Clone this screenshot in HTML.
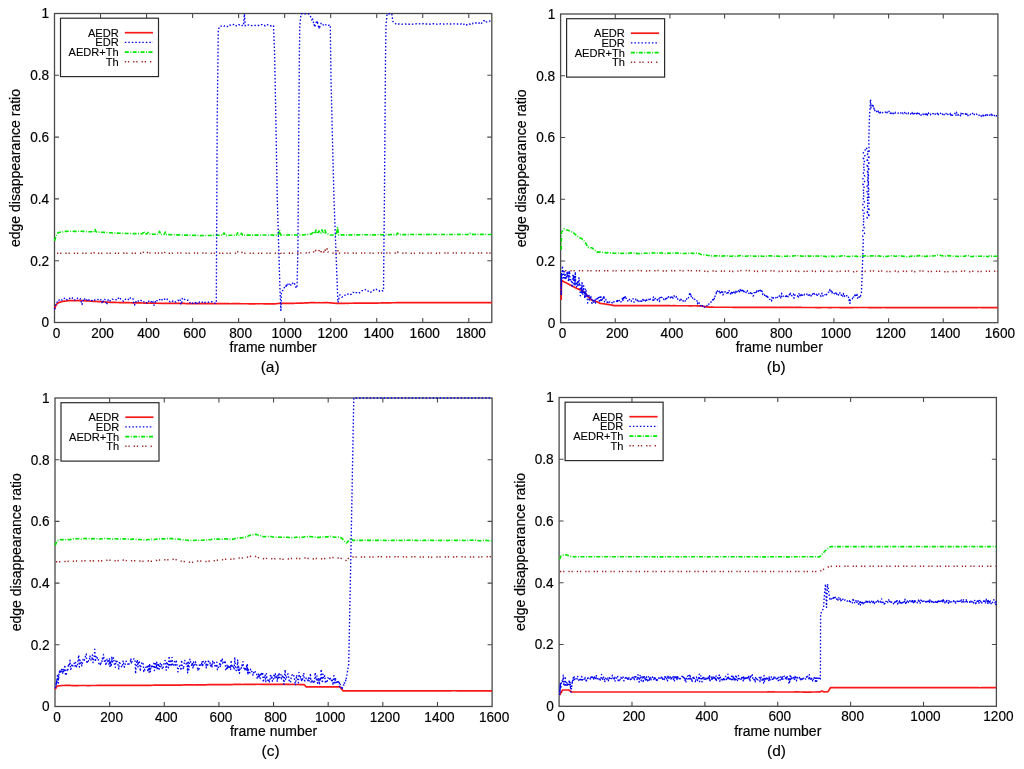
<!DOCTYPE html>
<html><head><meta charset="utf-8"><style>
html,body{margin:0;padding:0;background:#fff;}
body{width:1024px;height:769px;overflow:hidden;}
svg{display:block;will-change:transform;}
text{font-family:"Liberation Sans", sans-serif;fill:#000;stroke:#000;stroke-width:0.18px;}
.tk{font-size:14.2px;}
.lb{font-size:14px;}
.lg{font-size:11.1px;stroke-width:0.1px;}
.cap{font-size:15.5px;stroke-width:0.15px;}
</style></head><body>
<svg width="1024" height="769" viewBox="0 0 1024 769">
<rect width="1024" height="769" fill="#fff"/>
<text transform="translate(56.50,337.50) scale(0.960,1)" text-anchor="middle" class="tk">0</text>
<path d="M100.53 322.50V318.00M100.53 13.50V18.00" stroke="#4a4a4a" stroke-width="1.1"/>
<text transform="translate(102.53,337.50) scale(0.960,1)" text-anchor="middle" class="tk">200</text>
<path d="M146.56 322.50V318.00M146.56 13.50V18.00" stroke="#4a4a4a" stroke-width="1.1"/>
<text transform="translate(148.56,337.50) scale(0.960,1)" text-anchor="middle" class="tk">400</text>
<path d="M192.59 322.50V318.00M192.59 13.50V18.00" stroke="#4a4a4a" stroke-width="1.1"/>
<text transform="translate(194.59,337.50) scale(0.960,1)" text-anchor="middle" class="tk">600</text>
<path d="M238.63 322.50V318.00M238.63 13.50V18.00" stroke="#4a4a4a" stroke-width="1.1"/>
<text transform="translate(240.63,337.50) scale(0.960,1)" text-anchor="middle" class="tk">800</text>
<path d="M284.66 322.50V318.00M284.66 13.50V18.00" stroke="#4a4a4a" stroke-width="1.1"/>
<text transform="translate(286.66,337.50) scale(0.960,1)" text-anchor="middle" class="tk">1000</text>
<path d="M330.69 322.50V318.00M330.69 13.50V18.00" stroke="#4a4a4a" stroke-width="1.1"/>
<text transform="translate(332.69,337.50) scale(0.960,1)" text-anchor="middle" class="tk">1200</text>
<path d="M376.72 322.50V318.00M376.72 13.50V18.00" stroke="#4a4a4a" stroke-width="1.1"/>
<text transform="translate(378.72,337.50) scale(0.960,1)" text-anchor="middle" class="tk">1400</text>
<path d="M422.75 322.50V318.00M422.75 13.50V18.00" stroke="#4a4a4a" stroke-width="1.1"/>
<text transform="translate(424.75,337.50) scale(0.960,1)" text-anchor="middle" class="tk">1600</text>
<path d="M468.78 322.50V318.00M468.78 13.50V18.00" stroke="#4a4a4a" stroke-width="1.1"/>
<text transform="translate(470.78,337.50) scale(0.960,1)" text-anchor="middle" class="tk">1800</text>
<text transform="translate(49.10,327.40) scale(0.960,1)" text-anchor="end" class="tk">0</text>
<path d="M54.50 260.70H59.00M491.80 260.70H487.30" stroke="#4a4a4a" stroke-width="1.1"/>
<text transform="translate(49.10,265.60) scale(0.960,1)" text-anchor="end" class="tk">0.2</text>
<path d="M54.50 198.90H59.00M491.80 198.90H487.30" stroke="#4a4a4a" stroke-width="1.1"/>
<text transform="translate(49.10,203.80) scale(0.960,1)" text-anchor="end" class="tk">0.4</text>
<path d="M54.50 137.10H59.00M491.80 137.10H487.30" stroke="#4a4a4a" stroke-width="1.1"/>
<text transform="translate(49.10,142.00) scale(0.960,1)" text-anchor="end" class="tk">0.6</text>
<path d="M54.50 75.30H59.00M491.80 75.30H487.30" stroke="#4a4a4a" stroke-width="1.1"/>
<text transform="translate(49.10,80.20) scale(0.960,1)" text-anchor="end" class="tk">0.8</text>
<text transform="translate(49.10,18.40) scale(0.960,1)" text-anchor="end" class="tk">1</text>
<rect x="54.50" y="13.50" width="437.30" height="309.00" fill="none" stroke="#4a4a4a" stroke-width="1.3"/>
<text x="273.15" y="352.10" text-anchor="middle" class="lb">frame number</text>
<text transform="translate(20.30,168.00) rotate(-90)" text-anchor="middle" class="lb">edge disappearance ratio</text>
<text x="270.15" y="371.70" text-anchor="middle" class="cap">(a)</text>
<text transform="translate(562.60,337.70) scale(0.960,1)" text-anchor="middle" class="tk">0</text>
<path d="M615.26 322.70V318.20M615.26 14.00V18.50" stroke="#4a4a4a" stroke-width="1.1"/>
<text transform="translate(617.26,337.70) scale(0.960,1)" text-anchor="middle" class="tk">200</text>
<path d="M669.92 322.70V318.20M669.92 14.00V18.50" stroke="#4a4a4a" stroke-width="1.1"/>
<text transform="translate(671.92,337.70) scale(0.960,1)" text-anchor="middle" class="tk">400</text>
<path d="M724.59 322.70V318.20M724.59 14.00V18.50" stroke="#4a4a4a" stroke-width="1.1"/>
<text transform="translate(726.59,337.70) scale(0.960,1)" text-anchor="middle" class="tk">600</text>
<path d="M779.25 322.70V318.20M779.25 14.00V18.50" stroke="#4a4a4a" stroke-width="1.1"/>
<text transform="translate(781.25,337.70) scale(0.960,1)" text-anchor="middle" class="tk">800</text>
<path d="M833.91 322.70V318.20M833.91 14.00V18.50" stroke="#4a4a4a" stroke-width="1.1"/>
<text transform="translate(835.91,337.70) scale(0.960,1)" text-anchor="middle" class="tk">1000</text>
<path d="M888.58 322.70V318.20M888.58 14.00V18.50" stroke="#4a4a4a" stroke-width="1.1"/>
<text transform="translate(890.58,337.70) scale(0.960,1)" text-anchor="middle" class="tk">1200</text>
<path d="M943.24 322.70V318.20M943.24 14.00V18.50" stroke="#4a4a4a" stroke-width="1.1"/>
<text transform="translate(945.24,337.70) scale(0.960,1)" text-anchor="middle" class="tk">1400</text>
<text transform="translate(999.90,337.70) scale(0.960,1)" text-anchor="middle" class="tk">1600</text>
<text transform="translate(555.20,327.60) scale(0.960,1)" text-anchor="end" class="tk">0</text>
<path d="M560.60 260.96H565.10M997.90 260.96H993.40" stroke="#4a4a4a" stroke-width="1.1"/>
<text transform="translate(555.20,265.86) scale(0.960,1)" text-anchor="end" class="tk">0.2</text>
<path d="M560.60 199.22H565.10M997.90 199.22H993.40" stroke="#4a4a4a" stroke-width="1.1"/>
<text transform="translate(555.20,204.12) scale(0.960,1)" text-anchor="end" class="tk">0.4</text>
<path d="M560.60 137.48H565.10M997.90 137.48H993.40" stroke="#4a4a4a" stroke-width="1.1"/>
<text transform="translate(555.20,142.38) scale(0.960,1)" text-anchor="end" class="tk">0.6</text>
<path d="M560.60 75.74H565.10M997.90 75.74H993.40" stroke="#4a4a4a" stroke-width="1.1"/>
<text transform="translate(555.20,80.64) scale(0.960,1)" text-anchor="end" class="tk">0.8</text>
<text transform="translate(555.20,18.90) scale(0.960,1)" text-anchor="end" class="tk">1</text>
<rect x="560.60" y="14.00" width="437.30" height="308.70" fill="none" stroke="#4a4a4a" stroke-width="1.3"/>
<text x="779.25" y="352.30" text-anchor="middle" class="lb">frame number</text>
<text transform="translate(526.40,168.35) rotate(-90)" text-anchor="middle" class="lb">edge disappearance ratio</text>
<text x="776.25" y="371.90" text-anchor="middle" class="cap">(b)</text>
<text transform="translate(57.00,721.50) scale(0.960,1)" text-anchor="middle" class="tk">0</text>
<path d="M109.64 706.50V702.00M109.64 398.00V402.50" stroke="#4a4a4a" stroke-width="1.1"/>
<text transform="translate(111.64,721.50) scale(0.960,1)" text-anchor="middle" class="tk">200</text>
<path d="M164.28 706.50V702.00M164.28 398.00V402.50" stroke="#4a4a4a" stroke-width="1.1"/>
<text transform="translate(166.28,721.50) scale(0.960,1)" text-anchor="middle" class="tk">400</text>
<path d="M218.91 706.50V702.00M218.91 398.00V402.50" stroke="#4a4a4a" stroke-width="1.1"/>
<text transform="translate(220.91,721.50) scale(0.960,1)" text-anchor="middle" class="tk">600</text>
<path d="M273.55 706.50V702.00M273.55 398.00V402.50" stroke="#4a4a4a" stroke-width="1.1"/>
<text transform="translate(275.55,721.50) scale(0.960,1)" text-anchor="middle" class="tk">800</text>
<path d="M328.19 706.50V702.00M328.19 398.00V402.50" stroke="#4a4a4a" stroke-width="1.1"/>
<text transform="translate(330.19,721.50) scale(0.960,1)" text-anchor="middle" class="tk">1000</text>
<path d="M382.82 706.50V702.00M382.82 398.00V402.50" stroke="#4a4a4a" stroke-width="1.1"/>
<text transform="translate(384.82,721.50) scale(0.960,1)" text-anchor="middle" class="tk">1200</text>
<path d="M437.46 706.50V702.00M437.46 398.00V402.50" stroke="#4a4a4a" stroke-width="1.1"/>
<text transform="translate(439.46,721.50) scale(0.960,1)" text-anchor="middle" class="tk">1400</text>
<text transform="translate(494.10,721.50) scale(0.960,1)" text-anchor="middle" class="tk">1600</text>
<text transform="translate(49.60,711.40) scale(0.960,1)" text-anchor="end" class="tk">0</text>
<path d="M55.00 644.80H59.50M492.10 644.80H487.60" stroke="#4a4a4a" stroke-width="1.1"/>
<text transform="translate(49.60,649.70) scale(0.960,1)" text-anchor="end" class="tk">0.2</text>
<path d="M55.00 583.10H59.50M492.10 583.10H487.60" stroke="#4a4a4a" stroke-width="1.1"/>
<text transform="translate(49.60,588.00) scale(0.960,1)" text-anchor="end" class="tk">0.4</text>
<path d="M55.00 521.40H59.50M492.10 521.40H487.60" stroke="#4a4a4a" stroke-width="1.1"/>
<text transform="translate(49.60,526.30) scale(0.960,1)" text-anchor="end" class="tk">0.6</text>
<path d="M55.00 459.70H59.50M492.10 459.70H487.60" stroke="#4a4a4a" stroke-width="1.1"/>
<text transform="translate(49.60,464.60) scale(0.960,1)" text-anchor="end" class="tk">0.8</text>
<text transform="translate(49.60,402.90) scale(0.960,1)" text-anchor="end" class="tk">1</text>
<rect x="55.00" y="398.00" width="437.10" height="308.50" fill="none" stroke="#4a4a4a" stroke-width="1.3"/>
<text x="273.55" y="736.10" text-anchor="middle" class="lb">frame number</text>
<text transform="translate(20.80,552.25) rotate(-90)" text-anchor="middle" class="lb">edge disappearance ratio</text>
<text x="270.55" y="755.70" text-anchor="middle" class="cap">(c)</text>
<text transform="translate(561.10,721.30) scale(0.960,1)" text-anchor="middle" class="tk">0</text>
<path d="M631.98 706.30V701.80M631.98 397.50V402.00" stroke="#4a4a4a" stroke-width="1.1"/>
<text transform="translate(633.98,721.30) scale(0.960,1)" text-anchor="middle" class="tk">200</text>
<path d="M704.87 706.30V701.80M704.87 397.50V402.00" stroke="#4a4a4a" stroke-width="1.1"/>
<text transform="translate(706.87,721.30) scale(0.960,1)" text-anchor="middle" class="tk">400</text>
<path d="M777.75 706.30V701.80M777.75 397.50V402.00" stroke="#4a4a4a" stroke-width="1.1"/>
<text transform="translate(779.75,721.30) scale(0.960,1)" text-anchor="middle" class="tk">600</text>
<path d="M850.63 706.30V701.80M850.63 397.50V402.00" stroke="#4a4a4a" stroke-width="1.1"/>
<text transform="translate(852.63,721.30) scale(0.960,1)" text-anchor="middle" class="tk">800</text>
<path d="M923.52 706.30V701.80M923.52 397.50V402.00" stroke="#4a4a4a" stroke-width="1.1"/>
<text transform="translate(925.52,721.30) scale(0.960,1)" text-anchor="middle" class="tk">1000</text>
<text transform="translate(998.40,721.30) scale(0.960,1)" text-anchor="middle" class="tk">1200</text>
<text transform="translate(553.70,711.20) scale(0.960,1)" text-anchor="end" class="tk">0</text>
<path d="M559.10 644.54H563.60M996.40 644.54H991.90" stroke="#4a4a4a" stroke-width="1.1"/>
<text transform="translate(553.70,649.44) scale(0.960,1)" text-anchor="end" class="tk">0.2</text>
<path d="M559.10 582.78H563.60M996.40 582.78H991.90" stroke="#4a4a4a" stroke-width="1.1"/>
<text transform="translate(553.70,587.68) scale(0.960,1)" text-anchor="end" class="tk">0.4</text>
<path d="M559.10 521.02H563.60M996.40 521.02H991.90" stroke="#4a4a4a" stroke-width="1.1"/>
<text transform="translate(553.70,525.92) scale(0.960,1)" text-anchor="end" class="tk">0.6</text>
<path d="M559.10 459.26H563.60M996.40 459.26H991.90" stroke="#4a4a4a" stroke-width="1.1"/>
<text transform="translate(553.70,464.16) scale(0.960,1)" text-anchor="end" class="tk">0.8</text>
<text transform="translate(553.70,402.40) scale(0.960,1)" text-anchor="end" class="tk">1</text>
<rect x="559.10" y="397.50" width="437.30" height="308.80" fill="none" stroke="#4a4a4a" stroke-width="1.3"/>
<text x="777.75" y="735.90" text-anchor="middle" class="lb">frame number</text>
<text transform="translate(524.90,551.90) rotate(-90)" text-anchor="middle" class="lb">edge disappearance ratio</text>
<text x="776.55" y="755.50" text-anchor="middle" class="cap">(d)</text>
<polyline points="57.00,253.30 58.00,253.30 59.00,253.29 60.00,253.29 61.00,253.29 62.00,253.28 63.00,253.28 64.00,253.28 65.00,253.28 66.00,253.28 67.00,253.27 68.00,253.26 69.00,253.25 70.00,253.25 71.00,253.26 72.00,253.26 73.00,253.26 74.00,253.25 75.00,253.25 76.00,253.22 77.00,253.22 78.00,253.23 79.00,253.20 80.00,253.23 81.00,253.27 82.00,253.27 83.00,253.30 84.00,253.33 85.00,253.31 86.00,253.25 87.00,253.26 88.00,253.22 89.00,253.18 90.00,253.17 90.95,253.16 91.90,253.14 92.85,253.13 93.80,253.20 94.40,252.58 95.00,251.99 96.20,253.18 97.21,253.16 98.22,253.14 99.23,253.14 100.23,253.18 101.24,253.15 102.25,253.18 103.26,253.19 104.27,253.14 105.28,253.13 106.29,253.17 107.30,253.16 108.30,253.17 109.31,253.22 110.32,253.23 111.33,253.23 112.34,253.22 113.35,253.17 114.36,253.17 115.37,253.16 116.37,253.15 117.38,253.15 118.39,253.20 119.40,253.20 120.41,253.20 121.42,253.17 122.43,253.15 123.43,253.12 124.44,253.13 125.45,253.09 126.46,253.16 127.47,253.19 128.48,253.15 129.49,253.17 130.50,253.15 131.50,253.14 132.51,253.14 133.52,253.19 134.53,253.15 135.54,253.17 136.55,253.16 137.56,253.15 138.57,253.13 139.57,253.13 140.58,253.17 141.59,253.17 142.60,253.14 143.20,252.37 143.80,251.62 144.40,252.36 145.00,253.08 145.90,253.10 146.80,253.08 148.00,252.12 149.20,253.07 150.21,253.09 151.22,253.06 152.23,253.11 153.24,253.16 154.26,253.13 155.27,253.11 156.28,253.19 157.29,253.19 158.30,253.17 158.90,252.38 159.50,251.60 159.75,252.35 160.00,253.06 160.70,253.06 161.83,253.10 162.97,253.08 164.10,253.08 165.30,251.91 165.90,252.52 166.50,253.13 167.51,253.16 168.51,253.19 169.52,253.18 170.52,253.18 171.53,253.16 172.53,253.13 173.54,253.15 174.54,253.13 175.55,253.08 176.55,253.10 177.56,253.09 178.56,253.05 179.57,253.07 180.57,253.08 181.58,253.07 182.59,253.08 183.59,253.09 184.60,253.06 185.60,253.12 186.61,253.16 187.61,253.17 188.62,253.17 189.62,253.18 190.63,253.14 191.63,253.11 192.64,253.10 193.64,253.08 194.65,253.10 195.66,253.13 196.66,253.09 197.67,253.14 198.67,253.15 199.68,253.13 200.68,253.13 201.69,253.15 202.69,253.10 203.70,253.11 204.70,253.13 205.71,253.13 206.71,253.11 207.72,253.16 208.73,253.16 209.73,253.13 210.74,253.14 211.74,253.18 212.75,253.14 213.75,253.14 214.76,253.19 215.76,253.19 216.77,253.18 217.77,253.17 218.78,253.17 219.78,253.17 220.79,253.19 221.79,253.20 222.80,253.22 224.00,251.98 224.60,252.59 225.20,253.19 226.22,253.18 227.24,253.19 228.25,253.21 229.27,253.25 230.29,253.20 231.31,253.24 232.33,253.23 233.35,253.26 234.36,253.26 235.38,253.31 236.40,253.24 237.00,252.47 237.60,251.70 238.20,252.43 238.80,253.15 240.00,253.17 240.30,253.15 241.50,252.20 242.70,253.16 243.71,253.14 244.72,253.15 245.73,253.18 246.73,253.16 247.74,253.12 248.75,253.11 249.76,253.15 250.77,253.14 251.78,253.16 252.79,253.20 253.79,253.22 254.80,253.17 255.81,253.21 256.82,253.24 257.83,253.26 258.84,253.27 259.85,253.29 260.85,253.26 261.86,253.24 262.87,253.24 263.88,253.28 264.89,253.27 265.90,253.28 266.91,253.30 267.91,253.29 268.92,253.26 269.93,253.27 270.94,253.26 271.95,253.28 272.96,253.28 273.97,253.29 274.97,253.29 275.98,253.35 276.99,253.37 278.00,253.35 278.30,253.34 278.70,252.54 279.10,251.75 279.50,250.99 280.10,252.11 280.70,253.23 281.71,253.24 282.72,253.20 283.74,253.22 284.75,253.23 285.76,253.20 286.77,253.16 287.79,253.17 288.80,253.16 289.81,253.12 290.82,253.17 291.84,253.19 292.85,253.19 293.86,253.16 294.88,253.12 295.89,253.02 296.90,253.00 297.91,253.00 298.93,252.97 299.94,253.00 300.95,253.02 301.96,253.07 302.98,253.00 303.99,253.02 305.00,253.02 305.97,252.91 306.94,252.74 307.91,252.69 308.89,252.63 309.86,252.49 310.83,252.45 311.80,252.44 312.00,252.46 313.00,251.27 314.20,252.41 314.80,252.28 315.40,251.19 316.00,250.17 316.60,251.08 317.20,251.93 317.80,251.96 318.40,251.33 319.00,250.57 319.60,251.35 320.20,252.15 320.80,252.16 321.20,251.33 321.60,250.56 322.00,249.77 322.60,250.92 323.20,252.11 323.80,252.03 324.40,250.93 325.00,249.87 325.40,250.88 325.80,251.83 326.20,251.81 326.47,250.75 326.73,249.76 327.00,248.80 327.30,249.65 327.60,250.52 327.90,251.46 328.20,252.35 329.10,252.76 330.00,253.16 331.05,253.16 332.10,253.13 333.15,253.11 334.20,253.08 335.25,253.04 336.30,253.03 336.60,252.16 336.90,251.33 337.20,250.47 337.50,249.60 337.80,250.46 338.10,251.36 338.40,252.22 338.70,253.10 339.69,253.13 340.69,253.10 341.68,253.08 342.67,253.09 343.67,253.03 344.66,253.04 345.65,253.09 346.64,253.05 347.64,253.07 348.63,253.13 349.62,253.14 350.62,253.10 351.61,253.09 352.60,253.08 353.60,253.10 354.59,253.08 355.58,253.09 356.58,253.14 357.57,253.13 358.56,253.08 359.56,253.04 360.55,253.03 361.54,253.03 362.53,253.02 363.53,253.03 364.52,253.09 365.51,253.11 366.51,253.07 367.50,253.07 368.49,253.07 369.49,253.08 370.48,253.10 371.47,253.14 372.47,253.14 373.46,253.17 374.45,253.11 375.44,253.07 376.44,253.04 377.43,253.05 378.42,253.03 379.42,253.07 380.41,253.09 381.40,253.07 382.40,253.10 383.39,253.10 384.38,253.07 385.38,253.07 386.37,253.10 387.36,253.06 388.36,253.07 389.35,253.09 390.34,253.10 391.33,253.09 392.33,253.15 393.32,253.15 394.31,253.15 395.31,253.10 396.30,253.10 397.50,252.10 398.70,253.07 399.70,253.10 400.70,253.15 401.71,253.15 402.71,253.14 403.71,253.09 404.71,253.03 405.72,252.98 406.72,253.00 407.72,253.02 408.72,253.04 409.72,253.08 410.73,253.14 411.73,253.13 412.73,253.13 413.73,253.12 414.73,253.14 415.74,253.14 416.74,253.11 417.74,253.10 418.74,253.12 419.75,253.11 420.75,253.08 421.75,253.14 422.75,253.17 423.75,253.15 424.76,253.19 425.76,253.17 426.76,253.13 427.76,253.11 428.76,253.15 429.77,253.10 430.77,253.12 431.77,253.12 432.77,253.12 433.78,253.10 434.78,253.16 435.78,253.17 436.78,253.15 437.78,253.15 438.79,253.12 439.79,253.06 440.79,253.05 441.79,253.03 442.79,253.09 443.80,253.11 444.80,253.08 445.80,253.12 446.80,253.15 447.81,253.12 448.81,253.12 449.81,253.17 450.81,253.14 451.81,253.16 452.82,253.12 453.82,253.11 454.82,253.08 455.82,253.07 456.82,253.07 457.83,253.10 458.83,253.11 459.83,253.11 460.83,253.11 461.84,253.07 462.84,253.02 463.84,252.98 464.84,252.99 465.84,253.03 466.85,253.04 467.85,253.08 468.85,253.10 469.85,253.11 470.85,253.11 471.86,253.16 472.86,253.16 473.86,253.16 474.86,253.16 475.87,253.10 476.87,253.06 477.87,253.04 478.87,253.06 479.87,253.03 480.88,253.08 481.88,253.08 482.88,253.10 483.88,253.10 484.88,253.12 485.89,253.09 486.89,253.06 487.89,253.07 488.89,253.06 489.90,253.03 490.90,253.01 491.90,253.05" fill="none" stroke-linejoin="round" stroke="#a02222" stroke-width="1.5" stroke-dasharray="1.3 1.8 1.3 4.0"/>
<polyline points="54.60,240.90 56.00,236.00 56.50,235.16 57.00,234.32 57.50,233.49 58.00,232.61 59.00,232.45 60.00,232.30 61.00,232.13 62.00,231.96 63.00,231.83 64.00,231.63 65.00,231.40 66.00,231.38 67.00,231.34 68.00,231.29 69.00,231.27 70.00,231.28 71.00,231.27 72.00,231.29 73.00,231.32 74.00,231.34 75.00,231.37 76.00,231.40 77.00,231.37 78.00,231.27 79.00,231.26 80.00,231.19 80.99,231.23 81.97,231.30 82.96,231.39 83.94,231.42 84.93,231.54 85.91,231.57 86.90,231.61 87.89,231.65 88.87,231.72 89.86,231.70 90.84,231.74 91.83,231.77 92.81,231.82 93.80,231.85 94.20,231.06 94.60,230.25 95.00,229.45 95.40,230.29 95.80,231.14 96.20,231.99 97.15,232.03 98.10,232.09 99.05,232.13 100.00,232.21 101.00,232.25 102.00,232.29 103.00,232.29 104.00,232.35 105.00,232.37 106.00,232.45 107.00,232.52 108.00,232.60 109.00,232.68 110.00,232.74 111.00,232.81 112.00,232.87 113.00,232.97 114.00,233.00 115.00,233.07 116.00,233.09 117.00,233.14 118.00,233.16 119.00,233.23 120.00,233.28 121.00,233.30 122.00,233.34 123.00,233.34 124.00,233.34 125.00,233.35 126.00,233.41 127.00,233.43 128.00,233.48 129.00,233.48 130.00,233.53 131.00,233.54 132.00,233.57 133.00,233.62 134.00,233.67 135.00,233.64 136.00,233.67 137.00,233.65 138.00,233.65 139.00,233.66 140.00,233.70 140.87,233.71 141.73,233.70 142.60,233.74 143.00,232.93 143.40,232.14 143.80,231.33 144.20,232.18 144.60,233.03 145.00,233.86 145.90,233.82 146.80,233.83 147.40,233.16 148.00,232.47 148.60,233.21 149.20,234.00 150.21,234.06 151.22,234.13 152.23,234.15 153.24,234.19 154.26,234.23 155.27,234.21 156.28,234.24 157.29,234.26 158.30,234.29 158.70,233.31 159.10,232.35 159.50,231.35 159.90,232.39 160.30,233.40 160.70,234.43 161.83,234.44 162.97,234.44 164.10,234.45 164.50,233.69 164.90,232.87 165.30,232.04 165.70,232.90 166.10,233.76 166.50,234.59 167.38,234.59 168.25,234.63 169.12,234.60 170.00,234.67 171.00,234.74 172.00,234.73 173.00,234.78 174.00,234.82 175.00,234.79 176.00,234.76 177.00,234.85 178.00,234.87 179.00,234.92 180.00,234.96 181.00,235.05 182.00,235.07 183.00,235.09 184.00,235.12 185.00,235.17 186.00,235.15 187.00,235.14 188.00,235.18 189.00,235.12 190.00,235.13 191.00,235.14 192.00,235.20 193.00,235.25 194.00,235.33 195.00,235.36 196.00,235.45 197.00,235.46 198.00,235.50 199.00,235.53 200.00,235.58 200.99,235.59 201.98,235.57 202.97,235.55 203.97,235.56 204.96,235.50 205.95,235.49 206.94,235.48 207.93,235.47 208.92,235.45 209.91,235.46 210.90,235.40 211.90,235.44 212.89,235.39 213.88,235.38 214.87,235.34 215.86,235.32 216.85,235.24 217.84,235.25 218.83,235.25 219.83,235.24 220.82,235.24 221.81,235.28 222.80,235.27 223.20,234.47 223.60,233.68 224.00,232.85 224.40,233.69 224.80,234.54 225.20,235.40 226.22,235.41 227.24,235.38 228.25,235.33 229.27,235.32 230.29,235.28 231.31,235.27 232.33,235.25 233.35,235.26 234.36,235.25 235.38,235.24 236.40,235.27 236.80,234.46 237.20,233.62 237.60,232.76 238.00,233.62 238.40,234.47 238.80,235.25 239.55,235.23 240.30,235.23 240.90,234.22 241.50,233.23 242.10,234.22 242.70,235.23 243.71,235.18 244.72,235.24 245.73,235.20 246.73,235.17 247.74,235.14 248.75,235.15 249.76,235.15 250.77,235.17 251.78,235.18 252.79,235.14 253.79,235.14 254.80,235.14 255.81,235.13 256.82,235.11 257.83,235.14 258.84,235.13 259.85,235.05 260.85,235.01 261.86,235.01 262.87,235.02 263.88,235.04 264.89,235.05 265.90,235.05 266.91,235.02 267.91,235.04 268.92,235.00 269.93,235.01 270.94,235.04 271.95,235.08 272.96,235.05 273.97,235.09 274.97,235.13 275.98,235.08 276.99,235.06 278.00,235.03 278.30,235.03 278.54,233.99 278.78,233.02 279.02,232.03 279.26,231.03 279.50,230.00 279.74,231.02 279.98,232.03 280.22,233.04 280.46,234.00 280.70,235.05 281.72,235.04 282.73,235.07 283.75,235.03 284.76,235.07 285.78,234.99 286.79,234.96 287.81,234.95 288.83,234.90 289.84,234.91 290.86,234.93 291.87,234.96 292.89,234.96 293.91,235.01 294.92,234.98 295.94,235.02 296.95,235.02 297.97,235.01 298.98,235.03 300.00,235.04 301.00,234.99 302.00,234.94 303.00,234.85 304.00,234.72 305.00,234.70 306.00,234.64 307.00,234.61 308.00,234.59 308.95,234.39 309.90,234.15 310.85,233.91 311.80,233.63 312.00,233.56 312.50,232.53 313.00,231.49 313.60,232.48 314.20,233.50 314.80,233.47 315.10,232.57 315.40,231.75 315.70,230.80 316.00,229.95 316.30,230.75 316.60,231.55 316.90,232.39 317.20,233.22 317.80,233.32 318.20,232.59 318.60,231.74 319.00,230.91 319.40,231.74 319.80,232.51 320.20,233.27 320.80,233.28 321.10,232.41 321.40,231.52 321.70,230.70 322.00,229.87 322.30,230.70 322.60,231.53 322.90,232.38 323.20,233.24 323.80,233.28 324.20,232.30 324.60,231.33 325.00,230.33 325.40,231.31 325.80,232.36 326.20,233.32 327.00,233.42 328.00,233.98 329.00,234.57 330.00,235.06 331.05,235.03 332.10,234.98 333.15,234.95 334.20,234.97 335.25,234.98 336.30,235.03 336.45,234.09 336.60,233.14 336.75,232.18 336.90,231.22 337.05,230.28 337.20,229.33 337.35,228.39 337.50,227.46 337.65,228.40 337.80,229.33 337.95,230.27 338.10,231.21 338.25,232.14 338.40,233.08 338.55,234.01 338.70,234.93 339.69,234.93 340.69,234.89 341.68,234.86 342.67,234.90 343.67,234.88 344.66,234.88 345.65,234.91 346.64,234.92 347.64,234.88 348.63,234.94 349.62,234.88 350.62,234.87 351.61,234.83 352.60,234.83 353.60,234.76 354.59,234.82 355.58,234.81 356.58,234.84 357.57,234.85 358.56,234.85 359.56,234.81 360.55,234.80 361.54,234.81 362.53,234.78 363.53,234.74 364.52,234.77 365.51,234.77 366.51,234.75 367.50,234.75 368.49,234.82 369.49,234.82 370.48,234.87 371.47,234.87 372.47,234.90 373.46,234.86 374.45,234.83 375.44,234.83 376.44,234.80 377.43,234.73 378.42,234.73 379.42,234.73 380.41,234.65 381.40,234.68 382.40,234.69 383.39,234.68 384.38,234.63 385.38,234.67 386.37,234.63 387.36,234.66 388.36,234.67 389.35,234.69 390.34,234.66 391.33,234.66 392.33,234.64 393.32,234.66 394.31,234.67 395.31,234.67 396.30,234.65 396.90,233.86 397.50,233.11 398.10,233.81 398.70,234.56 400.00,234.59 400.99,234.64 401.99,234.68 402.98,234.65 403.97,234.63 404.97,234.63 405.96,234.65 406.95,234.64 407.94,234.61 408.94,234.58 409.93,234.53 410.92,234.52 411.92,234.54 412.91,234.57 413.90,234.58 414.90,234.57 415.89,234.55 416.88,234.53 417.88,234.55 418.87,234.54 419.86,234.55 420.86,234.57 421.85,234.61 422.84,234.59 423.83,234.58 424.83,234.59 425.82,234.59 426.81,234.59 427.81,234.57 428.80,234.56 430.00,233.53 431.20,234.51 432.19,234.50 433.18,234.51 434.17,234.54 435.16,234.50 436.15,234.48 437.14,234.44 438.13,234.44 439.12,234.44 440.11,234.47 441.09,234.53 442.08,234.51 443.07,234.50 444.06,234.52 445.05,234.52 446.04,234.52 447.03,234.58 448.02,234.58 449.01,234.57 450.00,234.54 450.99,234.57 451.98,234.51 452.97,234.52 453.96,234.49 454.95,234.54 455.94,234.45 456.93,234.46 457.92,234.43 458.91,234.41 459.89,234.41 460.88,234.44 461.87,234.42 462.86,234.45 463.85,234.48 464.84,234.43 465.83,234.43 466.82,234.45 467.81,234.46 468.80,234.41 470.00,233.45 471.20,234.43 472.19,234.42 473.17,234.42 474.16,234.43 475.14,234.37 476.13,234.36 477.11,234.34 478.10,234.34 479.09,234.39 480.07,234.45 481.06,234.42 482.04,234.40 483.03,234.41 484.01,234.38 485.00,234.34 485.99,234.39 486.97,234.46 487.96,234.45 488.94,234.48 489.93,234.50 490.91,234.50 491.90,234.47" fill="none" stroke-linejoin="round" stroke="#00e800" stroke-width="1.6" stroke-dasharray="4 1.5 0.9 1.5"/>
<polyline points="54.60,309.00 56.00,305.00 58.00,302.90 63.00,301.30 64.00,301.20 65.00,301.09 66.00,300.98 67.00,300.87 68.00,300.76 69.00,300.68 70.00,300.60 71.00,300.62 72.00,300.61 73.00,300.61 74.00,300.61 75.00,300.63 76.00,300.60 77.00,300.59 78.00,300.54 79.00,300.58 80.00,300.58 81.00,300.65 82.00,300.69 83.00,300.72 84.00,300.76 85.00,300.84 86.00,300.89 87.00,300.93 88.00,300.95 89.00,301.02 90.00,301.08 91.00,301.17 92.00,301.24 93.00,301.29 94.00,301.37 95.00,301.44 96.00,301.46 97.00,301.52 98.00,301.55 99.00,301.59 100.00,301.65 101.00,301.70 102.00,301.76 103.00,301.85 104.00,301.91 105.00,301.98 106.00,302.05 107.00,302.10 108.00,302.16 109.00,302.23 110.00,302.30 111.00,302.33 112.00,302.35 113.00,302.37 114.00,302.41 115.00,302.45 116.00,302.47 117.00,302.48 118.00,302.51 119.00,302.54 120.00,302.55 121.00,302.57 122.00,302.58 123.00,302.59 124.00,302.61 125.00,302.61 126.00,302.62 127.00,302.66 128.00,302.70 129.00,302.71 130.00,302.74 131.00,302.75 132.00,302.78 133.00,302.82 134.00,302.83 135.00,302.83 136.00,302.86 137.00,302.89 138.00,302.92 139.00,302.94 140.00,302.95 141.00,302.96 142.00,302.98 143.00,303.02 144.00,303.06 145.00,303.09 146.00,303.11 147.00,303.16 148.00,303.20 149.00,303.23 150.00,303.22 151.00,303.22 152.00,303.21 153.00,303.24 154.00,303.22 155.00,303.23 156.00,303.21 157.00,303.25 158.00,303.24 159.00,303.28 160.00,303.27 161.00,303.28 162.00,303.29 163.00,303.32 164.00,303.33 165.00,303.33 166.00,303.31 167.00,303.31 168.00,303.31 169.00,303.32 170.00,303.33 171.00,303.33 172.00,303.35 173.00,303.38 174.00,303.38 175.00,303.40 176.00,303.40 177.00,303.43 178.00,303.41 179.00,303.41 180.00,303.42 181.00,303.43 182.00,303.45 183.00,303.47 184.00,303.47 185.00,303.50 186.00,303.54 187.00,303.54 188.00,303.54 189.00,303.52 190.00,303.55 191.00,303.58 192.00,303.56 193.00,303.56 194.00,303.58 195.00,303.60 196.00,303.64 197.00,303.62 198.00,303.61 199.00,303.63 200.00,303.64 201.00,303.63 202.00,303.62 203.00,303.61 204.00,303.62 205.00,303.62 206.00,303.60 207.00,303.61 208.00,303.62 209.00,303.64 210.00,303.64 211.00,303.63 212.00,303.62 213.00,303.63 214.00,303.65 215.00,303.67 216.00,303.65 217.00,303.66 218.00,303.68 219.00,303.68 220.00,303.67 221.00,303.65 222.00,303.63 223.00,303.63 224.00,303.63 225.00,303.65 226.00,303.65 227.00,303.66 228.00,303.68 229.00,303.70 230.00,303.73 231.00,303.73 232.00,303.71 233.00,303.71 234.00,303.72 235.00,303.70 236.00,303.70 237.00,303.68 238.00,303.69 239.00,303.71 240.00,303.72 241.00,303.73 242.00,303.74 243.00,303.74 244.00,303.76 245.00,303.76 246.00,303.76 247.00,303.77 248.00,303.77 249.00,303.79 250.00,303.78 251.00,303.78 252.00,303.81 253.00,303.79 254.00,303.79 255.00,303.79 256.00,303.76 257.00,303.76 258.00,303.78 259.00,303.76 260.00,303.76 261.00,303.77 262.00,303.74 263.00,303.77 264.00,303.79 265.00,303.81 266.00,303.79 267.00,303.78 268.00,303.79 269.00,303.80 270.00,303.83 271.00,303.83 272.00,303.79 273.00,303.83 274.00,303.84 275.00,303.84 276.00,303.73 277.00,303.62 278.00,303.51 279.00,303.42 280.00,303.31 281.00,303.30 282.00,303.28 283.00,303.29 284.00,303.29 285.00,303.31 286.00,303.31 287.00,303.29 288.00,303.29 289.00,303.30 290.00,303.30 291.00,303.29 292.00,303.29 293.00,303.28 294.00,303.28 295.00,303.25 296.00,303.23 297.00,303.22 298.00,303.23 299.00,303.21 300.00,303.18 301.00,303.14 302.00,303.12 303.00,303.08 304.00,303.02 305.00,302.97 306.00,302.90 307.00,302.87 308.00,302.82 309.00,302.73 310.00,302.68 311.00,302.69 312.00,302.69 313.00,302.70 314.00,302.69 315.00,302.68 316.00,302.74 317.00,302.73 318.00,302.75 319.00,302.71 320.00,302.73 321.00,302.73 322.00,302.76 323.00,302.70 324.00,302.75 325.00,302.71 326.00,302.72 327.00,302.69 328.00,302.72 329.00,302.73 330.00,302.79 331.00,302.82 332.00,302.94 333.00,303.03 334.00,303.14 335.00,303.23 336.00,303.31 337.00,303.40 338.00,303.40 339.00,303.39 340.00,303.37 341.00,303.35 342.00,303.34 343.00,303.34 344.00,303.32 345.00,303.28 346.00,303.27 347.00,303.28 348.00,303.29 349.00,303.26 350.00,303.25 351.00,303.23 352.00,303.23 353.00,303.23 354.00,303.22 355.00,303.19 356.00,303.21 357.00,303.20 358.00,303.20 359.00,303.19 360.00,303.18 361.00,303.17 362.00,303.16 363.00,303.14 364.00,303.14 365.00,303.15 366.00,303.15 367.00,303.13 368.00,303.14 369.00,303.15 370.00,303.12 371.00,303.11 372.00,303.12 373.00,303.10 374.00,303.09 375.00,303.07 376.00,303.05 377.00,303.04 378.00,303.06 379.00,303.00 380.00,302.98 381.00,302.95 382.00,302.94 383.00,302.92 384.00,302.91 385.00,302.87 386.00,302.86 387.00,302.86 388.00,302.84 389.00,302.83 390.00,302.79 391.00,302.78 392.00,302.76 393.00,302.77 394.00,302.75 395.00,302.75 396.00,302.72 397.00,302.72 398.00,302.69 399.00,302.66 400.00,302.62 401.00,302.63 402.00,302.59 403.00,302.58 404.00,302.55 404.99,302.55 405.99,302.56 406.99,302.57 407.99,302.55 408.99,302.56 409.99,302.56 410.99,302.58 411.99,302.58 412.99,302.58 413.98,302.61 414.98,302.62 415.98,302.63 416.98,302.63 417.98,302.64 418.98,302.65 419.98,302.63 420.98,302.62 421.98,302.62 422.98,302.64 423.97,302.64 424.97,302.65 425.97,302.65 426.97,302.68 427.97,302.67 428.97,302.67 429.97,302.65 430.97,302.64 431.97,302.63 432.96,302.64 433.96,302.60 434.96,302.59 435.96,302.59 436.96,302.58 437.96,302.57 438.96,302.59 439.96,302.59 440.96,302.62 441.95,302.64 442.95,302.66 443.95,302.69 444.95,302.68 445.95,302.67 446.95,302.67 447.95,302.66 448.95,302.66 449.95,302.64 450.94,302.64 451.94,302.64 452.94,302.64 453.94,302.63 454.94,302.63 455.94,302.63 456.94,302.64 457.94,302.64 458.94,302.64 459.93,302.63 460.93,302.63 461.93,302.64 462.93,302.63 463.93,302.63 464.93,302.64 465.93,302.65 466.93,302.65 467.93,302.66 468.92,302.65 469.92,302.64 470.92,302.65 471.92,302.64 472.92,302.63 473.92,302.61 474.92,302.61 475.92,302.60 476.92,302.58 477.92,302.57 478.91,302.57 479.91,302.59 480.91,302.60 481.91,302.60 482.91,302.60 483.91,302.62 484.91,302.61 485.91,302.63 486.91,302.62 487.90,302.61 488.90,302.60 489.90,302.60 490.90,302.61 491.90,302.61" fill="none" stroke-linejoin="round" stroke="#f81818" stroke-width="1.7"/>
<polyline points="54.60,309.30 54.77,308.68 54.95,308.02 55.12,307.39 55.30,306.65 55.48,305.88 55.65,305.01 55.83,304.45 56.00,303.81 56.29,303.24 56.57,302.80 56.86,302.23 57.14,302.08 57.43,301.93 57.71,301.35 58.00,300.33 58.71,300.57 59.42,299.61 60.13,298.89 60.84,299.81 61.55,299.91 62.26,300.09 62.97,299.84 63.68,298.97 64.39,298.27 65.10,298.90 65.81,298.37 66.52,299.32 67.23,299.77 67.94,299.98 68.65,299.02 69.35,298.69 70.06,297.92 70.77,297.33 71.48,297.26 72.19,297.66 72.90,299.51 73.61,299.70 74.32,300.18 75.03,299.76 75.74,299.48 76.45,298.48 77.16,298.63 77.87,297.92 78.58,298.48 79.29,298.84 80.00,299.19 80.50,298.81 80.69,300.49 80.88,300.64 81.06,301.04 81.25,301.88 81.44,302.73 81.62,303.32 81.81,303.93 82.00,304.55 82.19,303.85 82.38,303.03 82.56,302.14 82.75,301.39 82.94,300.76 83.12,300.32 83.31,299.50 83.50,298.43 84.20,298.99 84.89,299.12 85.59,298.18 86.28,299.11 86.98,300.17 87.68,298.85 88.37,299.32 89.07,300.26 89.76,300.43 90.46,300.27 91.16,300.87 91.85,300.43 92.55,300.58 93.24,299.76 93.94,300.14 94.64,299.96 95.33,299.90 96.03,299.54 96.72,299.95 97.42,299.75 98.12,299.43 98.81,300.16 99.51,300.34 100.20,300.57 100.90,299.79 101.15,301.64 101.40,301.51 101.65,301.55 101.90,302.09 102.15,302.80 102.40,303.56 102.65,302.71 102.90,302.03 103.15,300.97 103.40,301.16 103.65,300.73 103.90,299.48 104.55,299.34 105.20,299.78 105.39,299.63 105.58,300.56 105.76,301.59 105.95,302.18 106.14,302.71 106.33,303.42 106.51,304.02 106.70,304.67 106.91,303.97 107.13,303.37 107.34,302.39 107.56,301.55 107.77,301.17 107.99,300.37 108.20,299.56 108.89,300.83 109.59,301.03 110.28,300.58 110.98,300.53 111.67,300.41 112.36,299.16 113.06,299.52 113.75,299.88 114.45,299.82 115.14,300.01 115.84,299.67 116.53,299.70 117.22,298.11 117.92,298.42 118.61,298.18 119.31,298.58 120.00,297.59 120.69,299.10 121.38,299.65 122.07,300.56 122.76,300.61 123.45,301.35 124.14,300.80 124.83,300.19 125.52,299.20 126.21,299.36 126.89,299.92 127.58,299.90 128.27,299.25 128.96,300.09 129.65,299.55 130.34,297.83 131.03,298.12 131.72,298.08 132.41,297.96 133.10,299.19 133.31,300.91 133.53,302.23 133.74,303.49 133.96,303.70 134.17,303.92 134.39,304.57 134.60,305.12 134.81,304.17 135.03,303.32 135.24,302.87 135.46,301.84 135.67,301.87 135.89,302.05 136.10,300.91 136.81,301.54 137.53,301.26 138.24,301.02 138.95,300.77 139.67,300.33 140.38,299.78 141.09,300.65 141.80,301.08 142.52,300.72 143.23,301.40 143.94,301.91 144.66,302.09 145.37,301.71 146.08,302.20 146.80,303.03 147.51,300.98 148.22,301.06 148.93,301.34 149.65,301.39 150.36,300.72 151.07,301.83 151.79,301.63 152.50,300.51 152.71,300.65 152.93,301.82 153.14,302.28 153.36,302.88 153.57,303.84 153.79,304.63 154.00,305.28 154.21,304.78 154.43,304.29 154.64,303.65 154.86,303.63 155.07,302.73 155.29,302.02 155.50,301.55 156.20,302.36 156.91,300.77 157.61,299.84 158.31,299.83 159.01,300.26 159.72,299.56 160.42,300.27 161.12,301.00 161.83,299.91 162.53,299.25 163.23,299.91 163.94,299.27 164.64,299.09 165.34,299.55 166.04,299.57 166.75,298.60 167.45,299.69 168.15,299.94 168.86,300.56 169.56,301.48 170.26,301.88 170.96,301.36 171.67,301.96 172.37,301.52 173.07,300.86 173.78,301.41 174.48,301.31 175.18,301.88 175.89,302.07 176.59,301.79 177.29,301.37 177.99,300.99 178.70,299.11 179.40,299.38 180.00,299.40 180.15,300.70 180.30,302.27 180.45,303.04 180.60,303.57 180.75,303.96 180.90,304.55 181.15,303.89 181.40,303.34 181.65,302.33 181.90,301.85 182.15,299.59 182.40,298.11 183.11,297.83 183.82,298.53 184.54,299.38 185.25,299.75 185.96,300.34 186.67,300.37 187.38,300.13 188.09,300.24 188.81,300.99 189.52,301.85 190.23,302.85 190.94,302.16 191.65,302.52 192.36,303.39 193.08,302.92 193.79,302.03 194.50,302.17 194.80,302.37 195.10,302.50 195.40,302.94 195.70,303.76 196.00,304.46 196.30,304.00 196.60,303.13 196.90,303.30 197.20,302.95 197.50,302.49 198.18,302.06 198.86,302.78 199.55,301.95 200.23,302.10 200.91,302.15 201.59,301.67 202.27,302.19 202.95,302.36 203.64,302.16 204.32,301.62 205.00,302.57 205.71,302.47 206.41,302.36 207.12,302.22 207.82,302.40 208.53,302.06 209.24,301.75 209.94,301.49 210.65,301.74 211.36,301.76 212.06,301.87 212.77,302.30 213.48,302.58 214.18,302.93 214.89,303.20 215.59,303.34 216.30,303.20 216.30,302.69 216.31,302.09 216.31,301.43 216.31,300.92 216.32,300.30 216.32,299.59 216.32,298.62 216.33,297.89 216.33,296.62 216.33,295.88 216.34,295.06 216.34,294.61 216.34,293.78 216.35,293.37 216.35,292.81 216.35,292.04 216.36,290.82 216.36,290.04 216.37,289.47 216.37,288.74 216.37,288.11 216.38,287.82 216.38,287.08 216.38,286.25 216.39,285.46 216.39,284.81 216.39,283.90 216.40,283.30 216.40,282.69 216.40,281.96 216.41,281.16 216.41,280.50 216.41,279.85 216.42,279.19 216.42,278.68 216.42,277.91 216.43,277.35 216.43,276.58 216.43,276.02 216.44,275.19 216.44,274.71 216.44,273.98 216.45,273.51 216.45,272.70 216.45,272.17 216.46,271.24 216.46,270.57 216.46,269.66 216.47,268.94 216.47,268.01 216.48,267.38 216.48,266.63 216.48,266.06 216.49,265.43 216.49,264.81 216.49,264.07 216.50,263.31 216.50,262.47 216.50,261.70 216.51,261.16 216.51,260.71 216.51,259.95 216.52,259.12 216.52,258.23 216.52,257.44 216.53,256.32 216.53,255.72 216.53,255.28 216.54,254.84 216.54,254.16 216.54,253.65 216.55,252.76 216.55,251.95 216.55,251.19 216.56,250.51 216.56,250.04 216.56,249.54 216.57,248.98 216.57,248.25 216.57,247.42 216.58,246.59 216.58,245.70 216.59,244.95 216.59,244.36 216.59,243.68 216.60,242.79 216.60,242.29 216.60,241.52 216.61,240.75 216.61,240.01 216.61,239.51 216.62,238.80 216.62,238.31 216.62,237.56 216.63,237.01 216.63,236.23 216.63,235.35 216.64,234.72 216.64,233.91 216.64,233.40 216.65,232.82 216.65,232.43 216.65,231.43 216.66,230.97 216.66,230.07 216.66,229.36 216.67,228.68 216.67,228.08 216.67,227.28 216.68,226.47 216.68,225.66 216.68,224.72 216.69,224.01 216.69,223.40 216.70,222.85 216.70,222.31 216.70,221.69 216.71,221.07 216.71,220.31 216.71,219.51 216.72,218.69 216.72,217.98 216.72,217.17 216.73,216.47 216.73,215.76 216.73,215.06 216.74,214.29 216.74,213.63 216.74,212.92 216.75,212.25 216.75,211.57 216.75,210.87 216.76,210.19 216.76,209.46 216.76,208.82 216.77,208.00 216.77,207.38 216.77,206.68 216.78,205.94 216.78,205.13 216.78,204.51 216.79,203.78 216.79,202.99 216.79,202.37 216.80,201.75 216.80,201.11 216.80,200.38 216.81,199.75 216.81,199.01 216.82,198.26 216.82,197.53 216.82,196.88 216.83,196.20 216.83,195.51 216.83,194.92 216.84,194.24 216.84,193.52 216.84,192.77 216.85,192.06 216.85,191.24 216.85,190.49 216.86,189.83 216.86,189.20 216.86,188.56 216.87,187.86 216.87,187.24 216.87,186.56 216.88,185.82 216.88,185.10 216.88,184.40 216.89,183.70 216.89,182.90 216.89,182.14 216.90,181.40 216.90,180.88 216.90,180.11 216.91,179.51 216.91,178.84 216.91,178.19 216.92,177.34 216.92,176.62 216.93,175.88 216.93,175.22 216.93,174.48 216.94,173.83 216.94,173.10 216.94,172.43 216.95,171.72 216.95,171.06 216.95,170.31 216.96,169.70 216.96,168.94 216.96,168.27 216.97,167.59 216.97,166.96 216.97,166.20 216.98,165.50 216.98,164.76 216.98,164.02 216.99,163.29 216.99,162.56 216.99,161.94 217.00,161.23 217.00,160.54 217.00,159.86 217.01,159.22 217.01,158.47 217.01,157.80 217.02,157.11 217.02,156.39 217.02,155.69 217.03,154.99 217.03,154.33 217.04,153.63 217.04,152.93 217.04,152.23 217.05,151.51 217.05,150.78 217.05,150.04 217.06,149.34 217.06,148.63 217.06,147.93 217.07,147.21 217.07,146.54 217.07,145.85 217.08,145.14 217.08,144.50 217.08,143.84 217.09,143.13 217.09,142.43 217.09,141.75 217.10,141.02 217.10,140.31 217.10,139.58 217.11,138.87 217.11,138.17 217.11,137.46 217.12,136.74 217.12,136.06 217.12,135.37 217.13,134.70 217.13,134.01 217.13,133.33 217.14,132.63 217.14,131.93 217.15,131.21 217.15,130.51 217.15,129.82 217.16,129.11 217.16,128.41 217.16,127.71 217.17,127.00 217.17,126.29 217.17,125.59 217.18,124.89 217.18,124.19 217.18,123.49 217.19,122.80 217.19,122.10 217.19,121.40 217.20,120.70 217.20,120.00 218.30,30.00 219.50,26.50 220.12,26.31 220.75,26.12 221.38,26.06 222.00,26.05 222.69,25.55 223.39,25.91 224.08,26.22 224.77,25.76 225.47,25.95 226.16,26.54 226.85,26.51 227.55,26.37 228.24,26.64 228.94,26.09 229.63,25.28 230.32,25.14 231.02,24.54 231.71,24.22 232.40,24.49 233.10,24.64 233.79,24.47 234.48,25.24 235.18,25.88 235.87,25.56 236.56,25.77 237.26,25.86 237.95,25.09 238.65,24.58 239.34,24.82 240.03,24.43 240.73,24.48 241.42,24.88 242.11,25.62 242.81,25.42 243.50,25.51 243.55,24.78 243.61,24.20 243.66,22.86 243.71,22.07 243.76,21.52 243.82,20.66 243.87,20.19 243.92,19.87 243.98,19.36 244.03,18.53 244.08,18.10 244.14,17.39 244.19,16.66 244.24,16.05 244.29,15.42 244.35,14.69 244.40,14.00 244.45,14.68 244.51,15.33 244.56,15.95 244.61,16.65 244.66,17.23 244.72,17.84 244.77,18.58 244.82,19.37 244.88,19.83 244.93,20.53 244.98,21.46 245.04,22.12 245.09,22.80 245.14,23.94 245.19,24.64 245.25,25.18 245.30,25.83 246.01,25.70 246.71,25.67 247.42,25.40 248.12,25.08 248.83,25.00 249.53,25.36 250.24,25.24 250.94,25.44 251.65,25.65 252.35,25.62 253.06,25.47 253.76,25.31 254.47,25.43 255.17,25.38 255.88,25.71 256.58,25.58 257.29,25.71 257.99,25.47 258.69,25.47 259.40,24.90 260.11,24.79 260.81,24.93 261.51,24.65 262.22,24.70 262.93,25.43 263.63,25.66 264.33,25.37 265.04,25.83 265.75,25.49 266.45,24.55 267.16,24.57 267.86,24.81 268.56,24.84 269.27,25.40 269.98,25.74 270.68,25.70 271.38,25.97 272.09,25.57 272.80,25.69 273.50,25.63 273.53,25.97 273.56,26.40 273.59,27.19 273.61,27.87 273.64,29.06 273.67,30.18 273.70,30.62 273.73,31.48 273.76,32.11 273.79,32.76 273.81,33.83 273.84,34.30 273.87,34.98 273.90,35.45 273.93,35.83 273.96,36.46 273.99,37.41 274.01,38.31 274.04,39.09 274.07,39.80 274.10,40.34 274.13,41.01 274.16,41.72 274.19,42.42 274.21,43.07 274.24,43.70 274.27,44.52 274.30,45.05 274.33,45.80 274.36,46.56 274.39,47.29 274.41,47.93 274.44,48.63 274.47,49.30 274.50,50.00 275.50,100.00 277.30,200.00 280.00,290.00 280.90,310.40 280.92,309.72 280.94,309.05 280.96,308.35 280.98,307.65 281.00,306.94 281.02,306.21 281.04,305.44 281.06,304.68 281.08,303.94 281.10,303.29 281.12,302.46 281.14,301.92 281.16,301.32 281.18,300.91 281.20,300.34 281.22,299.92 281.24,299.16 281.26,298.59 281.28,297.55 281.30,296.75 281.32,295.62 281.34,295.15 281.36,294.08 281.38,293.14 281.40,292.14 281.85,291.60 282.30,290.76 282.75,290.52 283.20,290.13 283.65,289.57 284.10,288.51 284.55,286.51 285.00,286.44 285.38,286.07 285.75,285.58 286.12,286.39 286.50,287.20 286.88,285.46 287.25,284.27 287.62,284.71 288.00,284.44 288.67,283.55 289.33,284.75 290.00,286.03 290.50,285.72 291.00,284.18 291.50,284.55 292.00,283.90 292.33,283.13 292.67,283.07 293.00,283.47 293.33,282.61 293.67,282.79 294.00,283.66 294.50,283.60 295.00,284.81 295.50,286.62 296.00,287.35 296.50,287.70 297.00,288.12 297.02,287.46 297.03,286.33 297.05,285.75 297.07,285.05 297.08,284.66 297.10,283.72 297.12,283.20 297.13,282.45 297.15,281.93 297.17,280.99 297.18,280.62 297.20,280.05 297.22,279.23 297.23,278.26 297.25,277.58 297.27,276.49 297.28,275.52 297.30,274.89 297.32,274.33 297.33,273.68 297.35,273.12 297.37,272.55 297.38,271.59 297.40,270.98 297.42,270.31 297.43,269.53 297.45,268.80 297.47,268.02 297.48,267.39 297.50,266.71 297.52,266.14 297.53,265.39 297.55,264.91 297.57,264.12 297.58,263.29 297.60,262.54 297.62,262.02 297.63,261.29 297.65,260.59 297.67,260.01 297.68,259.37 297.70,258.56 297.72,257.78 297.73,257.08 297.75,256.38 297.77,255.65 297.78,254.90 297.80,254.24 297.82,253.51 297.83,252.80 297.85,252.08 297.87,251.41 297.88,250.71 297.90,250.00 299.30,60.00 299.80,26.00 301.00,13.80 308.30,13.80 308.75,14.14 309.20,14.71 309.65,15.28 310.10,15.47 310.55,16.52 311.00,18.21 311.33,18.59 311.67,18.98 312.00,20.22 312.33,21.07 312.67,18.89 313.00,20.38 313.33,21.57 313.67,23.92 314.00,23.51 314.33,25.32 314.67,24.47 315.00,26.06 315.50,24.36 316.00,23.63 316.50,21.51 317.00,23.08 317.40,20.84 317.80,23.60 318.20,23.92 318.60,28.80 319.00,27.69 319.50,28.74 320.00,25.40 320.50,25.28 321.00,23.44 321.75,23.22 322.50,23.13 323.25,25.01 324.00,24.45 324.75,23.85 325.50,24.66 326.25,24.88 327.00,24.54 327.66,24.93 328.32,25.33 328.98,25.16 329.64,25.04 330.30,24.81 330.31,25.44 330.32,26.04 330.33,26.93 330.34,27.65 330.34,28.83 330.35,29.48 330.36,30.16 330.37,30.81 330.38,31.46 330.39,31.85 330.40,32.71 330.41,33.48 330.42,34.12 330.42,35.10 330.43,35.87 330.44,36.68 330.45,37.17 330.46,37.71 330.47,38.21 330.48,38.87 330.49,39.47 330.49,40.26 330.50,41.12 330.51,41.74 330.52,42.45 330.53,42.99 330.54,43.69 330.55,44.39 330.56,45.23 330.57,46.04 330.57,46.76 330.58,47.40 330.59,48.02 330.60,48.62 330.61,49.16 330.62,49.97 330.63,50.67 330.64,51.42 330.65,52.24 330.65,53.00 330.66,53.71 330.67,54.42 330.68,55.02 330.69,55.51 330.70,56.28 330.71,57.05 330.72,57.64 330.73,58.34 330.73,59.11 330.74,59.70 330.75,60.27 330.76,61.11 330.77,61.85 330.78,62.59 330.79,63.26 330.80,63.97 330.81,64.70 330.81,65.38 330.82,65.99 330.83,66.73 330.84,67.43 330.85,68.01 330.86,68.74 330.87,69.50 330.88,70.21 330.88,70.90 330.89,71.65 330.90,72.34 330.91,73.00 330.92,73.70 330.93,74.41 330.94,75.11 330.95,75.82 330.96,76.52 330.96,77.22 330.97,77.92 330.98,78.61 330.99,79.31 331.00,80.00 334.00,200.00 337.90,302.50 338.09,301.88 338.28,301.10 338.47,300.32 338.66,299.63 338.85,298.95 339.04,297.86 339.23,297.27 339.42,296.32 339.61,295.79 339.80,294.96 340.48,295.09 341.16,296.07 341.84,297.09 342.52,296.89 343.20,296.71 343.88,296.67 344.56,295.99 345.24,294.91 345.92,294.81 346.60,294.30 347.28,294.57 347.96,294.03 348.64,294.43 349.32,294.48 350.00,294.99 350.72,294.42 351.45,294.20 352.17,293.53 352.89,292.38 353.62,292.35 354.34,292.34 355.06,291.82 355.78,292.61 356.51,292.63 357.23,292.66 357.95,292.60 358.68,293.31 359.40,292.66 360.09,292.48 360.77,291.74 361.46,291.39 362.14,290.58 362.83,290.69 363.51,290.56 364.20,290.07 364.89,289.85 365.57,289.66 366.26,289.36 366.94,290.22 367.63,290.80 368.31,291.02 369.00,292.02 369.73,292.15 370.45,292.44 371.18,291.97 371.91,292.04 372.64,291.37 373.36,290.68 374.09,289.74 374.82,290.16 375.55,289.67 376.27,289.20 377.00,289.98 377.72,290.19 378.44,290.13 379.17,290.65 379.89,291.43 380.61,291.18 381.33,290.93 382.06,290.78 382.78,290.90 383.50,290.68 383.51,290.07 383.51,289.81 383.52,288.92 383.53,287.98 383.53,287.09 383.54,285.98 383.55,284.94 383.56,284.50 383.56,283.90 383.57,283.14 383.58,282.57 383.58,281.85 383.59,280.95 383.60,280.21 383.60,279.45 383.61,278.72 383.62,278.07 383.63,277.86 383.63,277.11 383.64,276.62 383.65,276.13 383.65,275.24 383.66,274.19 383.67,273.90 383.67,273.48 383.68,272.68 383.69,272.34 383.70,271.45 383.70,270.55 383.71,269.53 383.72,268.81 383.72,267.92 383.73,267.48 383.74,266.52 383.74,265.61 383.75,264.48 383.76,263.50 383.77,262.76 383.77,262.04 383.78,261.37 383.79,261.23 383.79,260.83 383.80,259.99 383.81,259.22 383.81,258.86 383.82,257.96 383.83,257.06 383.83,256.47 383.84,255.70 383.85,255.11 383.86,254.39 383.86,253.87 383.87,253.06 383.88,252.43 383.88,251.52 383.89,250.73 383.90,249.80 383.90,249.28 383.91,248.69 383.92,247.86 383.93,247.32 383.93,246.80 383.94,245.98 383.95,245.13 383.95,244.57 383.96,243.59 383.97,242.80 383.97,242.29 383.98,241.80 383.99,240.96 384.00,240.39 384.00,239.82 384.01,239.08 384.02,238.34 384.02,237.77 384.03,237.23 384.04,236.63 384.04,235.73 384.05,235.01 384.06,234.39 384.07,233.67 384.07,232.77 384.08,232.02 384.09,231.46 384.09,230.66 384.10,229.93 384.11,229.29 384.11,228.80 384.12,228.09 384.13,227.49 384.13,226.69 384.14,226.00 384.15,225.29 384.16,224.52 384.16,223.73 384.17,223.20 384.18,222.52 384.18,221.70 384.19,221.11 384.20,220.45 384.20,219.67 384.21,218.99 384.22,218.38 384.23,217.60 384.23,216.90 384.24,216.18 384.25,215.49 384.25,214.84 384.26,214.13 384.27,213.32 384.27,212.67 384.28,211.96 384.29,211.18 384.30,210.50 384.30,209.82 384.31,209.10 384.32,208.35 384.32,207.67 384.33,206.99 384.34,206.31 384.34,205.60 384.35,204.93 384.36,204.21 384.37,203.49 384.37,202.81 384.38,202.10 384.39,201.41 384.39,200.71 384.40,200.00 385.50,60.00 386.00,25.00 387.10,13.80 391.80,13.80 392.90,21.50 396.70,24.50 397.35,24.11 398.00,23.87 398.70,23.98 399.39,23.96 400.09,24.00 400.79,24.14 401.48,24.30 402.18,24.21 402.88,24.07 403.57,24.19 404.27,24.05 404.97,23.96 405.66,24.03 406.36,24.22 407.06,24.24 407.75,24.37 408.45,24.26 409.15,24.27 409.84,24.10 410.54,24.19 411.24,24.15 411.93,24.25 412.63,24.12 413.33,24.11 414.02,23.97 414.72,23.85 415.42,23.81 416.11,23.74 416.81,23.62 417.51,23.64 418.20,23.67 418.90,23.67 419.60,23.82 420.29,23.87 420.99,23.77 421.69,23.82 422.38,23.79 423.08,23.67 423.78,23.86 424.47,23.95 425.17,24.04 425.87,23.98 426.56,24.02 427.26,23.99 427.96,24.01 428.65,23.86 429.35,24.02 430.04,24.22 430.74,24.21 431.44,24.11 432.13,24.14 432.83,23.92 433.53,23.74 434.22,23.67 434.92,23.68 435.62,23.72 436.31,23.98 437.01,24.13 437.71,24.01 438.40,24.03 439.10,24.04 439.80,23.97 440.49,23.80 441.19,23.97 441.89,24.08 442.58,24.03 443.28,23.98 443.98,24.15 444.67,23.97 445.37,23.92 446.07,23.97 446.76,23.92 447.46,23.83 448.16,23.92 448.85,23.89 449.55,23.95 450.25,24.02 450.94,24.02 451.64,24.07 452.34,24.10 453.03,23.84 453.73,23.84 454.43,23.88 455.12,23.85 455.82,23.91 456.52,24.06 457.21,24.03 457.91,23.96 458.61,23.80 459.30,23.92 460.00,23.87 460.68,24.15 461.35,23.94 462.02,24.49 462.70,23.86 463.40,24.20 464.10,24.14 464.80,25.12 465.50,24.83 466.20,25.08 466.90,24.69 467.60,24.62 468.30,23.83 469.00,23.79 469.70,23.99 470.40,24.27 471.10,23.64 471.80,23.87 472.50,23.88 473.20,22.92 473.90,22.72 474.60,22.77 475.30,22.75 476.00,23.03 476.70,23.18 477.39,23.11 478.09,23.74 478.78,23.26 479.48,23.00 480.17,23.83 480.87,23.97 481.56,23.22 482.26,22.38 482.95,21.92 483.65,20.78 484.34,20.74 485.04,20.73 485.73,22.31 486.43,21.85 487.12,21.93 487.82,21.39 488.51,21.11 489.21,21.08 489.90,21.21 490.60,21.39 491.60,22.00" fill="none" stroke-linejoin="round" stroke="#0000f0" stroke-width="1.35" stroke-dasharray="1.5 2.0"/>
<polyline points="562.00,270.70 563.00,270.70 564.00,270.71 565.00,270.71 566.00,270.72 567.00,270.72 568.00,270.71 569.00,270.71 570.00,270.70 571.00,270.69 572.00,270.69 573.00,270.69 574.00,270.70 575.00,270.71 576.00,270.73 577.00,270.74 578.00,270.72 579.00,270.71 580.00,270.72 581.00,270.69 582.00,270.67 583.00,270.67 584.00,270.67 585.00,270.65 586.00,270.73 587.00,270.75 588.00,270.78 589.00,270.81 590.00,270.81 591.00,270.76 592.00,270.73 593.00,270.71 594.00,270.70 595.00,270.73 596.00,270.77 597.00,270.78 598.00,270.79 599.00,270.80 600.00,270.82 601.00,270.74 602.00,270.76 603.00,270.73 604.00,270.75 605.00,270.81 606.00,270.82 607.00,270.84 608.00,270.85 609.00,270.72 610.00,270.67 611.00,270.75 612.00,270.79 613.00,270.82 614.00,270.87 615.00,270.90 616.00,270.86 617.00,270.79 618.00,270.80 619.00,270.80 620.00,270.78 621.00,270.78 622.00,270.69 623.00,270.69 624.00,270.65 625.00,270.57 626.00,270.60 627.00,270.63 628.00,270.65 629.00,270.66 630.00,270.71 631.00,270.73 632.00,270.75 633.00,270.67 634.00,270.73 635.00,270.65 636.00,270.57 637.00,270.57 638.00,270.54 639.00,270.59 640.00,270.71 641.00,270.74 642.00,270.81 643.00,270.97 644.00,270.89 645.00,270.99 646.00,270.94 647.00,270.90 648.00,270.86 649.00,270.84 650.00,270.68 651.00,270.72 652.00,270.74 653.00,270.81 654.00,270.82 655.00,270.75 656.00,270.75 657.00,270.65 658.00,270.46 659.00,270.44 660.00,270.59 661.00,270.63 662.00,270.78 663.00,270.91 664.00,270.89 665.00,270.82 666.00,270.90 667.00,270.77 668.00,270.70 669.00,270.81 670.00,270.67 671.00,270.54 672.00,270.65 673.00,270.68 674.00,270.74 675.00,270.77 676.00,270.77 677.00,270.80 678.00,270.63 679.00,270.56 680.00,270.54 681.00,270.60 682.00,270.61 683.00,270.89 684.00,270.81 685.00,270.93 686.00,270.71 687.00,270.65 688.00,270.44 689.00,270.78 690.00,270.63 691.00,270.73 692.00,270.62 693.00,270.78 694.00,270.37 695.00,270.63 696.00,270.67 697.00,270.83 698.00,270.65 699.00,270.70 700.00,270.64 701.00,270.70 702.00,270.61 703.00,270.73 704.00,271.07 705.00,271.26 706.00,271.34 707.00,271.47 708.00,271.39 709.00,271.36 710.00,270.98 711.00,270.79 712.00,270.82 713.00,270.91 714.00,270.84 715.00,271.04 716.00,271.28 717.00,271.31 718.00,271.26 719.00,271.14 720.00,271.14 721.00,271.22 722.00,270.86 723.00,270.93 724.00,270.95 725.00,270.94 726.00,270.69 727.00,270.94 728.00,271.04 729.00,270.95 730.00,271.18 731.00,271.34 732.00,271.38 733.00,271.36 734.00,271.60 735.00,271.24 736.00,271.19 737.00,271.23 738.00,271.05 739.00,270.68 740.00,270.80 741.00,270.59 742.00,270.35 743.00,270.34 744.00,270.42 745.00,270.39 746.00,270.59 747.00,270.52 748.00,270.52 749.00,270.67 750.00,270.45 751.00,270.46 752.00,270.88 753.00,271.01 754.00,271.03 755.00,271.39 756.00,271.42 757.00,271.23 758.00,271.42 759.00,271.18 760.00,271.10 761.00,271.05 762.00,271.07 763.00,270.86 764.00,271.17 765.00,271.22 766.00,271.00 767.00,270.82 768.00,270.80 769.00,270.58 770.00,270.48 771.00,270.85 772.00,270.81 773.00,270.73 774.00,270.94 775.00,270.95 776.00,270.87 777.00,271.24 778.00,271.46 779.00,271.36 780.00,271.45 781.00,271.47 782.00,271.29 783.00,271.07 784.00,271.21 785.00,271.35 786.00,271.24 787.00,271.11 788.00,271.33 789.00,271.34 790.00,271.19 791.00,271.15 792.00,271.34 793.00,271.15 794.00,270.86 795.00,270.79 796.00,271.02 797.00,271.02 798.00,271.21 799.00,271.51 800.00,271.78 801.00,271.56 802.00,271.36 803.00,271.41 804.00,271.38 804.99,271.15 805.99,271.22 806.99,271.33 807.99,271.21 808.99,271.06 809.99,270.99 810.99,271.03 811.99,271.04 812.99,270.95 813.99,271.01 814.98,271.17 815.98,271.52 816.98,271.37 817.98,271.45 818.98,271.24 819.98,271.21 820.98,270.95 821.98,271.24 822.98,271.24 823.98,271.41 824.97,271.48 825.97,271.52 826.97,271.19 827.97,271.16 828.97,271.17 829.97,271.03 830.97,270.83 831.97,271.23 832.97,271.34 833.97,271.47 834.96,271.47 835.96,271.71 836.96,271.51 837.96,271.40 838.96,271.11 839.96,271.27 840.96,271.01 841.96,270.84 842.96,270.98 843.96,271.08 844.95,270.97 845.95,271.19 846.95,271.14 847.95,271.02 848.95,271.09 849.95,271.30 850.95,271.20 851.95,271.52 852.95,271.67 853.95,271.74 854.94,271.59 855.94,271.49 856.94,271.37 857.94,271.23 858.94,271.14 859.94,271.23 860.94,271.43 861.94,271.47 862.94,271.52 863.94,271.53 864.93,271.44 865.93,271.20 866.93,271.20 867.93,271.25 868.93,271.22 869.93,271.06 870.93,271.10 871.93,271.26 872.93,270.95 873.93,270.95 874.92,271.00 875.92,271.22 876.92,271.10 877.92,271.26 878.92,271.35 879.92,271.23 880.92,271.04 881.92,270.87 882.92,271.00 883.92,270.93 884.91,271.35 885.91,271.37 886.91,271.50 887.91,271.46 888.91,271.74 889.91,271.53 890.91,271.39 891.91,271.16 892.91,271.21 893.91,271.05 894.90,271.00 895.90,271.24 896.90,271.57 897.90,271.71 898.90,271.52 899.90,271.57 900.90,271.38 901.90,271.38 902.90,271.14 903.89,271.15 904.89,271.24 905.89,271.44 906.89,271.33 907.89,271.43 908.89,271.30 909.89,271.08 910.89,270.99 911.89,270.99 912.89,271.09 913.88,271.53 914.88,271.78 915.88,271.80 916.88,271.74 917.88,271.59 918.88,271.29 919.88,270.96 920.88,270.83 921.88,270.82 922.88,271.02 923.87,271.14 924.87,271.33 925.87,271.47 926.87,271.47 927.87,271.40 928.87,271.44 929.87,271.67 930.87,271.56 931.87,271.55 932.87,271.58 933.86,271.37 934.86,271.15 935.86,271.33 936.86,271.37 937.86,271.01 938.86,271.15 939.86,271.28 940.86,271.27 941.86,271.28 942.86,271.67 943.85,271.84 944.85,271.81 945.85,271.77 946.85,271.95 947.85,271.75 948.85,271.57 949.85,271.42 950.85,271.50 951.85,271.48 952.85,271.50 953.84,271.66 954.84,271.66 955.84,271.61 956.84,271.55 957.84,271.44 958.84,271.27 959.84,271.33 960.84,271.34 961.84,271.26 962.84,271.15 963.83,270.88 964.83,270.93 965.83,271.05 966.83,271.33 967.83,271.62 968.83,271.83 969.83,271.65 970.83,271.59 971.83,271.39 972.83,271.21 973.82,271.25 974.82,271.41 975.82,271.16 976.82,271.18 977.82,271.47 978.82,271.47 979.82,271.40 980.82,271.45 981.82,271.53 982.82,271.24 983.81,271.20 984.81,271.24 985.81,271.31 986.81,271.18 987.81,271.31 988.81,271.33 989.81,271.18 990.81,271.18 991.81,271.02 992.81,270.90 993.80,271.08 994.80,271.19 995.80,271.26 996.80,271.42 997.80,271.51" fill="none" stroke-linejoin="round" stroke="#a02222" stroke-width="1.5" stroke-dasharray="1.3 1.8 1.3 4.0"/>
<polyline points="561.20,249.70 561.50,232.40 564.00,228.90 565.00,229.28 566.00,229.67 567.00,230.04 568.00,230.35 569.00,230.67 570.00,231.13 571.00,231.59 572.00,232.13 573.00,232.73 574.00,233.20 574.75,233.93 575.50,234.61 576.25,235.57 577.00,236.05 578.00,236.68 579.00,237.22 580.00,237.91 581.00,238.22 582.00,238.89 583.00,239.62 583.60,240.40 584.20,241.25 584.80,242.07 585.40,242.86 586.00,243.66 586.50,244.56 587.00,245.41 587.50,246.46 588.00,247.37 589.00,247.37 590.00,247.61 591.00,247.82 592.00,247.86 593.00,248.69 594.00,249.70 595.00,250.48 596.00,251.01 597.00,251.89 598.00,252.14 599.00,252.15 600.00,252.06 601.00,252.16 602.00,252.22 603.00,252.43 604.00,252.51 605.00,252.58 606.00,252.83 607.00,252.83 608.00,252.66 609.00,252.77 610.00,252.90 611.00,252.91 612.00,253.01 613.00,253.15 614.00,253.33 615.00,253.24 616.00,253.19 617.00,253.10 618.00,253.06 619.00,252.98 620.00,253.20 621.00,253.30 622.00,253.34 623.00,253.31 624.00,253.23 625.00,253.37 626.00,253.41 627.00,253.46 628.00,253.36 629.00,253.35 630.00,253.07 631.00,252.79 632.00,252.99 633.00,253.01 634.00,253.06 635.00,253.25 636.00,253.39 637.00,253.26 638.00,253.63 639.00,253.61 640.00,253.38 641.00,253.51 642.00,253.45 643.00,253.17 644.00,253.21 645.00,253.21 646.00,253.20 647.00,253.23 648.00,253.53 649.00,253.33 650.00,253.21 651.00,253.08 652.00,252.98 653.00,252.84 654.00,253.05 655.00,253.06 656.00,253.04 657.00,253.20 658.00,252.88 659.00,252.85 660.00,252.94 661.00,252.97 662.00,252.92 663.00,253.36 664.00,253.37 665.00,253.44 666.00,253.43 667.00,253.40 668.00,253.21 669.00,253.12 670.00,253.21 671.00,253.31 672.00,253.25 673.00,253.11 674.00,253.21 675.00,253.15 676.00,253.05 677.00,253.01 678.00,253.10 679.00,253.02 680.00,253.12 681.00,253.26 682.00,253.21 683.00,253.40 684.00,253.50 685.00,253.48 686.00,253.37 687.00,253.61 688.00,253.31 689.00,253.29 690.00,253.05 691.00,253.23 692.00,253.16 693.00,253.43 694.00,253.26 695.00,253.48 696.00,253.17 697.00,252.96 698.00,253.03 699.00,253.61 700.00,254.01 701.00,254.46 702.00,254.71 703.00,254.64 704.00,254.66 705.00,254.82 706.00,254.94 707.00,255.22 708.00,255.44 709.00,255.55 710.00,255.75 711.00,255.90 712.00,255.85 713.00,255.87 714.00,256.04 715.00,255.87 716.00,255.91 717.00,255.84 718.00,256.01 719.00,255.84 720.00,255.95 721.00,255.94 722.00,256.13 723.00,255.88 724.00,256.04 725.00,255.88 726.00,255.93 727.00,255.81 728.00,255.99 729.00,255.93 730.00,256.18 731.00,256.20 732.00,256.12 733.00,256.12 734.00,256.39 735.00,256.40 736.00,256.22 737.00,256.16 738.00,256.09 739.00,255.79 740.00,255.57 741.00,255.77 742.00,256.00 743.00,256.07 744.00,256.05 745.00,256.26 746.00,256.11 747.00,255.93 748.00,255.95 749.00,255.98 750.00,255.92 751.00,255.92 752.00,256.05 753.00,256.08 754.00,256.23 755.00,256.15 756.00,256.18 757.00,256.19 758.00,256.10 759.00,256.13 760.00,256.03 761.00,256.12 762.00,256.19 763.00,256.18 764.00,256.21 765.00,256.24 766.00,256.15 767.00,256.19 768.00,256.08 769.00,255.78 770.00,255.84 771.00,255.87 772.00,255.96 773.00,256.19 774.00,256.28 775.00,256.44 776.00,256.37 777.00,256.15 778.00,256.14 779.00,256.33 780.00,256.30 781.00,256.46 782.00,256.60 783.00,256.50 784.00,256.37 785.00,256.32 786.00,256.22 787.00,256.09 788.00,256.15 789.00,256.22 790.00,256.23 791.00,256.13 792.00,256.10 793.00,255.98 794.00,255.82 795.00,255.78 796.00,255.72 797.00,255.83 798.00,255.77 799.00,255.83 800.00,255.87 801.00,255.97 802.00,256.08 803.00,256.29 804.00,256.11 805.00,256.10 806.00,256.07 807.00,255.79 808.00,255.78 809.00,256.22 810.00,256.07 811.00,256.09 812.00,256.32 813.00,256.21 814.00,255.86 815.00,256.09 816.00,256.06 817.00,256.06 818.00,256.16 819.00,256.12 820.00,256.00 821.00,255.89 822.00,256.03 823.00,256.01 824.00,256.28 825.00,256.36 826.00,256.65 827.00,256.60 828.00,256.33 829.00,256.38 830.00,256.32 831.00,256.29 832.00,256.13 833.00,256.35 834.00,256.50 835.00,256.41 836.00,256.63 837.00,256.60 838.00,256.61 839.00,256.35 840.00,256.31 841.00,255.92 842.00,255.88 843.00,255.83 844.00,255.72 845.00,255.84 846.00,256.08 847.00,256.28 848.00,256.42 849.00,256.43 850.00,256.48 851.00,256.41 852.00,256.25 853.00,256.07 854.00,256.20 855.00,256.23 856.00,256.12 857.00,256.37 858.00,256.52 859.00,256.33 860.00,256.48 861.00,256.50 862.00,256.05 863.00,255.82 864.00,256.15 865.00,255.76 866.00,255.79 867.00,256.03 868.00,256.22 869.00,255.85 870.00,255.87 871.00,255.85 872.00,256.01 873.00,255.90 874.00,256.06 875.00,256.12 876.00,256.02 877.00,255.87 878.00,255.93 879.00,255.89 880.00,256.17 881.00,256.26 882.00,256.22 883.00,256.46 884.00,256.62 885.00,256.38 886.00,256.40 887.00,256.46 888.00,256.14 889.00,255.96 890.00,255.86 891.00,255.80 892.00,255.88 893.00,256.00 894.00,256.07 895.00,256.20 896.00,256.19 897.00,255.92 898.00,255.85 899.00,255.71 900.00,255.72 901.00,255.84 902.00,256.25 902.99,256.16 903.99,256.37 904.99,256.58 905.99,256.77 906.99,256.79 907.98,256.76 908.98,256.80 909.98,256.35 910.98,256.32 911.98,256.06 912.97,256.18 913.97,256.04 914.97,256.44 915.97,256.29 916.97,256.08 917.96,255.86 918.96,255.62 919.96,255.60 920.96,255.66 921.96,256.09 922.95,256.27 923.95,256.51 924.95,256.38 925.95,256.51 926.94,256.11 927.94,256.12 928.94,255.93 929.94,256.00 930.94,255.65 931.93,255.76 932.93,255.93 933.93,255.96 934.93,255.71 935.93,255.52 936.92,255.44 937.92,255.10 938.92,255.08 939.92,255.29 940.92,255.54 941.91,255.82 942.91,255.91 943.91,255.88 944.91,256.09 945.91,255.96 946.90,255.67 947.90,255.56 948.90,255.90 949.90,255.74 950.90,255.93 951.89,256.23 952.89,256.22 953.89,256.18 954.89,256.33 955.89,256.23 956.88,256.23 957.88,256.53 958.88,256.39 959.88,256.00 960.88,256.29 961.87,256.38 962.87,256.41 963.87,256.28 964.87,256.27 965.87,255.75 966.86,255.53 967.86,255.31 968.86,255.69 969.86,255.93 970.86,256.46 971.85,256.44 972.85,256.62 973.85,256.25 974.85,256.34 975.84,256.18 976.84,256.24 977.84,256.18 978.84,256.23 979.84,256.23 980.83,256.27 981.83,256.17 982.83,256.07 983.83,256.45 984.83,256.18 985.82,256.21 986.82,256.42 987.82,256.71 988.82,256.15 989.82,256.38 990.81,256.17 991.81,256.09 992.81,255.90 993.81,256.32 994.81,256.24 995.80,256.30 996.80,256.23 997.80,256.27" fill="none" stroke-linejoin="round" stroke="#00e800" stroke-width="1.6" stroke-dasharray="4 1.5 0.9 1.5"/>
<polyline points="561.20,300.00 561.50,282.00 562.00,280.60 563.00,281.15 564.00,281.69 565.00,282.23 566.00,282.78 567.00,283.33 568.00,283.87 569.00,284.36 570.00,284.93 571.00,285.47 572.00,285.92 573.00,286.44 574.00,286.98 575.00,287.50 576.00,288.06 577.00,288.56 578.00,288.92 579.00,289.37 580.00,289.77 581.00,290.11 582.00,290.51 583.00,291.33 584.00,292.14 585.00,293.00 585.60,293.70 586.20,294.41 586.80,295.11 587.40,295.83 588.00,296.55 588.75,297.35 589.50,298.11 590.25,298.89 591.00,299.66 592.00,300.11 593.00,300.54 594.00,300.99 595.00,301.24 596.00,301.50 597.00,301.79 598.00,302.31 599.00,302.85 600.00,303.38 601.00,303.50 602.00,303.62 603.00,303.77 604.00,303.88 605.00,304.03 606.00,304.17 607.00,304.31 608.00,304.44 609.00,304.58 610.00,304.72 611.00,304.95 612.00,305.16 613.00,305.37 614.00,305.58 615.00,305.58 616.00,305.59 617.00,305.57 618.00,305.56 619.00,305.57 620.00,305.58 621.00,305.58 622.00,305.57 623.00,305.58 624.00,305.58 625.00,305.59 626.00,305.62 627.00,305.62 628.00,305.62 629.00,305.64 630.00,305.63 631.00,305.64 632.00,305.63 633.00,305.62 634.00,305.61 635.00,305.61 636.00,305.62 637.00,305.63 638.00,305.65 639.00,305.64 640.00,305.65 641.00,305.66 642.00,305.66 643.00,305.65 644.00,305.67 645.00,305.66 646.00,305.66 647.00,305.67 648.00,305.68 649.00,305.69 650.00,305.68 651.00,305.67 652.00,305.66 653.00,305.69 654.00,305.71 655.00,305.69 656.00,305.70 657.00,305.72 658.00,305.71 659.00,305.71 660.00,305.69 661.00,305.67 662.00,305.68 663.00,305.67 664.00,305.64 665.00,305.66 666.00,305.67 667.00,305.70 668.00,305.70 669.00,305.69 670.00,305.70 671.00,305.74 672.00,305.73 673.00,305.72 674.00,305.71 675.00,305.72 676.00,305.73 677.00,305.74 678.00,305.73 679.00,305.74 680.00,305.75 681.00,305.74 682.00,305.73 683.00,305.73 684.00,305.73 685.00,305.74 686.00,305.76 687.00,305.76 688.00,305.77 689.00,305.79 690.00,305.77 691.00,305.78 692.00,305.78 693.00,305.77 694.00,305.77 695.00,305.76 696.00,305.77 697.00,305.81 698.00,305.79 699.00,305.78 700.00,305.79 701.00,305.96 702.00,306.12 703.00,306.28 704.00,306.42 705.00,306.61 706.00,306.79 707.00,306.95 708.00,307.14 709.00,307.14 710.00,307.16 711.00,307.20 712.00,307.22 713.00,307.22 714.00,307.24 715.00,307.23 716.00,307.24 717.00,307.26 718.00,307.24 719.00,307.23 720.00,307.26 721.00,307.27 722.00,307.26 723.00,307.27 724.00,307.26 725.00,307.27 726.00,307.27 727.00,307.24 728.00,307.23 729.00,307.23 730.00,307.23 731.00,307.25 732.00,307.27 733.00,307.30 734.00,307.32 735.00,307.32 736.00,307.31 737.00,307.32 738.00,307.32 739.00,307.32 740.00,307.30 741.00,307.32 742.00,307.33 743.00,307.38 744.00,307.37 745.00,307.35 746.00,307.32 747.00,307.31 748.00,307.32 749.00,307.33 750.00,307.30 751.00,307.33 752.00,307.35 753.00,307.36 754.00,307.35 755.00,307.35 756.00,307.35 757.00,307.36 758.00,307.35 759.00,307.33 760.00,307.34 761.00,307.38 762.00,307.35 763.00,307.33 764.00,307.36 765.00,307.35 766.00,307.35 767.00,307.36 768.00,307.36 769.00,307.37 770.00,307.40 771.00,307.40 772.00,307.43 773.00,307.45 774.00,307.45 775.00,307.45 776.00,307.47 777.00,307.47 778.00,307.48 779.00,307.45 780.00,307.46 781.00,307.45 782.00,307.42 783.00,307.41 784.00,307.41 785.00,307.41 786.00,307.43 787.00,307.39 788.00,307.43 789.00,307.45 790.00,307.46 791.00,307.47 792.00,307.47 793.00,307.47 794.00,307.48 795.00,307.45 796.00,307.47 797.00,307.46 798.00,307.47 799.00,307.45 800.00,307.45 801.00,307.46 802.00,307.49 803.00,307.50 804.00,307.49 804.99,307.48 805.99,307.50 806.99,307.51 807.99,307.51 808.99,307.49 809.99,307.48 810.99,307.52 811.99,307.52 812.99,307.51 813.99,307.51 814.98,307.52 815.98,307.55 816.98,307.54 817.98,307.53 818.98,307.55 819.98,307.55 820.98,307.53 821.98,307.50 822.98,307.50 823.98,307.50 824.97,307.51 825.97,307.52 826.97,307.52 827.97,307.53 828.97,307.54 829.97,307.53 830.97,307.54 831.97,307.51 832.97,307.48 833.97,307.50 834.96,307.50 835.96,307.52 836.96,307.51 837.96,307.51 838.96,307.52 839.96,307.56 840.96,307.55 841.96,307.54 842.96,307.54 843.96,307.56 844.95,307.57 845.95,307.56 846.95,307.54 847.95,307.54 848.95,307.55 849.95,307.54 850.95,307.54 851.95,307.54 852.95,307.53 853.95,307.52 854.94,307.51 855.94,307.51 856.94,307.53 857.94,307.51 858.94,307.51 859.94,307.50 860.94,307.50 861.94,307.49 862.94,307.50 863.94,307.48 864.93,307.48 865.93,307.48 866.93,307.51 867.93,307.51 868.93,307.54 869.93,307.55 870.93,307.57 871.93,307.57 872.93,307.57 873.93,307.58 874.92,307.60 875.92,307.59 876.92,307.58 877.92,307.58 878.92,307.56 879.92,307.54 880.92,307.55 881.92,307.53 882.92,307.51 883.92,307.52 884.91,307.54 885.91,307.56 886.91,307.59 887.91,307.57 888.91,307.57 889.91,307.56 890.91,307.56 891.91,307.55 892.91,307.56 893.91,307.53 894.90,307.52 895.90,307.54 896.90,307.56 897.90,307.57 898.90,307.57 899.90,307.56 900.90,307.58 901.90,307.60 902.90,307.57 903.89,307.58 904.89,307.57 905.89,307.57 906.89,307.59 907.89,307.56 908.89,307.55 909.89,307.58 910.89,307.55 911.89,307.54 912.89,307.53 913.88,307.52 914.88,307.56 915.88,307.55 916.88,307.56 917.88,307.57 918.88,307.58 919.88,307.55 920.88,307.56 921.88,307.55 922.88,307.55 923.87,307.55 924.87,307.60 925.87,307.58 926.87,307.62 927.87,307.61 928.87,307.61 929.87,307.63 930.87,307.62 931.87,307.57 932.87,307.59 933.86,307.58 934.86,307.57 935.86,307.57 936.86,307.56 937.86,307.52 938.86,307.54 939.86,307.53 940.86,307.54 941.86,307.55 942.86,307.55 943.85,307.54 944.85,307.57 945.85,307.59 946.85,307.58 947.85,307.59 948.85,307.58 949.85,307.59 950.85,307.61 951.85,307.62 952.85,307.60 953.84,307.59 954.84,307.60 955.84,307.61 956.84,307.59 957.84,307.60 958.84,307.58 959.84,307.60 960.84,307.61 961.84,307.59 962.84,307.57 963.83,307.57 964.83,307.55 965.83,307.54 966.83,307.55 967.83,307.54 968.83,307.55 969.83,307.56 970.83,307.56 971.83,307.58 972.83,307.59 973.82,307.56 974.82,307.56 975.82,307.55 976.82,307.55 977.82,307.53 978.82,307.52 979.82,307.52 980.82,307.54 981.82,307.56 982.82,307.55 983.81,307.55 984.81,307.60 985.81,307.61 986.81,307.63 987.81,307.63 988.81,307.62 989.81,307.64 990.81,307.66 991.81,307.64 992.81,307.63 993.80,307.62 994.80,307.62 995.80,307.61 996.80,307.61 997.80,307.59" fill="none" stroke-linejoin="round" stroke="#f81818" stroke-width="1.7"/>
<polyline points="561.20,295.00 561.21,294.52 561.21,293.68 561.22,293.36 561.23,293.67 561.23,292.02 561.24,293.02 561.25,291.75 561.25,291.50 561.26,291.81 561.27,290.60 561.27,289.71 561.28,288.49 561.28,289.12 561.29,286.93 561.30,285.88 561.30,284.15 561.31,283.78 561.32,288.04 561.32,286.41 561.33,286.15 561.34,285.72 561.34,280.94 561.35,285.58 561.36,282.62 561.36,279.54 561.37,282.39 561.38,278.86 561.38,279.57 561.39,283.23 561.40,283.69 561.40,276.15 561.41,275.95 561.42,278.89 561.42,275.52 561.43,278.84 561.43,276.44 561.44,276.43 561.45,278.44 561.45,274.47 561.46,274.95 561.47,282.67 561.47,278.11 561.48,275.94 561.49,273.40 561.49,275.22 561.50,272.94 562.00,275.09 562.50,265.88 563.00,278.82 563.50,279.44 564.00,271.22 564.50,272.65 565.00,278.20 565.50,274.56 566.00,279.18 566.50,276.83 567.00,271.90 567.50,276.71 568.00,271.11 568.50,281.43 569.00,277.38 569.50,270.84 570.00,280.00 570.50,278.08 571.00,282.17 571.50,281.53 572.00,286.22 572.33,287.34 572.67,281.89 573.00,273.89 573.33,278.55 573.67,275.60 574.00,285.56 574.33,278.90 574.67,276.43 575.00,285.65 575.33,271.91 575.67,282.59 576.00,283.54 576.33,284.42 576.67,286.82 577.00,282.13 577.33,285.09 577.67,281.34 578.00,280.38 578.33,285.35 578.67,284.00 579.00,277.56 579.33,285.79 579.67,285.81 580.00,284.99 580.33,295.77 580.67,290.28 581.00,286.91 581.33,286.53 581.67,293.62 582.00,282.79 582.33,292.76 582.67,294.84 583.00,291.33 583.33,291.73 583.67,285.66 584.00,293.71 584.36,292.79 584.73,298.22 585.09,291.65 585.45,289.06 585.82,297.17 586.18,291.02 586.55,295.53 586.91,294.55 587.27,296.63 587.64,302.96 588.00,295.03 588.50,296.16 589.00,295.46 589.50,299.99 590.00,297.51 590.50,299.27 591.00,296.53 591.50,299.00 592.00,303.37 592.50,300.89 593.00,299.79 593.50,300.11 594.00,303.14 594.50,298.80 595.00,299.82 595.50,303.13 596.00,299.98 596.50,298.18 597.00,299.17 597.50,298.22 598.00,299.61 598.50,297.40 599.00,298.99 599.50,302.61 600.00,296.90 600.50,300.14 601.00,296.80 601.50,301.37 602.00,301.15 602.50,297.08 603.00,297.59 603.50,299.22 604.00,295.73 604.50,301.84 605.00,300.30 605.50,300.72 606.00,299.40 606.50,301.01 607.00,301.59 607.50,303.93 608.00,301.51 608.50,300.71 609.00,301.54 609.50,302.21 610.00,302.02 610.50,302.34 611.00,301.71 611.50,302.28 612.00,302.56 612.50,303.29 613.00,301.58 613.50,301.93 614.00,301.74 614.50,301.75 615.00,301.96 615.50,302.37 616.00,301.73 616.50,301.44 617.00,299.90 617.50,301.28 618.00,299.64 618.50,299.09 619.00,299.69 619.50,301.44 620.00,301.05 620.50,300.80 621.00,301.96 621.50,300.49 622.00,299.60 622.50,297.68 623.00,300.40 623.33,297.77 623.67,299.71 624.00,297.42 624.33,297.83 624.67,297.52 625.00,296.01 625.25,297.52 625.50,297.58 625.75,296.78 626.00,297.21 626.25,299.30 626.50,299.49 626.75,299.45 627.00,300.59 627.50,300.64 628.00,300.82 628.50,301.62 629.00,300.33 629.50,299.41 630.00,301.00 630.50,300.42 631.00,300.51 631.50,301.27 632.00,301.06 632.50,299.64 633.00,298.72 633.50,299.40 634.00,302.09 634.50,301.76 635.00,300.59 635.50,300.66 636.00,299.00 636.50,299.36 637.00,300.83 637.50,300.09 638.00,299.56 638.50,299.22 639.00,301.54 639.50,300.53 640.00,300.57 640.50,300.35 641.00,301.51 641.50,302.88 642.00,298.93 642.50,299.38 643.00,299.70 643.50,298.52 644.00,300.45 644.50,299.50 645.00,299.54 645.50,300.96 646.00,299.69 646.50,301.21 647.00,299.52 647.50,299.92 648.00,299.17 648.50,299.69 649.00,299.57 649.50,298.02 650.00,299.51 650.50,298.93 651.00,298.94 651.50,299.66 652.00,299.52 652.50,299.49 653.00,300.46 653.50,296.86 654.00,300.10 654.50,298.03 655.00,298.55 655.50,298.69 656.00,298.27 656.50,298.87 657.00,298.49 657.50,300.24 658.00,299.55 658.50,299.54 659.00,298.49 659.50,301.67 660.00,297.52 660.50,297.63 661.00,298.71 661.50,297.30 662.00,297.53 662.50,298.80 663.00,299.20 663.50,298.77 664.00,299.68 664.50,298.64 665.00,299.05 665.50,298.54 666.00,300.22 666.50,299.67 667.00,297.96 667.50,298.79 668.00,298.54 668.50,296.69 669.00,297.53 669.50,298.50 670.00,298.22 670.50,297.29 671.00,298.58 671.50,297.79 672.00,296.94 672.50,295.92 673.00,298.19 673.50,297.80 674.00,295.66 674.50,296.48 675.00,296.65 675.50,296.20 676.00,297.47 676.50,296.50 677.00,298.31 677.50,298.50 678.00,299.43 678.50,299.65 679.00,299.51 679.50,299.10 680.00,301.18 680.50,299.35 681.00,299.27 681.50,299.92 682.00,299.66 682.50,300.86 683.00,300.56 683.50,302.02 684.00,301.42 684.50,300.92 685.00,301.15 685.33,300.73 685.67,301.36 686.00,301.14 686.33,300.16 686.67,299.01 687.00,298.12 687.33,297.83 687.67,297.92 688.00,297.77 688.22,297.29 688.44,297.86 688.67,296.35 688.89,295.63 689.11,295.44 689.33,294.81 689.56,293.77 689.78,294.49 690.00,294.10 690.22,294.53 690.44,293.95 690.67,295.37 690.89,294.89 691.11,296.62 691.33,296.16 691.56,297.38 691.78,297.47 692.00,296.85 692.50,297.80 693.00,298.82 693.50,299.97 694.00,299.38 694.50,299.22 695.00,299.64 695.50,300.60 696.00,301.08 696.50,300.85 697.00,300.99 697.50,303.82 698.00,301.70 698.50,302.54 699.00,302.63 699.50,303.90 700.00,303.76 700.50,305.71 701.00,304.93 701.50,304.48 702.00,305.73 702.50,305.79 703.00,306.14 703.50,305.49 704.00,306.09 704.50,307.20 705.00,306.62 705.50,306.25 706.00,306.52 706.50,306.71 707.00,305.42 707.50,305.98 708.00,304.54 708.50,304.50 709.00,303.92 709.50,303.37 710.00,303.66 710.31,303.19 710.62,302.81 710.92,302.11 711.23,301.57 711.54,301.64 711.85,301.06 712.15,301.33 712.46,300.42 712.77,298.06 713.08,298.73 713.38,299.87 713.69,298.64 714.00,299.46 714.23,299.22 714.46,297.40 714.69,297.15 714.92,297.83 715.15,295.05 715.38,295.30 715.62,294.64 715.85,294.49 716.08,293.89 716.31,291.18 716.54,292.60 716.77,292.98 717.00,292.70 717.50,290.78 718.00,292.21 718.50,292.91 719.00,291.89 719.50,291.34 720.00,293.53 720.50,291.73 721.00,293.02 721.50,291.82 722.00,292.29 722.50,290.94 723.00,294.95 723.50,293.21 724.00,293.08 724.50,292.17 725.00,292.22 725.50,291.24 726.00,292.70 726.50,293.07 727.00,293.20 727.50,292.94 728.00,294.22 728.50,290.18 729.00,290.54 729.50,291.92 730.00,293.53 730.50,293.61 731.00,294.87 731.50,292.02 732.00,291.08 732.50,293.12 733.00,294.08 733.50,292.65 734.00,291.89 734.50,293.66 735.00,293.80 735.50,290.48 736.00,291.55 736.50,293.36 737.00,290.91 737.50,291.73 738.00,291.74 738.50,290.67 739.00,289.50 739.50,291.78 740.00,289.32 740.50,290.10 741.00,292.01 741.50,288.93 742.00,289.33 742.50,292.27 743.00,291.04 743.50,289.92 744.00,291.86 744.50,290.47 745.00,291.60 745.50,292.01 746.00,292.46 746.50,291.02 747.00,291.87 747.50,290.62 748.00,292.21 748.50,292.88 749.00,293.28 749.50,292.91 750.00,292.00 750.50,291.64 751.00,294.78 751.50,294.14 752.00,293.39 752.50,294.69 753.00,296.05 753.50,295.64 754.00,292.91 754.50,292.59 755.00,293.92 755.50,292.38 756.00,292.31 756.50,293.45 757.00,290.66 757.50,291.95 758.00,291.67 758.50,291.32 759.00,290.19 759.50,289.18 760.00,290.35 760.50,292.28 761.00,290.74 761.50,289.50 762.00,290.02 762.50,294.53 763.00,293.60 763.50,294.96 764.00,295.16 764.50,294.87 765.00,296.35 765.50,296.26 766.00,295.45 766.50,297.78 767.00,296.23 767.50,298.61 768.00,297.05 768.50,297.29 769.00,297.87 769.50,299.21 770.00,299.43 770.50,299.89 771.00,299.66 771.50,301.07 772.00,297.30 772.50,299.16 773.00,299.36 773.50,297.78 774.00,298.47 774.50,298.35 775.00,298.67 775.50,298.10 776.00,297.25 776.50,296.01 777.00,296.31 777.50,297.53 778.00,298.22 778.50,297.53 779.00,296.94 779.50,295.48 780.00,297.17 780.50,297.20 781.00,298.69 781.50,293.28 782.00,294.88 782.50,295.12 783.00,296.49 783.50,295.73 784.00,295.09 784.50,295.12 785.00,295.64 785.50,296.19 786.00,297.85 786.50,296.20 787.00,294.82 787.50,295.61 788.00,296.89 788.50,296.04 789.00,296.35 789.50,294.09 790.00,295.41 790.50,293.28 791.00,295.15 791.50,295.68 792.00,295.76 792.50,295.67 793.00,295.68 793.50,293.96 794.00,298.22 794.50,296.36 795.00,294.93 795.50,295.81 796.00,296.00 796.50,296.07 797.00,296.12 797.50,296.08 798.00,294.77 798.50,297.05 799.00,293.74 799.50,296.30 800.00,295.36 800.50,295.48 801.00,293.81 801.50,296.26 802.00,296.64 802.50,294.83 803.00,294.79 803.50,294.34 804.00,295.43 804.50,294.26 805.00,295.01 805.50,294.94 806.00,294.97 806.50,294.33 807.00,294.05 807.50,294.20 808.00,295.98 808.50,294.43 809.00,293.54 809.50,295.08 810.00,294.36 810.50,294.61 811.00,296.13 811.50,293.84 812.00,294.58 812.50,294.33 813.00,293.79 813.50,294.77 814.00,293.46 814.50,294.10 815.00,293.02 815.50,293.26 816.00,293.94 816.50,294.74 817.00,293.49 817.50,296.13 818.00,295.93 818.50,294.71 819.00,293.71 819.50,293.69 820.00,295.13 820.50,295.55 821.00,296.44 821.50,294.96 822.00,293.20 822.50,295.47 823.00,295.98 823.50,294.99 824.00,294.85 824.50,295.38 825.00,294.49 825.50,295.84 826.00,294.61 826.50,294.81 827.00,293.47 827.50,293.28 828.00,293.22 828.25,292.40 828.50,292.27 828.75,292.35 829.00,291.30 829.25,290.94 829.50,289.97 829.75,290.39 830.00,289.32 830.25,289.47 830.50,290.43 830.75,291.21 831.00,290.90 831.25,291.37 831.50,292.34 831.75,291.91 832.00,292.99 832.50,292.00 833.00,293.56 833.50,293.82 834.00,293.38 834.50,293.84 835.00,293.72 835.50,294.57 836.00,291.88 836.50,293.00 837.00,294.61 837.50,293.72 838.00,294.01 838.50,295.03 839.00,294.08 839.50,292.32 840.00,293.18 840.50,294.16 841.00,293.66 841.50,295.98 842.00,295.36 842.50,294.94 843.00,296.77 843.50,293.38 844.00,294.69 844.50,295.89 845.00,296.46 845.50,296.17 846.00,295.64 846.50,295.06 847.00,296.24 847.50,297.04 848.00,296.35 848.18,296.71 848.36,297.02 848.55,297.09 848.73,298.64 848.91,299.44 849.09,300.61 849.27,298.42 849.45,300.68 849.64,300.91 849.82,300.77 850.00,303.34 850.31,300.20 850.62,300.53 850.94,300.42 851.25,299.95 851.56,300.00 851.88,299.55 852.19,299.46 852.50,298.07 852.81,297.93 853.12,298.66 853.44,296.93 853.75,296.92 854.06,296.74 854.38,294.65 854.69,294.85 855.00,296.26 855.50,294.61 856.00,295.74 856.50,296.13 857.00,294.46 857.50,298.18 858.00,297.59 858.50,298.43 859.00,296.84 859.50,296.99 860.00,297.40 860.13,297.62 860.25,297.21 860.38,295.92 860.51,296.13 860.64,295.68 860.76,295.03 860.89,294.82 861.02,294.46 861.15,293.89 861.27,293.23 861.40,292.90 862.00,278.60 863.00,250.00 863.30,238.00 862.70,236.00 864.50,233.40 862.70,230.80 864.50,228.20 862.70,225.60 864.50,223.00 862.70,220.40 864.50,217.80 862.70,215.20 864.50,212.60 862.70,210.00 864.50,207.40 862.70,204.80 864.50,202.20 862.70,199.60 864.50,197.00 862.70,194.40 864.50,191.80 862.71,189.20 864.55,186.60 862.79,184.00 864.63,181.40 862.87,178.80 864.71,176.20 862.95,173.60 864.78,171.00 863.02,168.40 864.86,165.80 863.10,163.20 864.94,160.60 863.18,158.00 865.02,155.40 863.26,152.80 865.10,150.20 866.50,147.50 867.00,150.00 868.80,152.60 867.00,155.20 868.80,157.80 867.00,160.40 868.80,163.00 867.00,165.60 868.80,168.20 867.00,170.80 868.80,173.40 867.00,176.00 868.80,178.60 867.00,181.20 868.80,183.80 867.00,186.40 868.80,189.00 867.00,191.60 868.80,194.20 867.00,196.80 868.80,199.40 867.00,202.00 868.80,204.60 867.00,207.20 868.80,209.80 867.00,212.40 868.80,215.00 867.00,217.60 867.50,218.00 869.10,215.10 867.50,212.20 869.10,209.30 867.50,206.40 869.10,203.50 867.50,200.60 869.10,197.70 867.50,194.80 869.10,191.90 867.50,189.00 869.10,186.10 867.50,183.20 869.10,180.30 867.50,177.40 869.10,174.50 867.50,171.60 869.10,168.70 867.50,165.80 869.10,162.90 867.50,160.00 869.10,157.10 867.50,154.20 869.10,151.30 868.80,140.00 869.40,118.00 870.50,99.50 871.00,108.00 872.50,104.00 872.66,104.49 872.81,104.92 872.97,105.43 873.12,105.72 873.28,106.56 873.44,106.42 873.59,107.51 873.75,107.24 873.91,108.06 874.06,108.75 874.22,109.15 874.38,108.79 874.53,109.67 874.69,110.68 874.84,110.23 875.00,110.38 875.50,112.12 876.00,112.19 876.50,111.80 877.00,110.83 877.50,111.92 878.00,111.06 878.50,112.17 879.00,111.20 879.50,112.92 880.00,110.98 880.50,112.83 881.00,112.33 881.50,112.67 882.00,112.05 882.50,112.77 883.00,112.28 883.50,111.82 884.00,112.01 884.50,112.36 885.00,112.28 885.50,112.03 886.00,113.49 886.50,112.43 887.00,112.86 887.50,112.34 888.00,112.91 888.50,112.43 889.00,111.30 889.50,112.79 890.00,113.92 890.50,113.09 891.00,112.19 891.50,111.66 892.00,113.59 892.50,112.65 893.00,113.84 893.50,113.70 894.00,112.63 894.50,112.94 895.00,113.82 895.50,112.31 896.00,112.70 896.50,113.11 897.00,113.24 897.50,113.16 898.00,113.12 898.50,112.98 899.00,112.71 899.50,113.19 900.00,113.51 900.50,112.89 901.00,113.13 901.50,113.86 902.00,114.02 902.50,112.90 903.00,113.78 903.50,113.37 904.00,114.13 904.50,113.32 905.00,111.58 905.50,112.79 906.00,113.37 906.50,113.88 907.00,114.50 907.50,113.58 908.00,113.86 908.50,112.78 909.00,113.04 909.50,113.51 910.00,113.51 910.50,114.06 911.00,113.54 911.50,114.14 912.00,112.42 912.50,113.09 913.00,115.14 913.50,112.73 914.00,113.98 914.50,113.59 915.00,113.26 915.50,114.16 916.00,114.87 916.50,113.56 917.00,114.79 917.50,113.06 918.00,113.85 918.50,114.62 919.00,113.35 919.50,114.19 920.00,113.98 920.50,113.88 921.00,115.39 921.50,113.42 922.00,113.37 922.50,113.44 923.00,113.95 923.50,114.63 924.00,113.82 924.50,113.25 925.00,114.16 925.50,114.42 926.00,112.77 926.50,114.47 927.00,113.01 927.50,115.05 928.00,113.26 928.50,112.91 929.00,114.47 929.50,113.97 930.00,114.16 930.50,114.66 931.00,113.93 931.50,113.86 932.00,114.61 932.50,113.90 933.00,113.78 933.50,113.69 934.00,113.35 934.50,114.78 935.00,114.19 935.50,114.01 936.00,113.61 936.50,113.66 937.00,112.58 937.50,114.32 938.00,115.62 938.50,114.07 939.00,114.76 939.50,113.90 940.00,113.71 940.50,113.20 941.00,114.58 941.49,114.02 941.99,114.40 942.49,114.24 942.99,113.04 943.49,114.28 943.99,114.81 944.48,114.38 944.98,115.01 945.48,114.83 945.98,113.38 946.48,114.35 946.98,113.22 947.47,113.78 947.97,114.55 948.47,115.13 948.97,114.83 949.47,114.15 949.97,114.41 950.46,113.34 950.96,115.43 951.46,113.80 951.96,113.73 952.46,115.39 952.96,114.70 953.45,113.93 953.95,114.16 954.45,113.64 954.95,113.31 955.45,114.84 955.94,115.93 956.44,112.28 956.94,113.48 957.44,114.38 957.94,115.37 958.44,113.98 958.93,114.34 959.43,114.61 959.93,114.63 960.43,115.80 960.93,113.27 961.43,115.17 961.92,114.63 962.42,113.71 962.92,113.94 963.42,113.59 963.92,113.91 964.42,114.50 964.91,114.59 965.41,113.97 965.91,112.38 966.41,115.98 966.91,113.46 967.41,114.27 967.90,115.69 968.40,114.43 968.90,114.36 969.40,114.09 969.90,114.70 970.39,114.50 970.89,114.04 971.39,113.73 971.89,114.30 972.39,113.26 972.89,113.90 973.38,115.48 973.88,115.30 974.38,114.29 974.88,114.68 975.38,115.24 975.88,114.39 976.37,114.25 976.87,114.29 977.37,115.66 977.87,115.59 978.37,115.61 978.87,115.35 979.36,115.21 979.86,114.63 980.36,115.32 980.86,114.98 981.36,116.60 981.86,116.17 982.35,115.09 982.85,115.03 983.35,117.31 983.85,115.44 984.35,114.56 984.84,114.63 985.34,115.54 985.84,114.87 986.34,114.66 986.84,116.15 987.34,114.96 987.83,114.33 988.33,115.40 988.83,114.87 989.33,115.16 989.83,115.29 990.33,115.07 990.82,115.91 991.32,113.52 991.82,115.52 992.32,115.23 992.82,114.19 993.32,114.11 993.81,115.07 994.31,115.67 994.81,114.83 995.31,114.59 995.81,115.14 996.31,115.98 996.80,114.25 997.30,114.44 997.80,113.91" fill="none" stroke-linejoin="round" stroke="#0000f0" stroke-width="1.35" stroke-dasharray="1.5 2.0"/>
<polyline points="56.00,561.80 57.00,561.77 58.00,561.73 59.00,561.69 60.00,561.66 61.00,561.61 62.00,561.57 63.00,561.50 64.00,561.46 65.00,561.46 66.00,561.44 67.00,561.40 68.00,561.37 69.00,561.33 70.00,561.33 71.00,561.29 72.00,561.21 73.00,561.18 74.00,561.13 75.00,561.08 76.00,561.02 77.00,561.04 78.00,561.02 79.00,560.99 80.00,560.91 81.00,560.99 82.00,560.91 83.00,560.80 84.00,560.67 85.00,560.70 86.00,560.67 87.00,560.66 88.00,560.62 89.00,560.67 90.00,560.82 91.00,560.95 92.00,560.95 93.00,560.86 94.00,560.94 95.00,560.92 96.00,560.90 97.00,560.97 98.00,560.80 99.00,560.91 100.00,560.99 101.00,560.95 102.00,560.77 103.00,560.79 104.00,560.58 105.00,560.48 106.00,560.23 107.00,560.24 108.00,559.97 109.00,560.09 110.00,560.20 111.00,560.03 112.00,560.13 113.00,560.38 114.00,560.35 115.00,560.80 116.00,560.81 117.00,560.53 118.00,560.63 119.00,560.59 120.00,560.19 121.00,560.39 122.00,560.01 123.00,560.10 124.00,560.23 125.00,560.26 126.00,560.55 127.00,560.63 128.00,560.56 129.00,560.81 130.00,560.67 131.00,560.65 132.00,560.83 133.00,560.76 134.00,560.84 135.00,560.83 136.00,560.90 137.00,561.08 138.00,561.13 139.00,561.10 140.00,561.06 141.00,561.32 142.00,561.27 143.00,561.25 144.00,561.05 145.00,561.00 146.00,561.01 147.00,560.95 148.00,560.85 149.00,560.94 150.00,560.95 151.00,561.14 152.00,561.14 153.00,560.95 154.00,560.96 155.00,560.55 156.00,560.44 157.00,560.16 158.00,559.82 159.00,559.98 160.00,559.96 161.00,559.86 162.00,559.83 163.00,559.65 164.00,559.78 165.00,559.85 166.00,559.84 167.00,559.92 168.00,559.81 169.00,559.78 170.00,559.63 171.00,559.43 172.00,559.52 173.00,559.33 174.00,559.12 175.00,559.24 176.00,559.64 177.00,560.14 178.00,560.45 179.00,560.67 180.00,560.83 181.00,561.12 182.00,561.26 183.00,561.44 184.00,561.54 185.00,561.69 186.00,561.68 187.00,561.64 188.00,561.97 189.00,562.19 190.00,562.26 191.00,562.41 192.00,562.35 193.00,562.17 194.00,562.05 195.00,561.76 196.00,561.47 197.00,561.36 198.00,560.96 199.00,560.84 200.00,560.88 201.00,561.02 202.00,561.20 203.00,561.38 204.00,561.41 205.00,561.50 206.00,561.57 207.00,561.33 208.00,561.17 209.00,561.07 210.00,561.18 211.00,561.08 212.00,560.96 213.00,560.68 214.00,560.79 215.00,560.60 216.00,560.50 217.00,560.27 218.00,560.24 219.00,560.04 220.00,560.03 221.00,559.78 222.00,559.90 223.00,559.62 224.00,559.45 225.00,559.31 226.00,559.31 227.00,559.14 228.00,559.35 229.00,559.23 230.00,559.24 231.00,559.13 232.00,559.07 233.00,558.90 234.00,558.86 235.00,558.59 236.00,558.43 237.00,558.35 238.00,558.33 239.00,558.13 240.00,558.01 241.00,558.05 242.00,558.11 243.00,557.94 244.00,557.62 245.00,557.45 246.00,557.48 247.00,557.37 248.00,557.08 249.00,556.57 250.00,556.46 251.00,556.31 252.00,556.20 253.00,555.95 254.00,555.91 255.00,556.18 256.00,556.65 257.00,557.21 258.00,557.44 259.00,557.84 260.00,558.05 261.00,558.30 262.00,558.78 263.00,558.83 264.00,558.54 265.00,558.69 266.00,558.37 267.00,558.55 268.00,558.60 269.00,558.69 270.00,558.59 271.00,558.72 272.00,558.68 273.00,558.94 274.00,558.71 275.00,558.73 276.00,558.34 277.00,558.55 278.00,558.58 279.00,558.63 280.00,558.65 281.00,558.81 282.00,558.99 283.00,559.25 284.00,559.14 285.00,559.13 286.00,559.08 287.00,558.97 288.00,558.92 289.00,558.66 290.00,558.58 291.00,558.47 292.00,558.40 293.00,558.52 294.00,558.44 295.00,558.57 296.00,558.55 297.00,558.50 298.00,558.75 299.00,558.72 300.00,558.60 301.00,558.53 302.00,558.40 303.00,558.34 304.00,558.22 305.00,557.98 306.00,558.00 307.00,558.23 308.00,558.43 309.00,558.61 310.00,558.86 311.00,558.86 312.00,559.06 313.00,558.93 314.00,558.80 315.00,558.67 316.00,558.62 317.00,558.55 318.00,558.76 319.00,558.82 320.00,558.94 321.00,558.88 322.00,558.78 323.00,558.74 324.00,558.82 325.00,558.57 326.00,558.36 327.00,558.07 328.00,557.97 329.00,558.14 330.00,557.96 331.00,557.57 332.00,557.57 333.00,557.51 334.00,557.78 335.00,557.78 336.00,557.66 337.00,557.73 338.00,557.99 339.00,558.00 340.00,558.00 341.00,558.40 342.00,558.86 343.00,559.38 344.00,559.67 345.00,560.07 346.00,560.50 350.00,556.90 351.00,556.90 352.00,556.90 353.00,556.90 354.00,556.90 355.00,556.90 356.00,556.90 357.00,556.90 358.00,556.90 359.00,556.90 360.00,556.90 361.00,556.92 362.00,556.92 363.00,556.92 364.00,556.91 365.00,556.91 366.00,556.91 367.00,556.92 368.00,556.91 369.00,556.89 370.00,556.90 371.00,556.92 372.00,556.93 373.00,556.93 374.00,556.92 375.00,556.91 376.00,556.93 377.00,556.90 378.00,556.86 379.00,556.85 380.00,556.86 381.00,556.86 382.00,556.86 383.00,556.87 384.00,556.94 385.00,556.93 386.00,556.96 387.00,556.93 388.00,556.92 389.00,556.90 390.00,556.83 391.00,556.78 392.00,556.78 393.00,556.73 394.00,556.74 395.00,556.77 396.00,556.77 397.00,556.84 398.00,556.80 399.00,556.79 400.00,556.86 401.00,556.85 402.00,556.85 403.00,556.87 404.00,556.86 405.00,556.94 406.00,556.91 407.00,556.88 408.00,556.91 409.00,556.91 410.00,556.89 411.00,556.85 412.00,556.78 413.00,556.83 414.00,556.87 415.00,556.83 416.00,556.85 417.00,556.86 418.00,556.90 419.00,556.96 420.00,557.00 421.00,557.00 422.00,557.03 423.00,557.03 424.00,556.97 425.00,557.04 426.00,557.06 427.00,557.11 428.00,557.01 429.00,557.01 430.00,557.06 431.00,557.23 432.00,557.19 433.00,557.09 434.00,556.96 435.00,556.98 436.00,557.01 437.00,556.93 438.00,556.81 439.00,556.82 440.00,556.94 441.00,557.06 442.00,556.98 443.00,556.96 444.00,557.01 445.00,556.94 446.00,556.88 447.00,556.78 448.00,556.80 449.00,556.94 450.00,557.00 451.00,556.92 452.00,557.00 453.00,556.98 454.00,556.91 455.00,556.78 456.00,556.81 457.00,556.72 458.00,556.79 459.00,556.67 460.00,556.78 461.00,556.79 462.00,556.84 463.00,556.83 464.00,556.93 465.00,556.90 466.00,557.02 467.00,556.95 468.00,557.01 469.00,557.05 470.00,556.97 471.00,557.00 472.00,557.07 473.00,557.10 474.00,557.12 475.00,557.20 476.00,557.10 477.00,557.11 478.00,556.90 479.00,556.91 480.00,556.97 481.00,556.92 482.00,556.84 483.00,556.90 484.00,556.86 485.00,556.97 486.00,556.82 487.00,556.68 488.00,556.70 489.00,556.69 490.00,556.69 491.00,556.69 492.00,556.74" fill="none" stroke-linejoin="round" stroke="#a02222" stroke-width="1.5" stroke-dasharray="1.3 1.8 1.3 4.0"/>
<polyline points="55.20,545.40 57.00,540.80 58.00,540.51 59.00,540.20 60.00,539.70 61.00,539.77 62.00,539.69 63.00,539.65 64.00,539.63 65.00,539.64 66.00,539.67 67.00,539.84 68.00,539.60 69.00,539.76 70.00,539.61 71.00,539.40 72.00,539.20 73.00,538.90 74.00,538.57 75.00,538.71 76.00,538.74 77.00,538.80 78.00,538.79 79.00,538.79 80.00,538.96 81.00,539.12 82.00,538.92 83.00,538.67 84.00,538.47 85.00,538.51 86.00,538.58 87.00,538.61 88.00,538.64 89.00,538.65 90.00,538.79 91.00,538.85 92.00,538.85 93.00,538.64 94.00,538.71 95.00,538.63 96.00,538.74 97.00,538.71 98.00,538.95 99.00,538.94 100.00,538.94 101.00,538.73 102.00,538.79 103.00,538.75 104.00,538.53 105.00,538.35 106.00,538.27 107.00,538.47 108.00,538.81 109.00,538.78 110.00,538.81 111.00,538.87 112.00,538.97 113.00,539.10 114.00,538.94 115.00,538.68 116.00,538.79 117.00,538.85 118.00,539.00 119.00,539.05 120.00,539.01 121.00,538.98 122.00,539.09 123.00,538.90 124.00,538.89 125.00,538.91 126.00,538.94 127.00,539.01 128.00,539.18 129.00,539.08 130.00,539.21 131.00,539.41 132.00,539.14 133.00,539.09 134.00,539.03 135.00,539.10 136.00,539.22 137.00,539.27 138.00,539.26 139.00,539.45 140.00,539.48 141.00,539.75 142.00,539.71 143.00,539.80 144.00,539.83 145.00,539.77 146.00,539.84 147.00,539.74 148.00,539.49 149.00,539.48 150.00,539.54 151.00,539.41 152.00,539.35 153.00,539.34 154.00,539.46 155.00,539.39 156.00,539.20 157.00,539.01 158.00,539.00 159.00,538.97 160.00,538.79 161.00,538.67 162.00,538.83 163.00,538.89 164.00,538.86 165.00,538.75 166.00,538.63 167.00,538.61 168.00,538.55 169.00,538.44 170.00,538.50 171.00,538.66 172.00,538.60 173.00,538.85 174.00,538.89 175.00,539.11 176.00,539.06 177.00,539.06 178.00,539.09 179.00,539.34 180.00,539.28 181.00,539.51 182.00,539.44 183.00,539.72 184.00,539.82 185.00,539.81 186.00,540.08 187.00,540.26 188.00,540.42 189.00,540.51 190.00,540.51 191.00,540.60 192.00,540.68 193.00,540.52 194.00,540.44 195.00,540.22 196.00,540.31 197.00,540.35 198.00,540.31 199.00,540.34 200.00,540.20 201.00,540.25 202.00,540.22 203.00,540.11 204.00,539.92 205.00,539.88 206.00,539.91 207.00,540.07 208.00,539.97 209.00,539.74 210.00,539.71 211.00,539.57 212.00,539.31 213.00,539.18 214.00,539.05 215.00,538.86 216.00,538.97 217.00,539.15 218.00,539.11 219.00,539.30 220.00,539.03 221.00,538.95 222.00,539.19 223.00,539.05 224.00,538.78 225.00,538.86 226.00,538.86 227.00,539.03 228.00,539.20 229.00,539.23 230.00,539.40 231.00,539.40 232.00,539.35 233.00,539.14 234.00,538.94 235.00,538.61 236.00,538.24 237.00,538.06 238.00,538.05 239.00,538.13 240.00,537.92 241.00,537.87 242.00,537.80 243.00,537.75 244.00,537.57 245.00,537.13 246.00,536.76 247.00,536.51 248.00,536.17 249.00,535.61 250.00,535.31 251.00,535.06 252.00,535.04 253.00,534.73 254.00,534.49 255.00,534.35 256.00,534.26 257.00,534.67 258.00,535.03 259.00,535.16 260.00,535.46 261.00,535.92 262.00,536.21 263.00,536.54 264.00,536.70 265.00,536.62 266.00,536.60 267.00,536.64 268.00,536.62 269.00,536.56 270.00,536.53 271.00,536.50 272.00,536.70 273.00,536.99 274.00,537.04 275.00,536.99 276.00,537.21 277.00,537.24 278.00,537.10 279.00,537.19 280.00,537.17 281.00,537.18 282.00,537.30 283.00,537.04 284.00,537.17 285.00,537.17 286.00,537.20 287.00,537.20 288.00,537.39 289.00,537.57 290.00,537.60 291.00,537.63 292.00,537.61 293.00,537.51 294.00,537.57 295.00,537.56 296.00,537.16 297.00,537.31 298.00,537.21 299.00,537.37 300.00,537.42 301.00,537.46 302.00,537.39 303.00,537.24 304.00,536.98 305.00,536.82 306.00,536.76 307.00,536.74 308.00,536.45 309.00,536.22 310.00,536.46 311.00,536.69 312.00,536.80 313.00,536.91 314.00,536.95 315.00,537.22 316.00,537.53 317.00,537.34 318.00,537.41 319.00,537.42 320.00,537.15 321.00,537.13 322.00,537.04 323.00,536.99 324.00,537.28 325.00,537.08 326.00,536.78 327.00,536.85 328.00,536.68 329.00,536.52 330.00,536.33 331.00,536.41 332.00,536.53 333.00,536.94 334.00,536.97 335.00,537.18 336.00,537.24 337.00,537.26 338.00,537.03 339.00,537.00 340.00,537.05 340.94,537.68 341.89,538.43 342.83,539.35 343.77,540.27 344.71,541.24 345.66,542.12 346.60,543.00 350.80,538.50 353.00,540.40 354.00,540.40 355.00,540.40 356.00,540.40 357.00,540.40 358.00,540.40 359.00,540.40 360.00,540.39 361.00,540.40 362.00,540.39 363.00,540.40 364.00,540.40 365.00,540.40 366.00,540.39 367.00,540.39 368.00,540.37 369.00,540.38 370.00,540.40 371.00,540.41 372.00,540.38 373.00,540.40 374.00,540.38 375.00,540.39 376.00,540.37 377.00,540.33 378.00,540.32 379.00,540.36 380.00,540.36 381.00,540.36 382.00,540.35 383.00,540.37 384.00,540.39 385.00,540.46 386.00,540.46 387.00,540.45 388.00,540.47 389.00,540.47 390.00,540.45 391.00,540.46 392.00,540.42 393.00,540.41 394.00,540.39 395.00,540.39 396.00,540.39 397.00,540.45 398.00,540.46 399.00,540.42 400.00,540.43 401.00,540.44 402.00,540.42 403.00,540.43 404.00,540.38 405.00,540.34 406.00,540.31 407.00,540.30 408.00,540.31 409.00,540.32 410.00,540.31 411.00,540.36 412.00,540.31 413.00,540.37 414.00,540.38 415.00,540.37 416.00,540.39 417.00,540.50 418.00,540.46 419.00,540.51 420.00,540.56 421.00,540.51 422.00,540.47 423.00,540.45 424.00,540.38 425.00,540.38 426.00,540.40 427.00,540.32 428.00,540.35 429.00,540.38 430.00,540.38 431.00,540.35 432.00,540.38 433.00,540.41 434.00,540.46 435.00,540.48 436.00,540.48 437.00,540.50 438.00,540.48 439.00,540.44 440.00,540.44 441.00,540.36 442.00,540.42 443.00,540.49 444.00,540.51 445.00,540.49 446.00,540.52 447.00,540.50 448.00,540.58 449.00,540.42 450.00,540.32 451.00,540.35 452.00,540.36 453.00,540.37 454.00,540.36 455.00,540.32 456.00,540.37 457.00,540.38 458.00,540.35 459.00,540.44 460.00,540.33 461.00,540.25 462.00,540.28 463.00,540.40 464.00,540.46 465.00,540.50 466.00,540.38 467.00,540.42 468.00,540.44 469.00,540.33 470.00,540.29 471.00,540.21 472.00,540.15 473.00,540.24 474.00,540.32 475.00,540.31 476.00,540.47 477.00,540.50 478.00,540.67 479.00,540.69 480.00,540.75 481.00,540.64 482.00,540.61 483.00,540.58 484.00,540.41 485.00,540.34 486.00,540.37 487.00,540.43 488.00,540.58 489.00,540.65 490.00,540.63 491.00,540.79 492.00,540.77" fill="none" stroke-linejoin="round" stroke="#00e800" stroke-width="1.6" stroke-dasharray="4 1.5 0.9 1.5"/>
<polyline points="55.20,689.20 57.00,686.10 58.00,685.99 59.00,685.87 60.00,685.74 61.00,685.61 62.00,685.50 63.00,685.48 64.00,685.48 65.00,685.46 66.00,685.46 67.00,685.47 68.00,685.46 69.00,685.45 70.00,685.47 71.00,685.51 72.00,685.55 73.00,685.56 74.00,685.54 75.00,685.54 76.00,685.56 77.00,685.56 78.00,685.53 79.00,685.52 80.00,685.50 81.00,685.51 82.00,685.52 83.00,685.50 84.00,685.51 85.00,685.52 86.00,685.50 87.00,685.54 88.00,685.54 89.00,685.55 90.00,685.55 91.00,685.52 92.00,685.51 93.00,685.50 94.00,685.48 95.00,685.49 96.00,685.48 97.00,685.47 98.00,685.44 99.00,685.45 100.00,685.45 101.00,685.45 102.00,685.43 103.00,685.40 104.00,685.43 105.00,685.44 106.00,685.41 107.00,685.43 108.00,685.43 109.00,685.43 110.00,685.45 111.00,685.38 112.00,685.36 113.00,685.37 114.00,685.33 115.00,685.31 116.00,685.32 117.00,685.31 118.00,685.35 119.00,685.35 120.00,685.38 121.00,685.39 122.00,685.33 123.00,685.34 124.00,685.35 125.00,685.35 126.00,685.36 127.00,685.34 128.00,685.34 129.00,685.38 130.00,685.37 131.00,685.34 132.00,685.32 133.00,685.32 134.00,685.30 135.00,685.33 136.00,685.34 137.00,685.36 138.00,685.39 139.00,685.43 140.00,685.41 141.00,685.42 142.00,685.39 143.00,685.37 144.00,685.35 145.00,685.31 146.00,685.30 147.00,685.31 148.00,685.30 149.00,685.29 150.00,685.30 151.00,685.28 152.00,685.27 153.00,685.25 154.00,685.22 155.00,685.19 156.00,685.17 157.00,685.16 158.00,685.14 159.00,685.13 160.00,685.12 161.00,685.15 162.00,685.17 163.00,685.18 164.00,685.15 165.00,685.13 166.00,685.13 167.00,685.11 168.00,685.09 169.00,685.06 170.00,685.07 171.00,685.06 172.00,685.08 173.00,685.07 174.00,685.09 175.00,685.07 176.00,685.06 177.00,685.05 178.00,685.06 179.00,685.04 180.00,685.06 181.00,685.03 182.00,685.04 183.00,685.01 184.00,684.97 185.00,684.96 186.00,684.94 187.00,684.92 188.00,684.95 189.00,684.92 190.00,684.93 191.00,684.96 192.00,684.97 193.00,684.97 194.00,684.98 195.00,684.93 196.00,684.92 197.00,684.90 198.00,684.88 199.00,684.84 200.00,684.86 201.00,684.84 202.00,684.85 203.00,684.83 204.00,684.83 205.00,684.81 206.00,684.81 207.00,684.75 208.00,684.70 209.00,684.69 210.00,684.69 211.00,684.68 212.00,684.64 213.00,684.66 214.00,684.68 215.00,684.70 216.00,684.64 217.00,684.63 218.00,684.59 219.00,684.59 220.00,684.60 221.00,684.59 222.00,684.55 223.00,684.59 224.00,684.59 225.00,684.59 226.00,684.59 227.00,684.59 228.00,684.57 229.00,684.57 230.00,684.56 231.00,684.52 232.00,684.53 233.00,684.50 234.00,684.46 235.00,684.41 236.00,684.41 237.00,684.43 238.00,684.42 239.00,684.42 240.00,684.42 241.00,684.44 242.00,684.48 243.00,684.48 244.00,684.43 245.00,684.44 246.00,684.43 247.00,684.43 248.00,684.41 249.00,684.39 250.00,684.38 251.00,684.36 252.00,684.33 253.00,684.33 254.00,684.31 255.00,684.28 256.00,684.28 257.00,684.26 258.00,684.26 259.00,684.28 260.00,684.27 261.00,684.28 262.00,684.29 263.00,684.31 264.00,684.33 265.00,684.34 266.00,684.36 267.00,684.35 268.00,684.37 269.00,684.37 270.00,684.38 271.00,684.37 272.00,684.37 273.00,684.39 274.00,684.39 275.00,684.40 276.00,684.43 277.00,684.40 278.00,684.42 279.00,684.45 280.00,684.46 281.00,684.45 282.00,684.43 283.00,684.42 284.00,684.45 285.00,684.46 286.00,684.44 287.00,684.43 288.00,684.46 289.00,684.47 290.00,684.50 291.00,684.50 292.00,684.46 293.00,684.47 294.00,684.48 295.00,684.49 296.00,684.48 297.00,684.48 298.00,684.48 299.00,684.52 300.00,684.53 301.00,684.54 302.00,684.51 303.00,684.53 304.00,684.54 304.67,685.29 305.33,686.04 306.00,686.80 307.00,686.81 308.00,686.81 309.00,686.82 310.00,686.82 311.00,686.83 312.00,686.84 313.00,686.84 314.00,686.85 315.00,686.86 316.00,686.87 317.00,686.88 318.00,686.87 319.00,686.89 320.00,686.90 321.00,686.90 322.00,686.91 323.00,686.90 324.00,686.91 325.00,686.91 326.00,686.92 327.00,686.91 328.00,686.92 329.00,686.92 330.00,686.94 331.00,686.94 332.00,686.95 333.00,686.95 334.00,686.95 335.00,686.96 336.00,686.95 337.00,686.94 338.00,686.94 339.00,686.96 340.00,686.97 340.60,687.75 341.20,688.52 341.80,689.28 342.40,690.05 343.00,690.80 344.00,690.80 345.00,690.80 346.00,690.80 347.00,690.80 348.00,690.80 349.00,690.80 350.00,690.80 351.00,690.80 352.00,690.80 353.00,690.80 354.00,690.80 355.00,690.80 356.00,690.80 357.00,690.80 358.00,690.80 359.00,690.80 360.00,690.80 361.00,690.80 362.00,690.80 363.00,690.80 364.00,690.80 365.00,690.80 366.00,690.81 367.00,690.81 368.00,690.80 369.00,690.80 370.00,690.80 371.00,690.80 372.00,690.80 373.00,690.79 374.00,690.80 375.00,690.80 376.00,690.79 377.00,690.80 378.00,690.80 379.00,690.81 380.00,690.81 381.00,690.80 382.00,690.80 383.00,690.80 384.00,690.79 385.00,690.79 386.00,690.79 387.00,690.79 388.00,690.79 389.00,690.80 390.00,690.79 391.00,690.80 392.00,690.79 393.00,690.79 394.00,690.80 395.00,690.79 396.00,690.79 397.00,690.79 398.00,690.79 399.00,690.79 400.00,690.80 401.00,690.79 402.00,690.80 403.00,690.81 404.00,690.81 405.00,690.82 406.00,690.81 407.00,690.81 408.00,690.83 409.00,690.83 410.00,690.82 411.00,690.82 412.00,690.81 413.00,690.81 414.00,690.81 415.00,690.80 416.00,690.80 417.00,690.81 418.00,690.81 419.00,690.81 420.00,690.82 421.00,690.83 422.00,690.83 423.00,690.83 424.00,690.84 425.00,690.84 426.00,690.83 427.00,690.82 428.00,690.82 429.00,690.82 430.00,690.80 431.00,690.80 432.00,690.80 433.00,690.79 434.00,690.80 435.00,690.80 436.00,690.80 437.00,690.82 438.00,690.80 439.00,690.80 440.00,690.79 441.00,690.78 442.00,690.80 443.00,690.81 444.00,690.79 445.00,690.82 446.00,690.82 447.00,690.83 448.00,690.84 449.00,690.82 450.00,690.79 451.00,690.78 452.00,690.76 453.00,690.75 454.00,690.76 455.00,690.76 456.00,690.77 457.00,690.80 458.00,690.82 459.00,690.81 460.00,690.81 461.00,690.80 462.00,690.79 463.00,690.81 464.00,690.79 465.00,690.79 466.00,690.79 467.00,690.79 468.00,690.80 469.00,690.80 470.00,690.78 471.00,690.80 472.00,690.79 473.00,690.81 474.00,690.83 475.00,690.84 476.00,690.84 477.00,690.84 478.00,690.82 479.00,690.81 480.00,690.81 481.00,690.81 482.00,690.80 483.00,690.81 484.00,690.83 485.00,690.84 486.00,690.85 487.00,690.85 488.00,690.82 489.00,690.81 490.00,690.80 491.00,690.79 492.00,690.79" fill="none" stroke-linejoin="round" stroke="#f81818" stroke-width="1.7"/>
<polyline points="55.20,688.00 55.33,687.52 55.46,686.99 55.59,685.89 55.71,685.61 55.84,684.17 55.97,684.77 56.10,684.87 56.23,684.88 56.36,682.65 56.49,683.88 56.61,682.13 56.74,679.76 56.87,682.49 57.00,679.57 57.22,676.99 57.44,675.41 57.67,678.82 57.89,677.50 58.11,679.35 58.33,682.97 58.56,675.43 58.78,678.02 59.00,673.83 59.38,671.50 59.75,673.23 60.12,669.70 60.50,671.48 60.88,671.97 61.25,672.39 61.62,668.85 62.00,670.92 62.57,673.96 63.14,668.75 63.71,672.46 64.29,669.80 64.86,664.99 65.43,674.84 66.00,675.51 66.57,673.42 67.14,669.97 67.71,671.16 68.29,665.95 68.86,663.60 69.43,666.14 70.00,660.23 70.62,669.48 71.25,668.59 71.88,665.02 72.50,666.82 73.12,664.42 73.75,664.70 74.38,663.09 75.00,666.19 75.62,662.42 76.25,667.90 76.88,664.98 77.50,665.44 78.12,659.49 78.75,655.20 79.38,667.03 80.00,660.29 80.62,663.21 81.25,662.33 81.88,665.91 82.50,662.96 83.12,659.33 83.75,658.66 84.38,660.36 85.00,658.60 85.62,654.77 86.25,654.08 86.88,663.71 87.50,661.47 88.12,662.45 88.75,659.59 89.38,660.04 90.00,655.91 90.60,659.60 91.20,660.07 91.80,660.53 92.40,654.99 93.00,662.66 93.60,658.39 94.20,657.47 94.80,649.28 95.40,661.76 96.00,656.74 96.57,655.73 97.14,657.81 97.71,659.41 98.29,658.78 98.86,663.51 99.43,664.10 100.00,663.06 100.59,665.43 101.18,661.67 101.76,662.34 102.35,658.22 102.94,660.20 103.53,654.45 104.12,659.99 104.71,662.26 105.29,660.40 105.88,665.46 106.47,662.24 107.06,659.30 107.65,661.71 108.24,660.99 108.82,664.10 109.41,658.13 110.00,666.49 110.59,660.98 111.18,666.67 111.76,656.52 112.35,662.00 112.94,659.16 113.53,657.60 114.12,662.28 114.71,665.84 115.29,667.31 115.88,660.92 116.47,663.17 117.06,661.41 117.65,663.13 118.24,665.72 118.82,668.90 119.41,661.26 120.00,663.11 120.62,665.13 121.25,666.14 121.88,667.27 122.50,666.47 123.12,660.62 123.75,664.11 124.38,667.13 125.00,665.79 125.59,661.52 126.18,661.19 126.76,663.42 127.35,663.74 127.94,664.02 128.53,665.67 129.12,663.49 129.71,662.18 130.29,661.61 130.88,658.36 131.47,663.96 132.06,660.89 132.65,659.91 133.24,659.61 133.82,658.84 134.41,659.46 135.00,659.21 135.59,673.79 136.18,666.30 136.76,661.76 137.35,659.72 137.94,667.06 138.53,660.92 139.12,661.63 139.71,663.29 140.29,671.29 140.88,665.51 141.47,663.75 142.06,662.06 142.65,662.11 143.24,664.09 143.82,671.46 144.41,669.09 145.00,669.91 145.59,667.85 146.18,666.86 146.76,667.75 147.35,666.37 147.94,671.74 148.53,665.90 149.12,672.26 149.71,663.77 150.29,672.29 150.88,668.41 151.47,665.40 152.06,668.01 152.65,666.66 153.24,665.03 153.82,663.29 154.41,670.54 155.00,662.88 155.59,662.20 156.18,668.54 156.76,662.08 157.35,670.03 157.94,666.14 158.53,663.24 159.12,669.22 159.71,663.55 160.29,663.39 160.88,666.79 161.47,663.99 162.06,667.26 162.65,669.46 163.24,667.09 163.82,664.59 164.41,662.17 165.00,660.40 165.59,661.41 166.18,670.31 166.76,661.97 167.35,661.98 167.94,667.04 168.53,667.67 169.12,656.06 169.71,666.54 170.29,659.62 170.88,662.50 171.47,666.45 172.06,657.43 172.65,665.00 173.24,666.35 173.82,664.91 174.41,661.51 175.00,664.43 175.60,665.03 176.20,659.97 176.80,663.98 177.40,666.78 178.00,671.89 178.60,666.21 179.20,666.39 179.80,665.81 180.40,667.19 181.00,670.48 181.60,660.12 182.20,666.53 182.80,666.55 183.40,669.32 184.00,665.38 184.60,660.31 185.20,661.23 185.80,662.78 186.40,665.19 187.00,663.00 187.60,672.82 188.20,662.15 188.80,669.87 189.40,663.01 190.00,659.06 190.60,661.78 191.20,664.26 191.80,666.19 192.40,662.23 193.00,668.52 193.60,661.96 194.20,664.26 194.80,666.43 195.40,661.76 196.00,665.01 196.60,664.81 197.20,665.79 197.80,670.86 198.40,668.69 199.00,669.71 199.60,663.51 200.20,663.95 200.80,665.15 201.40,665.91 202.00,661.05 202.60,666.85 203.20,661.38 203.80,662.07 204.40,663.80 205.00,662.94 205.59,660.58 206.18,667.78 206.76,664.29 207.35,666.58 207.94,664.14 208.53,659.83 209.12,663.94 209.71,663.94 210.29,662.79 210.88,667.13 211.47,664.01 212.06,666.85 212.65,661.23 213.24,664.02 213.82,663.31 214.41,662.67 215.00,666.68 215.60,665.48 216.20,665.96 216.80,662.15 217.40,669.74 218.00,669.64 218.60,665.54 219.20,664.56 219.80,663.58 220.40,667.19 221.00,660.37 221.60,662.02 222.20,658.41 222.80,663.42 223.40,663.70 224.00,661.90 224.60,663.47 225.20,661.92 225.80,669.87 226.40,670.56 227.00,665.19 227.60,668.15 228.20,665.21 228.80,668.35 229.40,666.24 230.00,665.51 230.59,670.03 231.18,660.30 231.77,667.62 232.36,665.84 232.95,666.74 233.55,666.18 234.14,669.71 234.73,657.35 235.32,664.14 235.91,670.21 236.50,670.55 237.09,669.37 237.68,660.05 238.27,670.39 238.86,667.20 239.45,673.29 240.05,668.38 240.64,667.94 241.23,668.71 241.82,665.05 242.41,667.19 243.00,661.56 243.44,667.10 243.88,667.84 244.31,668.48 244.75,670.58 245.19,668.99 245.62,670.14 246.06,667.85 246.50,665.64 246.94,670.29 247.38,664.57 247.81,674.62 248.25,669.53 248.69,673.88 249.12,673.39 249.56,672.45 250.00,672.87 250.60,669.08 251.20,670.95 251.80,671.43 252.40,672.28 253.00,675.63 253.60,672.38 254.20,673.43 254.80,672.33 255.40,671.77 256.00,673.12 256.61,673.58 257.22,678.98 257.83,677.58 258.43,673.90 259.04,677.32 259.65,674.18 260.26,678.48 260.87,672.52 261.48,673.76 262.09,675.51 262.70,672.18 263.30,682.35 263.91,678.08 264.52,676.66 265.13,674.56 265.74,681.67 266.35,673.75 266.96,677.32 267.57,677.93 268.17,682.09 268.78,679.22 269.39,681.97 270.00,678.70 270.61,674.03 271.21,678.54 271.82,675.86 272.42,681.44 273.03,681.15 273.64,676.83 274.24,673.96 274.85,678.55 275.45,673.67 276.06,676.53 276.67,675.36 277.27,681.75 277.88,674.79 278.48,677.77 279.09,672.65 279.70,677.69 280.30,676.02 280.91,674.60 281.52,678.88 282.12,677.60 282.73,674.92 283.33,678.00 283.94,684.33 284.55,676.17 285.15,669.62 285.76,679.60 286.36,679.54 286.97,675.19 287.58,674.10 288.18,673.97 288.79,678.27 289.39,682.20 290.00,681.36 290.60,681.79 291.20,677.41 291.80,675.38 292.40,674.74 293.00,675.55 293.60,674.77 294.20,677.19 294.80,680.91 295.40,685.33 296.00,680.16 296.60,674.97 297.20,678.73 297.80,679.54 298.40,682.79 299.00,672.47 299.60,677.85 300.20,677.82 300.80,676.26 301.40,681.42 302.00,678.51 302.60,679.46 303.20,675.19 303.80,672.91 304.40,680.07 305.00,681.15 305.60,679.91 306.20,677.92 306.80,678.53 307.40,679.47 308.00,681.17 308.60,677.97 309.20,681.14 309.80,680.45 310.40,673.34 311.00,682.29 311.60,679.85 312.20,681.30 312.80,680.27 313.40,682.92 314.00,681.10 314.60,681.68 315.20,672.55 315.80,679.76 316.40,679.79 317.00,675.86 317.60,683.25 318.20,679.88 318.80,677.80 319.40,684.65 320.00,677.96 320.59,680.48 321.19,669.29 321.78,678.47 322.37,683.07 322.96,674.19 323.56,678.41 324.15,678.02 324.74,675.59 325.33,683.17 325.93,681.30 326.52,682.77 327.11,682.21 327.70,677.81 328.30,678.14 328.89,679.83 329.48,679.75 330.07,677.09 330.67,680.98 331.26,680.91 331.85,678.75 332.44,680.20 333.04,685.13 333.63,675.99 334.22,675.91 334.81,683.02 335.41,677.74 336.00,681.20 336.35,683.33 336.71,683.76 337.06,682.53 337.41,681.59 337.76,680.24 338.12,680.96 338.47,683.78 338.82,681.03 339.18,681.10 339.53,686.68 339.88,683.94 340.24,684.50 340.59,685.65 340.94,685.69 341.29,687.67 341.65,688.54 342.00,687.80 342.27,688.64 342.53,687.39 342.80,686.57 343.07,685.90 343.33,685.02 343.60,684.84 343.87,685.21 344.13,682.77 344.40,683.05 344.67,683.05 344.93,681.64 345.20,682.16 345.47,681.64 345.73,680.24 346.00,680.78 346.10,679.90 346.21,679.15 346.31,678.21 346.42,677.68 346.52,677.32 346.62,676.80 346.73,676.79 346.83,675.62 346.93,674.84 347.04,674.00 347.14,673.56 347.25,672.92 347.35,672.40 347.45,671.60 347.56,670.96 347.66,670.45 347.77,669.53 347.87,669.58 347.97,668.72 348.08,667.94 348.18,667.46 348.28,666.90 348.39,666.28 348.49,665.84 348.60,665.18 348.70,664.60 350.80,559.00 353.80,398.00 492.00,398.00" fill="none" stroke-linejoin="round" stroke="#0000f0" stroke-width="1.35" stroke-dasharray="1.5 2.0"/>
<polyline points="560.00,571.50 561.00,571.50 562.00,571.50 563.00,571.50 563.99,571.50 564.99,571.50 565.99,571.50 566.99,571.50 567.99,571.50 568.99,571.50 569.98,571.50 570.98,571.50 571.98,571.50 572.98,571.50 573.98,571.50 574.98,571.50 575.98,571.50 576.97,571.49 577.97,571.49 578.97,571.49 579.97,571.49 580.97,571.49 581.97,571.50 582.96,571.50 583.96,571.50 584.96,571.50 585.96,571.50 586.96,571.50 587.96,571.50 588.96,571.50 589.95,571.50 590.95,571.50 591.95,571.50 592.95,571.50 593.95,571.50 594.95,571.50 595.94,571.50 596.94,571.50 597.94,571.50 598.94,571.50 599.94,571.49 600.94,571.50 601.94,571.49 602.93,571.49 603.93,571.49 604.93,571.49 605.93,571.49 606.93,571.50 607.93,571.51 608.92,571.51 609.92,571.51 610.92,571.51 611.92,571.50 612.92,571.49 613.92,571.49 614.92,571.50 615.91,571.50 616.91,571.50 617.91,571.49 618.91,571.51 619.91,571.50 620.91,571.50 621.90,571.51 622.90,571.51 623.90,571.51 624.90,571.49 625.90,571.49 626.90,571.49 627.90,571.48 628.89,571.47 629.89,571.49 630.89,571.48 631.89,571.48 632.89,571.51 633.89,571.50 634.88,571.49 635.88,571.50 636.88,571.51 637.88,571.51 638.88,571.52 639.88,571.51 640.88,571.51 641.87,571.50 642.87,571.49 643.87,571.48 644.87,571.50 645.87,571.49 646.87,571.49 647.86,571.49 648.86,571.50 649.86,571.47 650.86,571.47 651.86,571.48 652.86,571.49 653.86,571.50 654.85,571.52 655.85,571.54 656.85,571.55 657.85,571.54 658.85,571.53 659.85,571.54 660.84,571.53 661.84,571.52 662.84,571.53 663.84,571.54 664.84,571.52 665.84,571.51 666.84,571.50 667.83,571.50 668.83,571.50 669.83,571.53 670.83,571.55 671.83,571.54 672.83,571.55 673.82,571.55 674.82,571.51 675.82,571.49 676.82,571.51 677.82,571.50 678.82,571.48 679.82,571.50 680.81,571.52 681.81,571.53 682.81,571.53 683.81,571.53 684.81,571.53 685.81,571.53 686.80,571.53 687.80,571.52 688.80,571.50 689.80,571.51 690.80,571.50 691.80,571.47 692.80,571.48 693.79,571.47 694.79,571.45 695.79,571.42 696.79,571.41 697.79,571.41 698.79,571.42 699.78,571.44 700.78,571.46 701.78,571.49 702.78,571.49 703.78,571.52 704.78,571.48 705.78,571.48 706.77,571.46 707.77,571.45 708.77,571.43 709.77,571.45 710.77,571.44 711.77,571.43 712.76,571.45 713.76,571.47 714.76,571.48 715.76,571.48 716.76,571.51 717.76,571.52 718.76,571.52 719.75,571.51 720.75,571.54 721.75,571.52 722.75,571.49 723.75,571.49 724.75,571.51 725.74,571.50 726.74,571.49 727.74,571.51 728.74,571.52 729.74,571.49 730.74,571.50 731.74,571.51 732.73,571.52 733.73,571.49 734.73,571.54 735.73,571.54 736.73,571.55 737.73,571.54 738.72,571.55 739.72,571.51 740.72,571.49 741.72,571.48 742.72,571.48 743.72,571.47 744.72,571.47 745.71,571.43 746.71,571.44 747.71,571.45 748.71,571.44 749.71,571.45 750.71,571.48 751.70,571.47 752.70,571.44 753.70,571.42 754.70,571.43 755.70,571.44 756.70,571.47 757.70,571.49 758.69,571.51 759.69,571.51 760.69,571.53 761.69,571.50 762.69,571.50 763.69,571.54 764.68,571.54 765.68,571.53 766.68,571.55 767.68,571.53 768.68,571.49 769.68,571.47 770.68,571.45 771.67,571.45 772.67,571.49 773.67,571.52 774.67,571.50 775.67,571.51 776.67,571.53 777.66,571.48 778.66,571.44 779.66,571.46 780.66,571.44 781.66,571.45 782.66,571.45 783.66,571.54 784.65,571.55 785.65,571.55 786.65,571.51 787.65,571.52 788.65,571.48 789.65,571.49 790.64,571.51 791.64,571.47 792.64,571.47 793.64,571.47 794.64,571.51 795.64,571.50 796.64,571.55 797.63,571.54 798.63,571.53 799.63,571.45 800.63,571.47 801.63,571.48 802.63,571.51 803.62,571.49 804.62,571.48 805.62,571.46 806.62,571.45 807.62,571.41 808.62,571.42 809.62,571.47 810.61,571.46 811.61,571.49 812.61,571.54 813.61,571.53 814.61,571.48 815.61,571.52 816.60,571.50 817.60,571.48 818.60,571.47 819.60,571.52 820.68,570.87 821.76,570.25 822.84,569.66 823.92,569.08 825.00,568.50 830.00,566.20 831.00,566.20 832.00,566.20 833.00,566.20 834.00,566.20 835.01,566.20 836.01,566.20 837.01,566.20 838.01,566.20 839.01,566.20 840.01,566.20 841.01,566.20 842.01,566.20 843.02,566.20 844.02,566.20 845.02,566.20 846.02,566.19 847.02,566.20 848.02,566.20 849.02,566.20 850.02,566.20 851.03,566.20 852.03,566.20 853.03,566.20 854.03,566.20 855.03,566.20 856.03,566.20 857.03,566.20 858.03,566.20 859.03,566.20 860.04,566.21 861.04,566.20 862.04,566.21 863.04,566.21 864.04,566.20 865.04,566.20 866.04,566.21 867.04,566.20 868.05,566.20 869.05,566.21 870.05,566.21 871.05,566.21 872.05,566.20 873.05,566.19 874.05,566.19 875.05,566.20 876.06,566.18 877.06,566.19 878.06,566.19 879.06,566.18 880.06,566.17 881.06,566.17 882.06,566.16 883.06,566.18 884.07,566.19 885.07,566.21 886.07,566.22 887.07,566.23 888.07,566.24 889.07,566.21 890.07,566.21 891.07,566.20 892.07,566.19 893.08,566.17 894.08,566.20 895.08,566.20 896.08,566.20 897.08,566.22 898.08,566.23 899.08,566.22 900.08,566.21 901.09,566.22 902.09,566.22 903.09,566.21 904.09,566.21 905.09,566.20 906.09,566.19 907.09,566.18 908.09,566.19 909.10,566.18 910.10,566.19 911.10,566.19 912.10,566.17 913.10,566.16 914.10,566.17 915.10,566.17 916.10,566.18 917.10,566.20 918.11,566.21 919.11,566.24 920.11,566.24 921.11,566.22 922.11,566.19 923.11,566.19 924.11,566.15 925.11,566.14 926.12,566.17 927.12,566.21 928.12,566.20 929.12,566.23 930.12,566.23 931.12,566.23 932.12,566.18 933.12,566.20 934.13,566.20 935.13,566.18 936.13,566.17 937.13,566.20 938.13,566.17 939.13,566.18 940.13,566.18 941.13,566.21 942.13,566.22 943.14,566.25 944.14,566.20 945.14,566.21 946.14,566.21 947.14,566.19 948.14,566.15 949.14,566.15 950.14,566.16 951.15,566.18 952.15,566.20 953.15,566.23 954.15,566.27 955.15,566.29 956.15,566.26 957.15,566.24 958.15,566.20 959.16,566.23 960.16,566.17 961.16,566.21 962.16,566.22 963.16,566.23 964.16,566.21 965.16,566.24 966.16,566.23 967.17,566.22 968.17,566.19 969.17,566.19 970.17,566.17 971.17,566.18 972.17,566.20 973.17,566.24 974.17,566.24 975.17,566.24 976.18,566.20 977.18,566.17 978.18,566.20 979.18,566.18 980.18,566.20 981.18,566.22 982.18,566.19 983.18,566.18 984.19,566.17 985.19,566.12 986.19,566.11 987.19,566.16 988.19,566.15 989.19,566.16 990.19,566.22 991.19,566.17 992.20,566.19 993.20,566.19 994.20,566.16 995.20,566.13 996.20,566.16" fill="none" stroke-linejoin="round" stroke="#a02222" stroke-width="1.5" stroke-dasharray="1.3 1.8 1.3 4.0"/>
<polyline points="559.60,559.30 561.00,556.00 563.90,554.70 567.00,555.00 571.50,556.80 572.50,556.80 573.50,556.80 574.50,556.80 575.50,556.80 576.50,556.80 577.50,556.80 578.50,556.80 579.50,556.80 580.50,556.80 581.50,556.80 582.50,556.80 583.50,556.80 584.51,556.80 585.51,556.80 586.51,556.80 587.51,556.80 588.51,556.80 589.51,556.80 590.51,556.80 591.51,556.80 592.51,556.80 593.51,556.81 594.51,556.80 595.51,556.80 596.51,556.80 597.51,556.80 598.51,556.80 599.51,556.80 600.51,556.81 601.51,556.81 602.51,556.81 603.51,556.81 604.51,556.80 605.51,556.80 606.51,556.81 607.51,556.81 608.51,556.80 609.52,556.81 610.52,556.81 611.52,556.81 612.52,556.80 613.52,556.81 614.52,556.80 615.52,556.80 616.52,556.79 617.52,556.80 618.52,556.79 619.52,556.79 620.52,556.79 621.52,556.79 622.52,556.80 623.52,556.81 624.52,556.81 625.52,556.80 626.52,556.81 627.52,556.80 628.52,556.79 629.52,556.80 630.52,556.81 631.52,556.80 632.52,556.81 633.52,556.81 634.53,556.81 635.53,556.80 636.53,556.79 637.53,556.79 638.53,556.78 639.53,556.78 640.53,556.78 641.53,556.79 642.53,556.79 643.53,556.81 644.53,556.80 645.53,556.80 646.53,556.80 647.53,556.79 648.53,556.79 649.53,556.79 650.53,556.80 651.53,556.80 652.53,556.81 653.53,556.82 654.53,556.83 655.53,556.84 656.53,556.82 657.53,556.83 658.54,556.82 659.54,556.82 660.54,556.83 661.54,556.84 662.54,556.85 663.54,556.84 664.54,556.84 665.54,556.83 666.54,556.81 667.54,556.79 668.54,556.78 669.54,556.79 670.54,556.79 671.54,556.78 672.54,556.79 673.54,556.77 674.54,556.76 675.54,556.78 676.54,556.79 677.54,556.80 678.54,556.84 679.54,556.83 680.54,556.83 681.54,556.83 682.54,556.83 683.55,556.80 684.55,556.78 685.55,556.78 686.55,556.75 687.55,556.74 688.55,556.74 689.55,556.74 690.55,556.73 691.55,556.74 692.55,556.75 693.55,556.75 694.55,556.78 695.55,556.80 696.55,556.78 697.55,556.79 698.55,556.79 699.55,556.77 700.55,556.78 701.55,556.80 702.55,556.80 703.55,556.80 704.55,556.82 705.55,556.82 706.55,556.85 707.55,556.84 708.56,556.84 709.56,556.80 710.56,556.79 711.56,556.75 712.56,556.76 713.56,556.75 714.56,556.79 715.56,556.80 716.56,556.81 717.56,556.78 718.56,556.80 719.56,556.78 720.56,556.76 721.56,556.75 722.56,556.78 723.56,556.77 724.56,556.79 725.56,556.81 726.56,556.82 727.56,556.82 728.56,556.80 729.56,556.79 730.56,556.77 731.56,556.79 732.56,556.79 733.57,556.79 734.57,556.83 735.57,556.82 736.57,556.79 737.57,556.81 738.57,556.82 739.57,556.80 740.57,556.80 741.57,556.84 742.57,556.81 743.57,556.80 744.57,556.84 745.57,556.85 746.57,556.82 747.57,556.82 748.57,556.83 749.57,556.80 750.57,556.79 751.57,556.76 752.57,556.75 753.57,556.79 754.57,556.78 755.57,556.78 756.57,556.82 757.58,556.84 758.58,556.82 759.58,556.83 760.58,556.83 761.58,556.83 762.58,556.84 763.58,556.84 764.58,556.85 765.58,556.88 766.58,556.89 767.58,556.87 768.58,556.85 769.58,556.84 770.58,556.80 771.58,556.77 772.58,556.81 773.58,556.82 774.58,556.80 775.58,556.85 776.58,556.85 777.58,556.83 778.58,556.81 779.58,556.81 780.58,556.77 781.58,556.78 782.59,556.78 783.59,556.79 784.59,556.80 785.59,556.85 786.59,556.85 787.59,556.85 788.59,556.87 789.59,556.86 790.59,556.83 791.59,556.85 792.59,556.82 793.59,556.81 794.59,556.83 795.59,556.80 796.59,556.75 797.59,556.78 798.59,556.77 799.59,556.74 800.59,556.78 801.59,556.76 802.59,556.77 803.59,556.77 804.59,556.77 805.59,556.76 806.59,556.83 807.60,556.82 808.60,556.78 809.60,556.77 810.60,556.80 811.60,556.76 812.60,556.75 813.60,556.76 814.60,556.80 815.60,556.80 816.60,556.79 817.60,556.83 818.60,556.85 819.60,556.83 820.27,556.09 820.95,555.35 821.62,554.61 822.30,553.88 822.98,553.16 823.65,552.44 824.33,551.73 825.00,551.00 830.50,546.60 831.50,546.60 832.50,546.60 833.49,546.60 834.49,546.60 835.49,546.60 836.49,546.60 837.49,546.60 838.49,546.60 839.48,546.60 840.48,546.60 841.48,546.60 842.48,546.60 843.48,546.59 844.47,546.59 845.47,546.59 846.47,546.59 847.47,546.60 848.47,546.60 849.47,546.60 850.46,546.59 851.46,546.59 852.46,546.59 853.46,546.59 854.46,546.60 855.45,546.60 856.45,546.59 857.45,546.60 858.45,546.59 859.45,546.59 860.45,546.59 861.44,546.59 862.44,546.60 863.44,546.60 864.44,546.60 865.44,546.60 866.43,546.59 867.43,546.61 868.43,546.60 869.43,546.59 870.43,546.60 871.43,546.60 872.42,546.59 873.42,546.58 874.42,546.59 875.42,546.59 876.42,546.59 877.42,546.58 878.41,546.59 879.41,546.60 880.41,546.60 881.41,546.60 882.41,546.60 883.40,546.60 884.40,546.60 885.40,546.58 886.40,546.60 887.40,546.60 888.40,546.61 889.39,546.60 890.39,546.61 891.39,546.60 892.39,546.60 893.39,546.57 894.38,546.58 895.38,546.57 896.38,546.55 897.38,546.57 898.38,546.58 899.38,546.58 900.37,546.59 901.37,546.60 902.37,546.59 903.37,546.60 904.37,546.61 905.36,546.61 906.36,546.62 907.36,546.63 908.36,546.61 909.36,546.60 910.36,546.59 911.35,546.58 912.35,546.57 913.35,546.58 914.35,546.59 915.35,546.57 916.34,546.58 917.34,546.57 918.34,546.56 919.34,546.56 920.34,546.59 921.34,546.58 922.33,546.58 923.33,546.60 924.33,546.61 925.33,546.58 926.33,546.59 927.32,546.60 928.32,546.59 929.32,546.58 930.32,546.61 931.32,546.60 932.32,546.61 933.31,546.60 934.31,546.61 935.31,546.60 936.31,546.61 937.31,546.58 938.30,546.57 939.30,546.57 940.30,546.58 941.30,546.57 942.30,546.60 943.30,546.63 944.29,546.60 945.29,546.59 946.29,546.60 947.29,546.59 948.29,546.56 949.28,546.58 950.28,546.60 951.28,546.59 952.28,546.58 953.28,546.63 954.28,546.64 955.27,546.61 956.27,546.63 957.27,546.66 958.27,546.62 959.27,546.61 960.27,546.64 961.26,546.63 962.26,546.63 963.26,546.62 964.26,546.64 965.26,546.62 966.25,546.58 967.25,546.54 968.25,546.50 969.25,546.49 970.25,546.46 971.25,546.51 972.24,546.56 973.24,546.59 974.24,546.62 975.24,546.62 976.24,546.63 977.23,546.60 978.23,546.62 979.23,546.58 980.23,546.60 981.23,546.57 982.23,546.61 983.22,546.63 984.22,546.65 985.22,546.61 986.22,546.63 987.22,546.63 988.21,546.64 989.21,546.61 990.21,546.59 991.21,546.56 992.21,546.53 993.21,546.52 994.20,546.53 995.20,546.58 996.20,546.60" fill="none" stroke-linejoin="round" stroke="#00e800" stroke-width="1.6" stroke-dasharray="4 1.5 0.9 1.5"/>
<polyline points="559.60,695.00 562.60,690.00 569.00,690.00 571.50,692.00 572.50,692.00 573.50,692.00 574.51,692.00 575.51,692.00 576.51,692.00 577.51,692.00 578.51,692.00 579.52,692.00 580.52,692.00 581.52,692.00 582.52,692.00 583.52,692.00 584.53,692.00 585.53,692.00 586.53,692.00 587.53,692.00 588.53,692.00 589.54,692.00 590.54,692.00 591.54,692.00 592.54,692.00 593.54,692.00 594.55,692.00 595.55,692.00 596.55,692.00 597.55,692.00 598.55,692.00 599.56,692.00 600.56,692.00 601.56,692.00 602.56,692.00 603.56,692.00 604.57,692.00 605.57,692.00 606.57,692.00 607.57,692.00 608.57,692.00 609.58,692.00 610.58,692.00 611.58,692.00 612.58,692.00 613.58,692.00 614.59,692.00 615.59,692.00 616.59,692.00 617.59,692.00 618.59,692.00 619.60,691.99 620.60,691.99 621.60,691.99 622.60,692.00 623.60,692.00 624.61,692.00 625.61,692.00 626.61,692.00 627.61,692.01 628.61,692.00 629.62,692.00 630.62,692.00 631.62,692.00 632.62,692.00 633.62,692.00 634.63,692.00 635.63,692.00 636.63,692.00 637.63,692.00 638.64,692.00 639.64,692.00 640.64,692.00 641.64,692.00 642.64,692.01 643.65,692.01 644.65,692.01 645.65,692.01 646.65,692.01 647.65,692.01 648.66,692.01 649.66,692.01 650.66,692.01 651.66,692.01 652.66,692.01 653.67,692.01 654.67,692.01 655.67,692.00 656.67,692.00 657.67,691.99 658.68,691.99 659.68,692.00 660.68,692.00 661.68,692.01 662.68,692.01 663.69,692.01 664.69,692.01 665.69,692.01 666.69,692.01 667.69,692.01 668.70,692.00 669.70,692.00 670.70,692.00 671.70,692.01 672.70,692.01 673.71,692.01 674.71,692.01 675.71,692.01 676.71,692.01 677.71,692.01 678.72,692.00 679.72,692.00 680.72,691.99 681.72,692.00 682.72,692.00 683.73,692.00 684.73,692.00 685.73,692.01 686.73,692.00 687.73,692.01 688.74,692.00 689.74,692.00 690.74,692.00 691.74,692.00 692.74,691.99 693.75,691.99 694.75,691.99 695.75,691.99 696.75,691.99 697.75,691.99 698.76,691.99 699.76,692.01 700.76,692.01 701.76,692.01 702.76,692.01 703.77,692.01 704.77,692.01 705.77,692.01 706.77,692.01 707.77,692.00 708.78,692.00 709.78,692.00 710.78,692.00 711.78,692.00 712.78,692.00 713.79,691.99 714.79,692.00 715.79,691.99 716.79,691.99 717.79,691.99 718.80,691.98 719.80,691.98 720.80,691.99 721.80,691.99 722.80,692.00 723.81,692.01 724.81,692.01 725.81,692.01 726.81,692.02 727.81,692.01 728.82,692.02 729.82,692.01 730.82,692.01 731.82,692.01 732.82,692.01 733.83,692.01 734.83,692.02 735.83,692.01 736.83,692.01 737.83,692.00 738.84,691.99 739.84,691.99 740.84,691.98 741.84,691.98 742.84,691.99 743.85,691.99 744.85,692.01 745.85,692.01 746.85,692.02 747.85,692.02 748.86,692.02 749.86,692.01 750.86,692.01 751.86,692.01 752.86,692.01 753.87,692.01 754.87,692.01 755.87,692.01 756.87,692.01 757.88,692.01 758.88,692.00 759.88,692.01 760.88,692.01 761.88,692.01 762.89,692.00 763.89,691.99 764.89,691.99 765.89,691.99 766.89,691.98 767.90,691.97 768.90,691.97 769.90,691.97 770.90,691.98 771.90,691.97 772.91,691.97 773.91,691.97 774.91,691.98 775.91,691.99 776.91,692.00 777.92,692.00 778.92,692.01 779.92,692.00 780.92,692.00 781.92,692.00 782.93,691.98 783.93,691.99 784.93,691.99 785.93,691.99 786.93,691.98 787.94,691.99 788.94,692.00 789.94,692.01 790.94,692.00 791.94,692.00 792.95,691.99 793.95,691.98 794.95,691.97 795.95,691.97 796.95,691.96 797.96,691.97 798.96,691.97 799.96,691.98 800.96,692.00 801.96,692.02 802.97,692.03 803.97,692.04 804.97,692.04 805.97,692.04 806.97,692.04 807.98,692.04 808.98,692.04 809.98,692.03 810.98,692.03 811.98,692.02 812.99,692.02 813.99,692.01 814.99,692.00 815.99,691.99 816.99,691.98 818.00,691.97 819.00,691.97 820.00,691.97 821.00,691.49 822.00,691.00 824.00,692.00 828.00,691.60 830.50,687.70 831.50,687.70 832.50,687.70 833.49,687.70 834.49,687.70 835.49,687.70 836.49,687.70 837.49,687.70 838.49,687.70 839.48,687.70 840.48,687.70 841.48,687.70 842.48,687.70 843.48,687.70 844.47,687.70 845.47,687.70 846.47,687.70 847.47,687.70 848.47,687.70 849.47,687.70 850.46,687.70 851.46,687.70 852.46,687.70 853.46,687.70 854.46,687.70 855.45,687.70 856.45,687.70 857.45,687.70 858.45,687.70 859.45,687.70 860.45,687.70 861.44,687.70 862.44,687.70 863.44,687.70 864.44,687.70 865.44,687.70 866.43,687.70 867.43,687.70 868.43,687.70 869.43,687.70 870.43,687.70 871.43,687.70 872.42,687.70 873.42,687.70 874.42,687.69 875.42,687.69 876.42,687.69 877.42,687.69 878.41,687.69 879.41,687.69 880.41,687.69 881.41,687.69 882.41,687.69 883.40,687.69 884.40,687.69 885.40,687.69 886.40,687.70 887.40,687.71 888.40,687.71 889.39,687.71 890.39,687.71 891.39,687.72 892.39,687.72 893.39,687.72 894.38,687.71 895.38,687.71 896.38,687.72 897.38,687.72 898.38,687.71 899.38,687.71 900.37,687.71 901.37,687.70 902.37,687.70 903.37,687.70 904.37,687.70 905.36,687.70 906.36,687.70 907.36,687.71 908.36,687.70 909.36,687.70 910.36,687.69 911.35,687.69 912.35,687.70 913.35,687.69 914.35,687.70 915.35,687.70 916.34,687.70 917.34,687.70 918.34,687.70 919.34,687.70 920.34,687.70 921.34,687.69 922.33,687.69 923.33,687.70 924.33,687.69 925.33,687.70 926.33,687.70 927.32,687.70 928.32,687.70 929.32,687.71 930.32,687.71 931.32,687.71 932.32,687.71 933.31,687.71 934.31,687.71 935.31,687.70 936.31,687.69 937.31,687.69 938.30,687.70 939.30,687.69 940.30,687.68 941.30,687.68 942.30,687.69 943.30,687.70 944.29,687.71 945.29,687.71 946.29,687.71 947.29,687.72 948.29,687.72 949.28,687.71 950.28,687.70 951.28,687.70 952.28,687.69 953.28,687.70 954.28,687.70 955.27,687.71 956.27,687.72 957.27,687.71 958.27,687.71 959.27,687.72 960.27,687.71 961.26,687.71 962.26,687.69 963.26,687.69 964.26,687.70 965.26,687.70 966.25,687.70 967.25,687.69 968.25,687.71 969.25,687.70 970.25,687.70 971.25,687.70 972.24,687.69 973.24,687.70 974.24,687.71 975.24,687.70 976.24,687.70 977.23,687.72 978.23,687.72 979.23,687.73 980.23,687.73 981.23,687.71 982.23,687.70 983.22,687.70 984.22,687.69 985.22,687.69 986.22,687.69 987.22,687.68 988.21,687.69 989.21,687.70 990.21,687.69 991.21,687.69 992.21,687.69 993.21,687.70 994.20,687.70 995.20,687.71 996.20,687.71" fill="none" stroke-linejoin="round" stroke="#f81818" stroke-width="1.7"/>
<polyline points="559.60,695.00 559.63,694.57 559.66,694.07 559.70,693.92 559.73,693.38 559.76,692.34 559.79,692.35 559.83,691.40 559.86,692.95 559.89,690.67 559.92,689.86 559.95,691.52 559.99,691.27 560.02,687.99 560.05,692.14 560.08,691.10 560.11,686.82 560.15,687.14 560.18,689.55 560.21,684.78 560.24,686.56 560.27,687.59 560.31,683.31 560.34,687.46 560.37,685.91 560.40,688.04 560.44,682.34 560.47,683.87 560.50,684.98 560.89,687.29 561.29,682.63 561.68,682.70 562.07,680.78 562.46,681.20 562.86,682.02 563.25,675.25 563.64,684.51 564.04,683.14 564.43,682.76 564.82,685.13 565.21,676.43 565.61,686.59 566.00,683.11 566.40,683.83 566.80,682.32 567.20,686.48 567.60,684.78 568.00,682.81 568.40,682.99 568.80,684.64 569.20,680.11 569.60,684.05 570.00,683.42 570.04,682.05 570.09,684.60 570.13,685.01 570.17,685.25 570.22,684.77 570.26,683.02 570.30,685.13 570.35,685.62 570.39,687.29 570.43,686.45 570.48,688.24 570.52,688.55 570.57,687.94 570.61,688.38 570.65,688.64 570.70,689.56 570.74,689.75 570.78,689.82 570.83,690.40 570.87,691.02 570.91,691.42 570.96,691.71 571.00,692.00 571.05,691.61 571.10,691.24 571.15,690.87 571.20,690.39 571.25,689.88 571.30,689.61 571.35,689.39 571.40,688.80 571.45,688.17 571.50,687.70 571.55,687.94 571.60,687.15 571.65,686.32 571.70,686.24 571.75,686.35 571.80,686.44 571.85,684.83 571.90,685.19 571.95,684.19 572.00,684.03 572.11,682.77 572.21,683.79 572.32,681.59 572.43,682.00 572.54,680.02 572.64,681.73 572.75,681.34 572.86,681.76 572.96,680.93 573.07,679.95 573.18,680.76 573.29,677.43 573.39,680.18 573.50,677.45 573.90,677.42 574.30,676.93 574.70,679.53 575.10,678.70 575.50,678.34 575.90,677.97 576.30,677.44 576.70,677.49 577.10,679.07 577.51,676.46 577.91,676.87 578.31,677.92 578.71,680.01 579.11,680.77 579.51,678.96 579.91,679.45 580.31,679.26 580.71,677.93 581.11,681.43 581.51,676.49 581.91,677.01 582.31,680.03 582.71,679.12 583.11,678.31 583.51,678.12 583.91,678.91 584.31,679.60 584.71,680.23 585.12,677.32 585.52,677.67 585.92,679.64 586.32,682.17 586.72,678.75 587.12,679.07 587.52,678.78 587.92,676.49 588.32,678.57 588.72,679.19 589.12,679.69 589.52,679.73 589.92,679.45 590.32,677.74 590.72,678.78 591.12,675.58 591.52,677.71 591.92,678.84 592.32,676.88 592.73,677.87 593.13,678.92 593.53,676.66 593.93,679.70 594.33,677.61 594.73,676.01 595.13,677.03 595.53,678.50 595.93,679.59 596.33,674.87 596.73,677.34 597.13,678.95 597.53,678.65 597.93,679.37 598.33,678.57 598.73,678.12 599.13,679.17 599.53,680.00 599.93,678.71 600.34,680.35 600.74,680.27 601.14,676.94 601.54,674.43 601.94,679.66 602.34,680.24 602.74,678.63 603.14,676.61 603.54,677.27 603.94,679.10 604.34,678.52 604.74,682.15 605.14,680.10 605.54,678.07 605.94,679.85 606.34,678.98 606.74,678.95 607.14,680.41 607.54,679.26 607.95,677.97 608.35,680.76 608.75,679.03 609.15,678.15 609.55,677.49 609.95,679.34 610.35,679.82 610.75,678.86 611.15,678.72 611.55,678.42 611.95,678.42 612.35,675.16 612.75,676.43 613.15,679.15 613.55,679.20 613.95,679.94 614.35,678.10 614.75,676.47 615.15,681.11 615.55,679.46 615.96,678.85 616.36,678.04 616.76,677.95 617.16,676.20 617.56,675.88 617.96,678.80 618.36,682.06 618.76,681.26 619.16,679.34 619.56,679.67 619.96,678.81 620.36,680.28 620.76,679.57 621.16,676.97 621.56,676.43 621.96,678.42 622.36,676.25 622.76,676.21 623.16,677.44 623.57,679.36 623.97,680.83 624.37,680.02 624.77,678.83 625.17,677.95 625.57,679.34 625.97,677.45 626.37,679.40 626.77,679.50 627.17,676.76 627.57,678.96 627.97,680.64 628.37,677.19 628.77,676.81 629.17,679.27 629.57,678.59 629.97,678.57 630.37,679.69 630.77,677.85 631.18,679.15 631.58,679.84 631.98,677.67 632.38,677.56 632.78,679.32 633.18,677.10 633.58,678.53 633.98,678.13 634.38,679.70 634.78,676.71 635.18,677.95 635.58,676.60 635.98,676.73 636.38,679.11 636.78,678.79 637.18,679.65 637.58,680.29 637.98,674.65 638.38,676.68 638.79,676.78 639.19,682.08 639.59,676.59 639.99,676.12 640.39,675.02 640.79,678.11 641.19,680.74 641.59,677.63 641.99,676.72 642.39,677.75 642.79,676.73 643.19,682.73 643.59,677.62 643.99,675.27 644.39,677.63 644.79,676.83 645.19,680.92 645.59,679.49 645.99,680.04 646.40,676.79 646.80,679.80 647.20,679.17 647.60,680.88 648.00,678.11 648.40,676.66 648.80,678.93 649.20,681.17 649.60,679.44 650.00,676.54 650.40,679.10 650.80,678.19 651.20,679.84 651.60,679.37 652.00,678.94 652.40,677.18 652.80,676.83 653.20,677.09 653.60,677.79 654.00,680.30 654.40,676.27 654.80,678.37 655.20,680.05 655.60,677.51 656.00,678.62 656.40,680.26 656.80,679.02 657.20,680.31 657.60,678.58 658.00,679.08 658.40,678.10 658.80,678.27 659.20,676.69 659.60,677.83 660.00,677.82 660.40,678.88 660.80,678.91 661.20,677.37 661.60,677.16 662.00,679.49 662.40,677.02 662.80,679.34 663.20,678.71 663.60,677.71 664.00,677.62 664.40,679.58 664.80,677.26 665.20,675.31 665.60,676.99 666.00,679.32 666.40,678.40 666.80,680.32 667.20,679.51 667.60,680.79 668.00,675.30 668.40,678.99 668.80,678.19 669.20,678.39 669.60,678.77 670.00,676.69 670.40,678.34 670.80,677.50 671.20,680.17 671.60,677.69 672.00,676.90 672.40,677.10 672.80,677.93 673.20,676.42 673.60,680.69 674.00,678.73 674.40,681.42 674.80,675.91 675.20,677.55 675.60,677.04 676.00,678.72 676.40,675.71 676.80,680.40 677.20,678.53 677.60,676.76 678.00,678.14 678.40,677.92 678.80,679.33 679.20,678.73 679.60,677.15 680.00,678.80 680.40,678.61 680.80,678.43 681.20,678.24 681.60,678.40 682.00,676.25 682.40,678.08 682.80,675.41 683.20,676.92 683.60,677.56 684.00,677.45 684.40,679.41 684.80,677.57 685.20,681.84 685.60,679.30 686.00,681.95 686.40,678.24 686.80,678.59 687.20,677.97 687.60,676.04 688.00,679.16 688.40,678.47 688.80,675.83 689.20,675.40 689.60,678.89 690.00,674.34 690.40,679.30 690.80,679.28 691.20,678.15 691.60,677.76 692.00,682.32 692.40,678.91 692.80,678.58 693.20,675.96 693.60,677.03 694.00,679.63 694.40,678.30 694.80,680.23 695.20,681.15 695.60,682.50 696.00,678.39 696.40,676.92 696.80,677.92 697.20,677.70 697.60,680.69 698.00,678.94 698.40,678.25 698.80,679.79 699.20,674.26 699.60,681.60 700.00,681.24 700.40,677.95 700.80,675.55 701.20,677.55 701.60,677.28 702.00,681.89 702.40,678.62 702.80,677.19 703.20,678.68 703.60,676.80 704.00,678.56 704.40,680.04 704.80,677.86 705.20,679.02 705.60,680.38 706.00,677.41 706.40,678.30 706.80,678.18 707.20,680.13 707.60,679.97 708.00,676.22 708.40,676.30 708.80,678.09 709.20,679.54 709.60,675.75 710.00,681.99 710.40,678.94 710.80,678.27 711.20,677.78 711.60,676.58 712.00,680.63 712.40,678.41 712.80,676.06 713.20,678.05 713.60,676.75 714.00,679.21 714.40,679.58 714.80,677.48 715.20,677.80 715.60,679.49 716.00,675.85 716.40,680.45 716.80,679.87 717.20,679.61 717.60,677.70 718.00,678.15 718.40,676.93 718.80,680.25 719.20,674.83 719.60,681.06 720.00,681.02 720.40,676.87 720.80,678.63 721.20,679.33 721.60,679.90 722.00,681.22 722.40,680.79 722.80,678.86 723.20,680.33 723.60,677.23 724.00,680.26 724.40,680.69 724.80,679.45 725.20,677.09 725.60,676.24 726.00,677.22 726.40,679.50 726.80,679.05 727.20,676.99 727.60,679.64 728.00,674.10 728.40,678.61 728.80,677.21 729.20,680.19 729.60,677.37 730.00,678.03 730.40,678.30 730.80,679.33 731.20,677.66 731.60,676.24 732.00,681.14 732.40,680.49 732.80,676.15 733.20,677.98 733.60,676.92 734.00,680.49 734.40,678.54 734.80,677.59 735.20,681.05 735.60,676.14 736.00,679.40 736.40,676.39 736.80,678.25 737.20,678.96 737.60,681.16 738.00,680.11 738.40,675.40 738.80,676.92 739.20,678.82 739.60,678.46 740.00,678.63 740.40,678.56 740.80,680.06 741.20,678.79 741.60,679.64 742.00,676.04 742.40,676.57 742.80,676.90 743.20,680.84 743.60,676.33 744.00,680.36 744.40,679.83 744.80,678.02 745.20,679.69 745.60,677.95 746.00,679.11 746.40,678.53 746.80,677.76 747.20,679.58 747.60,678.76 748.00,676.61 748.40,677.84 748.80,676.29 749.20,679.15 749.60,677.31 750.00,681.58 750.40,675.67 750.80,676.83 751.20,675.85 751.60,677.04 752.01,676.50 752.41,674.80 752.81,678.41 753.21,678.71 753.61,680.25 754.01,679.29 754.41,681.11 754.81,679.39 755.21,681.84 755.62,677.31 756.02,679.51 756.42,678.66 756.82,677.57 757.22,678.54 757.62,679.77 758.02,679.87 758.42,679.29 758.83,678.53 759.23,677.33 759.63,677.84 760.03,681.62 760.43,678.18 760.83,676.44 761.23,678.56 761.63,679.36 762.03,680.27 762.44,677.79 762.84,680.76 763.24,679.25 763.64,682.97 764.04,675.43 764.44,681.43 764.84,678.74 765.24,678.36 765.64,680.69 766.05,676.90 766.45,680.35 766.85,678.03 767.25,679.62 767.65,679.30 768.05,677.86 768.45,679.02 768.85,680.52 769.26,676.07 769.66,680.81 770.06,679.59 770.46,679.72 770.86,678.87 771.26,676.82 771.66,677.29 772.06,676.94 772.46,680.66 772.87,680.15 773.27,679.00 773.67,676.41 774.07,678.25 774.47,678.59 774.87,677.24 775.27,678.65 775.67,678.63 776.07,677.86 776.48,678.93 776.88,678.42 777.28,679.93 777.68,678.05 778.08,680.66 778.48,680.63 778.88,677.12 779.28,678.66 779.69,679.61 780.09,680.18 780.49,676.87 780.89,677.25 781.29,676.39 781.69,679.66 782.09,679.36 782.49,676.36 782.89,679.26 783.30,678.22 783.70,678.13 784.10,676.26 784.50,676.23 784.90,676.76 785.30,678.50 785.70,678.28 786.10,676.08 786.50,679.88 786.91,676.24 787.31,676.92 787.71,679.00 788.11,678.47 788.51,679.46 788.91,682.95 789.31,679.06 789.71,681.98 790.11,675.55 790.52,679.74 790.92,676.67 791.32,677.16 791.72,679.15 792.12,676.94 792.52,677.88 792.92,677.70 793.32,677.83 793.73,677.46 794.13,676.67 794.53,680.79 794.93,676.37 795.33,678.74 795.73,678.92 796.13,677.28 796.53,680.79 796.93,680.40 797.34,679.79 797.74,677.45 798.14,677.42 798.54,677.41 798.94,676.98 799.34,676.63 799.74,679.29 800.14,679.94 800.54,677.81 800.95,679.85 801.35,679.10 801.75,679.21 802.15,677.80 802.55,680.71 802.95,676.98 803.35,678.17 803.75,679.12 804.16,678.91 804.56,678.66 804.96,679.46 805.36,678.72 805.76,678.97 806.16,676.58 806.56,677.02 806.96,678.45 807.36,677.64 807.77,676.21 808.17,678.41 808.57,678.64 808.97,678.10 809.37,674.64 809.77,680.24 810.17,679.20 810.57,677.26 810.97,677.97 811.38,678.62 811.78,679.19 812.18,678.70 812.58,680.82 812.98,678.28 813.38,679.98 813.78,679.99 814.18,677.67 814.59,677.47 814.99,676.45 815.39,681.28 815.79,678.04 816.19,677.93 816.59,681.33 816.99,679.67 817.39,678.07 817.79,678.28 818.20,678.45 818.60,676.93 819.00,677.09 819.40,679.52 819.80,678.35 820.10,678.37 820.40,679.00 820.60,613.70 822.00,611.30 823.50,608.20 824.50,593.40 825.50,584.00 826.50,607.40 827.50,584.00 828.50,590.30 830.00,600.40 830.25,600.13 830.50,599.79 830.75,599.35 831.00,599.29 831.25,598.71 831.50,599.12 831.75,598.58 832.00,598.09 832.40,598.52 832.80,598.12 833.20,599.26 833.60,597.32 834.00,597.92 834.40,598.22 834.80,598.96 835.20,597.26 835.60,598.56 836.00,599.00 836.40,598.46 836.80,599.23 837.20,598.18 837.60,597.74 838.00,600.26 838.40,600.22 838.80,597.61 839.20,598.91 839.60,600.00 840.00,599.19 840.40,598.62 840.80,600.77 841.20,600.18 841.60,600.30 842.00,599.16 842.40,600.01 842.80,599.13 843.20,599.28 843.60,600.04 844.00,600.46 844.40,600.88 844.80,600.00 845.20,599.86 845.60,600.14 846.00,600.33 846.40,601.40 846.80,601.44 847.20,601.12 847.60,600.75 848.00,600.48 848.40,600.27 848.80,600.14 849.20,601.36 849.60,600.66 850.00,599.98 850.40,601.93 850.80,600.78 851.20,601.66 851.60,602.01 852.00,602.29 852.40,603.03 852.80,599.66 853.20,601.51 853.60,599.80 854.00,601.57 854.40,601.61 854.80,602.91 855.20,602.76 855.60,602.97 856.00,599.81 856.40,601.49 856.80,602.28 857.20,602.10 857.60,601.54 858.00,600.15 858.40,604.09 858.80,603.53 859.20,601.55 859.60,602.43 860.00,601.78 860.40,605.02 860.80,602.16 861.20,602.89 861.60,601.75 862.00,602.73 862.40,602.83 862.80,601.10 863.20,603.74 863.60,602.59 864.00,602.30 864.40,602.78 864.80,602.62 865.20,602.13 865.60,600.79 866.00,601.83 866.40,599.75 866.80,601.63 867.20,603.59 867.60,601.78 868.00,602.55 868.40,602.49 868.80,602.83 869.20,601.16 869.60,601.91 870.00,603.25 870.40,602.08 870.80,601.51 871.20,602.52 871.60,601.25 872.01,603.31 872.41,602.83 872.81,602.64 873.21,600.21 873.61,601.97 874.01,601.49 874.41,603.45 874.81,602.86 875.22,603.22 875.62,602.70 876.02,603.24 876.42,601.04 876.82,601.88 877.22,601.27 877.62,601.29 878.02,600.38 878.43,602.61 878.83,601.79 879.23,601.65 879.63,602.73 880.03,601.81 880.43,602.04 880.83,601.06 881.23,601.07 881.64,598.82 882.04,603.11 882.44,603.77 882.84,603.94 883.24,601.97 883.64,601.67 884.04,601.75 884.44,605.34 884.85,603.22 885.25,603.68 885.65,601.40 886.05,601.34 886.45,601.84 886.85,602.94 887.25,602.97 887.65,601.91 888.06,602.50 888.46,602.56 888.86,599.51 889.26,599.22 889.66,601.59 890.06,601.58 890.46,603.28 890.86,600.43 891.27,602.13 891.67,602.25 892.07,601.61 892.47,601.85 892.87,602.09 893.27,602.97 893.67,604.68 894.07,604.49 894.48,602.52 894.88,601.97 895.28,603.25 895.68,601.80 896.08,601.32 896.48,602.77 896.88,599.41 897.28,602.45 897.69,603.96 898.09,601.57 898.49,601.95 898.89,601.81 899.29,603.51 899.69,600.78 900.09,603.00 900.49,602.81 900.90,601.38 901.30,601.95 901.70,603.20 902.10,601.19 902.50,601.40 902.90,602.70 903.30,600.72 903.70,603.02 904.10,601.32 904.51,601.60 904.91,598.66 905.31,601.65 905.71,603.47 906.11,601.59 906.51,603.65 906.91,602.63 907.31,600.91 907.72,602.88 908.12,602.56 908.52,601.23 908.92,602.24 909.32,601.57 909.72,600.71 910.12,602.09 910.52,602.06 910.93,601.12 911.33,602.04 911.73,603.13 912.13,602.09 912.53,599.32 912.93,603.25 913.33,602.84 913.73,600.44 914.14,602.28 914.54,600.05 914.94,602.86 915.34,600.75 915.74,601.71 916.14,601.92 916.54,602.02 916.94,602.30 917.35,602.77 917.75,603.19 918.15,602.72 918.55,599.93 918.95,601.86 919.35,601.16 919.75,602.90 920.15,603.69 920.56,600.11 920.96,600.47 921.36,600.18 921.76,599.24 922.16,600.90 922.56,602.26 922.96,602.36 923.36,602.56 923.77,600.92 924.17,601.19 924.57,602.24 924.97,601.28 925.37,601.52 925.77,602.03 926.17,603.20 926.57,601.48 926.98,601.86 927.38,601.30 927.78,602.42 928.18,600.85 928.58,602.18 928.98,601.15 929.38,602.36 929.78,599.91 930.19,600.68 930.59,599.60 930.99,600.15 931.39,601.90 931.79,601.20 932.19,602.42 932.59,601.67 932.99,603.58 933.40,602.80 933.80,602.18 934.20,602.14 934.60,600.85 935.00,600.61 935.40,602.08 935.80,601.97 936.20,600.71 936.60,602.10 937.00,603.78 937.40,601.52 937.80,601.68 938.20,600.29 938.60,602.94 939.00,600.70 939.40,600.49 939.80,602.31 940.20,601.33 940.60,602.73 941.00,600.89 941.40,602.14 941.80,601.22 942.20,600.64 942.60,603.08 943.00,599.05 943.40,602.08 943.80,600.85 944.20,599.95 944.60,601.02 945.00,602.95 945.40,602.31 945.80,601.44 946.20,602.10 946.60,599.42 947.00,601.20 947.40,600.78 947.80,602.27 948.20,602.68 948.60,603.27 949.00,600.55 949.40,603.02 949.80,602.37 950.20,601.15 950.60,600.45 951.00,601.80 951.40,601.84 951.80,601.94 952.20,601.72 952.60,600.52 953.00,601.11 953.40,601.33 953.80,600.63 954.20,601.85 954.60,602.49 955.00,601.63 955.40,603.94 955.80,602.22 956.20,601.35 956.60,601.38 957.00,602.02 957.40,600.50 957.80,602.10 958.20,601.69 958.60,601.49 959.00,600.66 959.40,602.14 959.80,601.49 960.20,601.10 960.60,600.45 961.00,601.58 961.40,599.97 961.80,602.39 962.20,601.82 962.60,602.51 963.00,602.01 963.40,599.22 963.80,602.15 964.20,601.87 964.60,602.63 965.00,602.96 965.40,601.97 965.80,601.71 966.20,599.19 966.60,602.18 967.00,601.33 967.40,602.05 967.80,601.29 968.20,601.63 968.60,601.85 969.00,601.68 969.40,601.64 969.80,602.86 970.20,603.47 970.60,602.52 971.00,601.06 971.40,602.24 971.80,602.73 972.20,601.59 972.60,601.34 973.00,601.11 973.40,600.76 973.80,603.16 974.20,602.29 974.60,600.39 975.00,600.55 975.40,601.54 975.80,604.93 976.20,601.95 976.60,602.73 977.00,601.53 977.40,601.06 977.80,601.30 978.20,602.58 978.60,600.27 979.00,603.12 979.40,600.57 979.80,600.34 980.20,602.71 980.60,602.20 981.00,600.84 981.40,601.92 981.80,603.12 982.20,602.12 982.60,601.79 983.00,602.26 983.40,600.91 983.80,601.67 984.20,602.74 984.60,600.97 985.00,600.72 985.40,602.83 985.80,601.03 986.20,599.26 986.60,600.70 987.00,602.35 987.40,600.86 987.80,603.41 988.20,600.39 988.60,601.79 989.00,603.44 989.40,601.81 989.80,603.05 990.20,601.22 990.60,601.15 991.00,603.73 991.40,603.09 991.80,602.58 992.20,601.46 992.60,602.59 993.00,601.70 993.40,600.58 993.80,599.70 994.20,601.51 994.60,602.18 995.00,602.93 995.40,602.01 995.80,604.62 996.20,601.04" fill="none" stroke-linejoin="round" stroke="#0000f0" stroke-width="1.35" stroke-dasharray="1.5 2.0"/>
<rect x="60.50" y="18.20" width="98" height="58.4" fill="#fff" stroke="#2a2a2a" stroke-width="1.2"/>
<text x="118.80" y="36.70" text-anchor="end" class="lg">AEDR</text>
<polyline points="124.80,32.70 153.00,32.70" fill="none" stroke-linejoin="round" stroke="#f81818" stroke-width="1.7"/>
<text x="118.80" y="46.40" text-anchor="end" class="lg">EDR</text>
<polyline points="124.80,42.40 153.00,42.40" fill="none" stroke-linejoin="round" stroke="#0000f0" stroke-width="1.35" stroke-dasharray="1.5 2.0"/>
<text x="118.80" y="56.10" text-anchor="end" class="lg">AEDR+Th</text>
<polyline points="124.80,52.10 153.00,52.10" fill="none" stroke-linejoin="round" stroke="#00e800" stroke-width="1.6" stroke-dasharray="4 1.5 0.9 1.5"/>
<text x="118.80" y="65.80" text-anchor="end" class="lg">Th</text>
<polyline points="124.80,61.80 153.00,61.80" fill="none" stroke-linejoin="round" stroke="#a02222" stroke-width="1.5" stroke-dasharray="1.3 1.8 1.3 4.0"/>
<rect x="566.60" y="18.70" width="98" height="58.4" fill="#fff" stroke="#2a2a2a" stroke-width="1.2"/>
<text x="624.90" y="37.20" text-anchor="end" class="lg">AEDR</text>
<polyline points="630.90,33.20 659.10,33.20" fill="none" stroke-linejoin="round" stroke="#f81818" stroke-width="1.7"/>
<text x="624.90" y="46.90" text-anchor="end" class="lg">EDR</text>
<polyline points="630.90,42.90 659.10,42.90" fill="none" stroke-linejoin="round" stroke="#0000f0" stroke-width="1.35" stroke-dasharray="1.5 2.0"/>
<text x="624.90" y="56.60" text-anchor="end" class="lg">AEDR+Th</text>
<polyline points="630.90,52.60 659.10,52.60" fill="none" stroke-linejoin="round" stroke="#00e800" stroke-width="1.6" stroke-dasharray="4 1.5 0.9 1.5"/>
<text x="624.90" y="66.30" text-anchor="end" class="lg">Th</text>
<polyline points="630.90,62.30 659.10,62.30" fill="none" stroke-linejoin="round" stroke="#a02222" stroke-width="1.5" stroke-dasharray="1.3 1.8 1.3 4.0"/>
<rect x="61.00" y="402.70" width="98" height="58.4" fill="#fff" stroke="#2a2a2a" stroke-width="1.2"/>
<text x="119.30" y="421.20" text-anchor="end" class="lg">AEDR</text>
<polyline points="125.30,417.20 153.50,417.20" fill="none" stroke-linejoin="round" stroke="#f81818" stroke-width="1.7"/>
<text x="119.30" y="430.90" text-anchor="end" class="lg">EDR</text>
<polyline points="125.30,426.90 153.50,426.90" fill="none" stroke-linejoin="round" stroke="#0000f0" stroke-width="1.35" stroke-dasharray="1.5 2.0"/>
<text x="119.30" y="440.60" text-anchor="end" class="lg">AEDR+Th</text>
<polyline points="125.30,436.60 153.50,436.60" fill="none" stroke-linejoin="round" stroke="#00e800" stroke-width="1.6" stroke-dasharray="4 1.5 0.9 1.5"/>
<text x="119.30" y="450.30" text-anchor="end" class="lg">Th</text>
<polyline points="125.30,446.30 153.50,446.30" fill="none" stroke-linejoin="round" stroke="#a02222" stroke-width="1.5" stroke-dasharray="1.3 1.8 1.3 4.0"/>
<rect x="565.10" y="402.20" width="98" height="58.4" fill="#fff" stroke="#2a2a2a" stroke-width="1.2"/>
<text x="623.40" y="420.70" text-anchor="end" class="lg">AEDR</text>
<polyline points="629.40,416.70 657.60,416.70" fill="none" stroke-linejoin="round" stroke="#f81818" stroke-width="1.7"/>
<text x="623.40" y="430.40" text-anchor="end" class="lg">EDR</text>
<polyline points="629.40,426.40 657.60,426.40" fill="none" stroke-linejoin="round" stroke="#0000f0" stroke-width="1.35" stroke-dasharray="1.5 2.0"/>
<text x="623.40" y="440.10" text-anchor="end" class="lg">AEDR+Th</text>
<polyline points="629.40,436.10 657.60,436.10" fill="none" stroke-linejoin="round" stroke="#00e800" stroke-width="1.6" stroke-dasharray="4 1.5 0.9 1.5"/>
<text x="623.40" y="449.80" text-anchor="end" class="lg">Th</text>
<polyline points="629.40,445.80 657.60,445.80" fill="none" stroke-linejoin="round" stroke="#a02222" stroke-width="1.5" stroke-dasharray="1.3 1.8 1.3 4.0"/>
</svg>
</body></html>
